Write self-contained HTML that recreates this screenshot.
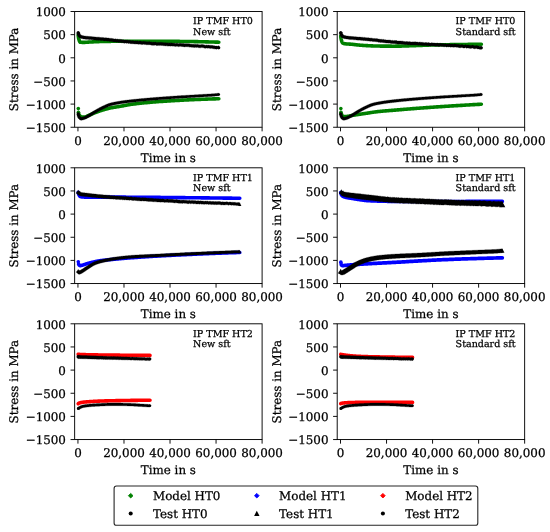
<!DOCTYPE html>
<html lang="en"><head><meta charset="utf-8"><title>Stress relaxation: model vs test</title>
<style>html,body{margin:0;padding:0;background:#fff;}body{width:550px;height:532px;overflow:hidden;}svg{display:block;}text{text-rendering:geometricPrecision;font-family:"DejaVu Serif","Liberation Serif",serif;fill:#000;stroke:#000;stroke-width:0.25px;}.t{font-size:11.9px;}.s{font-size:9.55px;}.ax{fill:none;stroke:#000;stroke-width:0.94;}.ln{fill:none;stroke-linecap:round;stroke-linejoin:round;}</style></head><body>
<svg width="550" height="532" viewBox="0 0 550 532">
<rect width="550" height="532" fill="#fff"/>
<g>
<path class="ln" stroke="#008000" stroke-width="3.6" d="M78.18 35.11 L78.24 35.7 L78.31 36.27 L78.39 36.82 L78.46 37.35 L78.55 37.85 L78.64 38.32 L78.73 38.75 L78.83 39.15 L78.94 39.52 L79.05 39.9 L79.17 40.28 L79.29 40.66 L79.42 41.01 L79.55 41.33 L79.69 41.62 L79.83 41.85 L79.98 42.03 L80.13 42.13 L80.29 42.17 L80.45 42.19 L80.62 42.22 L80.8 42.24 L80.98 42.26 L81.16 42.28 L81.35 42.3 L81.55 42.31 L81.75 42.33 L81.96 42.34 L82.17 42.35 L82.39 42.36 L82.61 42.37 L82.84 42.37 L83.07 42.38 L83.31 42.38 L83.55 42.38 L83.8 42.38 L84.06 42.38 L84.32 42.37 L84.58 42.36 L84.85 42.35 L85.13 42.34 L85.41 42.32 L85.7 42.31 L85.99 42.29 L86.28 42.27 L86.59 42.25 L86.89 42.23 L87.21 42.2 L87.52 42.18 L87.85 42.16 L88.18 42.14 L88.51 42.11 L88.85 42.09 L89.2 42.07 L89.55 42.05 L89.9 42.03 L90.26 42.01 L90.63 41.99 L91 41.97 L91.38 41.95 L91.76 41.93 L92.14 41.91 L92.54 41.88 L92.94 41.86 L93.34 41.84 L93.75 41.81 L94.16 41.79 L94.58 41.77 L95 41.75 L95.43 41.73 L95.87 41.7 L96.31 41.68 L96.75 41.66 L97.21 41.65 L97.66 41.63 L98.12 41.61 L98.59 41.6 L99.06 41.58 L99.54 41.57 L100.02 41.55 L100.51 41.54 L101 41.53 L101.5 41.51 L102.01 41.5 L102.52 41.48 L103.03 41.47 L103.55 41.46 L104.08 41.44 L104.61 41.43 L105.14 41.42 L105.69 41.41 L106.23 41.4 L106.78 41.38 L107.34 41.37 L107.9 41.36 L108.47 41.36 L109.04 41.35 L109.62 41.34 L110.21 41.33 L110.8 41.33 L111.39 41.32 L111.99 41.32 L112.6 41.32 L113.21 41.31 L113.82 41.31 L114.44 41.31 L115.07 41.31 L115.7 41.3 L116.34 41.3 L116.98 41.3 L117.63 41.3 L118.28 41.3 L118.94 41.29 L119.6 41.29 L120.27 41.29 L120.94 41.29 L121.62 41.29 L122.31 41.29 L123 41.28 L123.69 41.28 L124.39 41.28 L125.1 41.28 L125.81 41.28 L126.53 41.28 L127.25 41.28 L127.98 41.28 L128.71 41.27 L129.45 41.27 L130.19 41.27 L130.94 41.27 L131.69 41.27 L132.45 41.27 L133.22 41.27 L133.99 41.27 L134.76 41.27 L135.54 41.27 L136.33 41.27 L137.12 41.27 L137.91 41.27 L138.72 41.27 L139.52 41.27 L140.33 41.27 L141.15 41.27 L141.97 41.28 L142.8 41.28 L143.64 41.28 L144.48 41.28 L145.32 41.28 L146.17 41.28 L147.02 41.28 L147.88 41.29 L148.75 41.29 L149.62 41.29 L150.5 41.29 L151.38 41.3 L152.26 41.3 L153.15 41.3 L154.05 41.31 L154.95 41.31 L155.86 41.31 L156.78 41.31 L157.69 41.32 L158.62 41.32 L159.55 41.33 L160.48 41.33 L161.42 41.33 L162.37 41.34 L163.32 41.34 L164.27 41.35 L165.23 41.35 L166.2 41.35 L167.17 41.36 L168.15 41.36 L169.13 41.37 L170.12 41.37 L171.11 41.38 L172.11 41.38 L173.11 41.39 L174.12 41.4 L175.13 41.4 L176.15 41.41 L177.18 41.41 L178.21 41.42 L179.24 41.42 L180.28 41.43 L181.33 41.44 L182.38 41.44 L183.44 41.45 L184.5 41.46 L185.57 41.46 L186.64 41.47 L187.72 41.48 L188.8 41.5 L189.89 41.51 L190.98 41.53 L192.08 41.54 L193.19 41.56 L194.29 41.58 L195.41 41.61 L196.53 41.63 L197.66 41.65 L198.79 41.68 L199.92 41.7 L201.06 41.73 L202.21 41.76 L203.36 41.79 L204.52 41.82 L205.68 41.84 L206.85 41.88 L208.03 41.91 L209.2 41.94 L210.39 41.97 L211.58 42 L212.77 42.03 L213.97 42.07 L215.18 42.1 L216.39 42.13 L217.6 42.16 L218.82 42.2"/>
<path class="ln" stroke="#008000" stroke-width="3.6" d="M78.64 113.36 L78.73 113.65 L78.83 113.94 L78.93 114.22 L79.04 114.48 L79.15 114.73 L79.27 114.97 L79.39 115.19 L79.52 115.39 L79.65 115.57 L79.79 115.76 L79.93 115.96 L80.08 116.15 L80.23 116.34 L80.39 116.51 L80.56 116.67 L80.72 116.81 L80.9 116.92 L81.07 117 L81.26 117.05 L81.44 117.06 L81.64 117.06 L81.84 117.06 L82.04 117.06 L82.25 117.06 L82.46 117.06 L82.68 117.06 L82.9 117.06 L83.13 117.06 L83.36 117.06 L83.6 117.06 L83.84 117.06 L84.09 117.06 L84.35 117.06 L84.6 117.06 L84.87 117.06 L85.14 117.04 L85.41 116.99 L85.69 116.9 L85.97 116.79 L86.26 116.66 L86.55 116.51 L86.85 116.35 L87.15 116.19 L87.46 116.02 L87.78 115.85 L88.09 115.7 L88.42 115.56 L88.75 115.41 L89.08 115.27 L89.42 115.12 L89.76 114.97 L90.11 114.82 L90.47 114.66 L90.82 114.5 L91.19 114.34 L91.56 114.18 L91.93 114.02 L92.31 113.86 L92.69 113.69 L93.08 113.53 L93.48 113.37 L93.88 113.2 L94.28 113.04 L94.69 112.88 L95.1 112.71 L95.52 112.54 L95.95 112.38 L96.37 112.21 L96.81 112.04 L97.25 111.87 L97.69 111.7 L98.14 111.54 L98.6 111.37 L99.05 111.21 L99.52 111.05 L99.99 110.89 L100.46 110.74 L100.94 110.58 L101.43 110.43 L101.92 110.28 L102.41 110.13 L102.91 109.98 L103.41 109.83 L103.92 109.68 L104.44 109.53 L104.96 109.38 L105.48 109.24 L106.01 109.09 L106.55 108.94 L107.09 108.79 L107.63 108.65 L108.18 108.51 L108.73 108.37 L109.29 108.23 L109.86 108.1 L110.43 107.98 L111 107.86 L111.58 107.75 L112.17 107.64 L112.76 107.54 L113.35 107.43 L113.95 107.33 L114.56 107.23 L115.17 107.13 L115.78 107.04 L116.4 106.94 L117.03 106.84 L117.66 106.74 L118.29 106.64 L118.93 106.54 L119.58 106.44 L120.23 106.33 L120.88 106.22 L121.54 106.1 L122.21 105.98 L122.88 105.86 L123.55 105.73 L124.24 105.6 L124.92 105.46 L125.61 105.33 L126.31 105.19 L127.01 105.06 L127.71 104.93 L128.42 104.8 L129.14 104.68 L129.86 104.55 L130.58 104.44 L131.31 104.33 L132.05 104.23 L132.79 104.14 L133.54 104.04 L134.29 103.95 L135.04 103.85 L135.8 103.76 L136.57 103.67 L137.34 103.58 L138.12 103.49 L138.9 103.41 L139.68 103.32 L140.47 103.23 L141.27 103.15 L142.07 103.07 L142.88 102.98 L143.69 102.9 L144.5 102.82 L145.32 102.74 L146.15 102.66 L146.98 102.59 L147.82 102.51 L148.66 102.43 L149.5 102.36 L150.35 102.28 L151.21 102.21 L152.07 102.14 L152.94 102.07 L153.81 101.99 L154.69 101.92 L155.57 101.85 L156.45 101.79 L157.34 101.72 L158.24 101.65 L159.14 101.58 L160.05 101.52 L160.96 101.45 L161.88 101.39 L162.8 101.33 L163.72 101.26 L164.66 101.2 L165.59 101.14 L166.53 101.08 L167.48 101.02 L168.43 100.96 L169.39 100.9 L170.35 100.84 L171.32 100.78 L172.29 100.72 L173.27 100.67 L174.25 100.61 L175.23 100.55 L176.23 100.5 L177.22 100.44 L178.22 100.39 L179.23 100.33 L180.24 100.28 L181.26 100.23 L182.28 100.17 L183.31 100.12 L184.34 100.07 L185.38 100.02 L186.42 99.96 L187.47 99.91 L188.52 99.86 L189.58 99.81 L190.64 99.77 L191.71 99.72 L192.78 99.67 L193.86 99.62 L194.94 99.57 L196.02 99.53 L197.12 99.48 L198.21 99.44 L199.32 99.39 L200.42 99.35 L201.54 99.3 L202.65 99.26 L203.78 99.22 L204.9 99.18 L206.04 99.14 L207.17 99.1 L208.32 99.06 L209.46 99.02 L210.62 98.98 L211.77 98.94 L212.94 98.9 L214.1 98.87 L215.28 98.83 L216.45 98.8 L217.64 98.76 L218.82 98.73"/>
<circle cx="78.3" cy="108.59" r="1.8" fill="#008000"/>
<circle cx="78.41" cy="112.2" r="1.8" fill="#008000"/>
<path fill="#000" stroke="#000" stroke-width="0.3" stroke-linejoin="round" d="M76.68 32.92 L76.73 33.08 L76.78 33.46 L76.83 33.61 L76.89 33.86 L76.95 34.09 L77.03 34.31 L77.1 34.5 L77.18 34.71 L77.27 34.9 L77.35 35.12 L77.45 35.27 L77.54 35.56 L77.63 35.58 L77.72 35.93 L77.85 35.99 L78 36.28 L78.09 36.39 L78.21 36.64 L78.38 36.85 L78.52 36.88 L78.63 36.96 L78.75 37.23 L78.95 37.32 L79.14 37.43 L79.24 37.5 L79.42 37.79 L79.71 37.96 L79.84 38 L79.96 37.9 L80.19 38.18 L80.46 38.21 L80.68 38.16 L80.67 38.26 L80.83 38.28 L81.17 38.46 L81.24 38.4 L81.31 38.39 L81.52 38.63 L81.69 38.51 L81.83 38.49 L82.04 38.59 L82.27 38.74 L82.39 38.65 L82.45 38.82 L82.61 38.77 L82.92 38.73 L83.13 38.91 L83.29 38.94 L83.55 39.02 L83.64 39.05 L83.87 38.94 L84.14 39.08 L84.36 39.1 L84.64 39.08 L84.75 39.2 L84.91 39.1 L85.22 39.24 L85.4 39.15 L85.58 39.15 L85.8 39.31 L86.07 39.27 L86.29 39.22 L86.49 39.31 L86.77 39.43 L87.02 39.33 L87.15 39.32 L87.32 39.37 L87.67 39.3 L87.93 39.41 L88.06 39.35 L88.35 39.56 L88.59 39.59 L88.82 39.44 L89.11 39.58 L89.42 39.66 L89.73 39.5 L89.93 39.67 L90.15 39.59 L90.44 39.62 L90.71 39.61 L90.99 39.7 L91.29 39.69 L91.56 39.82 L91.8 39.86 L92.06 39.72 L92.38 39.87 L92.72 39.76 L93.02 39.86 L93.28 39.89 L93.54 40.04 L93.88 39.85 L94.19 40.01 L94.46 39.99 L94.81 40.07 L95.12 40.14 L95.41 39.98 L95.8 40.1 L96.11 40.28 L96.46 40.14 L96.77 40.24 L97.02 40.2 L97.44 40.14 L97.82 40.31 L98.14 40.18 L98.45 40.29 L98.7 40.48 L99.11 40.25 L99.5 40.35 L99.77 40.28 L100.19 40.55 L100.58 40.59 L100.9 40.39 L101.26 40.49 L101.61 40.7 L101.99 40.53 L102.3 40.55 L102.64 40.53 L103.09 40.63 L103.52 40.84 L103.88 40.91 L104.24 40.93 L104.65 40.97 L105.06 40.94 L105.46 40.79 L105.89 40.93 L106.34 40.97 L106.72 40.92 L107.01 41.17 L107.42 41.16 L107.86 41.11 L108.26 41.03 L108.71 41.21 L109.17 41.43 L109.59 41.23 L109.95 41.45 L110.34 41.31 L110.8 41.5 L111.22 41.39 L111.65 41.47 L112.09 41.59 L112.53 41.78 L113.01 41.86 L113.46 41.89 L113.89 41.96 L114.35 42 L114.9 42.02 L115.4 41.91 L115.81 42.01 L116.26 42.25 L116.76 42.29 L117.19 42.03 L117.64 42.22 L118.21 42.41 L118.74 42.45 L119.12 42.33 L119.55 42.57 L120.12 42.5 L120.65 42.42 L121.09 42.51 L121.54 42.78 L122.05 42.74 L122.54 42.75 L123.06 42.73 L123.62 43.03 L124.14 43.14 L124.66 43.17 L125.18 43.07 L125.69 43.08 L126.27 43.15 L126.82 43.3 L127.34 43.09 L127.81 43.29 L128.31 43.41 L128.87 43.4 L129.42 43.37 L129.95 43.45 L130.54 43.66 L131.09 43.78 L131.59 43.7 L132.19 43.65 L132.77 43.86 L133.36 43.69 L133.94 44.01 L134.49 43.98 L135.06 43.8 L135.57 44.09 L136.19 43.95 L136.84 44.05 L137.39 43.92 L137.99 44.24 L138.53 44.36 L139.06 44.12 L139.67 44.14 L140.33 44.13 L141 44.16 L141.55 44.6 L142.11 44.54 L142.71 44.42 L143.28 44.31 L143.94 44.35 L144.61 44.57 L145.2 44.45 L145.8 44.61 L146.43 44.76 L147.04 44.76 L147.68 44.74 L148.29 44.81 L148.91 44.67 L149.56 44.72 L150.21 45 L150.84 44.77 L151.5 45.18 L152.18 45.24 L152.8 45.28 L153.42 45.14 L154.11 45.41 L154.82 45.01 L155.51 45.11 L156.17 45.54 L156.86 45.5 L157.52 45.46 L158.14 45.6 L158.9 45.31 L159.62 45.58 L160.26 45.32 L160.93 45.53 L161.61 45.42 L162.28 45.47 L162.95 45.48 L163.65 45.74 L164.33 45.73 L165.02 45.63 L165.75 45.94 L166.49 45.87 L167.22 45.85 L167.92 46.19 L168.67 45.92 L169.37 46.04 L170.09 45.88 L170.87 46.18 L171.55 45.9 L172.25 46.1 L173.01 46.35 L173.79 46.06 L174.48 46.19 L175.21 46.54 L176.03 46.37 L176.76 46.27 L177.5 46.17 L178.29 46.72 L179.06 46.22 L179.77 46.59 L180.48 46.29 L181.29 46.54 L182.08 46.45 L182.85 46.64 L183.62 46.65 L184.38 46.89 L185.17 46.76 L185.93 46.71 L186.72 46.69 L187.53 46.8 L188.31 46.87 L189.07 46.82 L189.85 47.19 L190.65 47.03 L191.48 47.21 L192.28 47.3 L193.14 47.33 L193.98 47.39 L194.73 47.49 L195.55 47.35 L196.38 47.53 L197.23 47.24 L198.1 47.48 L198.92 47.83 L199.73 47.74 L200.5 47.85 L201.29 47.61 L202.22 47.62 L203.1 47.66 L203.93 47.87 L204.76 48.19 L205.57 48.25 L206.41 47.92 L207.28 48.2 L208.19 48.08 L209.05 48.3 L209.87 48.25 L210.69 48.46 L211.57 48.36 L212.44 48.56 L213.36 48.71 L214.25 48.86 L215.03 49.11 L215.81 48.95 L216.62 49.21 L217.43 48.63 L218.26 49.24 L219.38 46.43 L218.42 45.77 L217.45 46.3 L216.49 46 L215.5 46.12 L214.51 45.85 L213.63 45.69 L212.8 45.56 L211.92 45.35 L211.05 45.45 L210.14 45.24 L209.22 45.28 L208.36 45.06 L207.54 45.18 L206.7 44.9 L205.83 45.24 L204.94 45.16 L204.07 44.84 L203.21 44.63 L202.4 44.59 L201.64 44.6 L200.76 44.83 L199.86 44.71 L199.01 44.8 L198.17 44.44 L197.38 44.21 L196.58 44.5 L195.77 44.33 L194.95 44.46 L194.08 44.36 L193.29 44.3 L192.53 44.27 L191.72 44.18 L190.94 44 L190.13 44.16 L189.32 43.79 L188.49 43.84 L187.68 43.76 L186.92 43.65 L186.13 43.67 L185.32 43.72 L184.56 43.86 L183.76 43.61 L182.98 43.6 L182.2 43.41 L181.46 43.5 L180.73 43.25 L179.91 43.55 L179.1 43.17 L178.35 43.68 L177.63 43.13 L176.87 43.22 L176.1 43.33 L175.42 43.5 L174.67 43.15 L173.88 43.02 L173.18 43.31 L172.47 43.06 L171.7 42.86 L170.92 43.13 L170.25 42.83 L169.52 42.99 L168.78 42.87 L168.09 43.14 L167.36 42.8 L166.66 42.82 L165.99 42.89 L165.31 42.6 L164.59 42.69 L163.86 42.69 L163.17 42.43 L162.45 42.42 L161.73 42.37 L161.03 42.48 L160.33 42.26 L159.6 42.52 L158.96 42.25 L158.35 42.55 L157.63 42.41 L156.94 42.45 L156.29 42.48 L155.61 42.05 L154.98 41.96 L154.37 42.36 L153.74 42.1 L153.05 42.23 L152.37 42.19 L151.75 42.13 L151.11 41.72 L150.45 41.95 L149.82 41.67 L149.19 41.62 L148.54 41.75 L147.88 41.69 L147.26 41.7 L146.62 41.7 L146 41.55 L145.36 41.39 L144.71 41.51 L144.15 41.3 L143.58 41.26 L142.93 41.36 L142.32 41.49 L141.67 41.54 L141.02 41.1 L140.49 41.07 L139.96 41.09 L139.39 41.07 L138.74 41.3 L138.1 41.17 L137.53 40.86 L136.92 40.98 L136.42 40.89 L135.88 41.04 L135.25 40.74 L134.67 40.92 L134.09 40.95 L133.54 40.63 L133.01 40.8 L132.47 40.59 L131.96 40.66 L131.36 40.73 L130.8 40.6 L130.3 40.4 L129.73 40.32 L129.2 40.35 L128.69 40.37 L128.12 40.23 L127.52 40.02 L126.97 40.23 L126.48 40.08 L126 40.02 L125.47 40.01 L124.95 40.11 L124.44 40.08 L123.93 39.97 L123.47 39.68 L122.98 39.7 L122.46 39.69 L121.97 39.73 L121.42 39.45 L120.87 39.35 L120.42 39.43 L120 39.53 L119.46 39.27 L118.87 39.38 L118.44 39.34 L118.05 39.17 L117.54 38.97 L117.03 39.22 L116.58 39.19 L116.1 38.95 L115.58 38.84 L115.15 38.95 L114.79 38.95 L114.34 38.92 L113.86 38.83 L113.4 38.8 L112.99 38.73 L112.55 38.54 L112.1 38.43 L111.65 38.34 L111.2 38.44 L110.79 38.26 L110.32 38.39 L109.83 38.15 L109.4 38.36 L109.01 38.14 L108.63 37.97 L108.19 38.05 L107.81 38.1 L107.39 38.11 L106.87 37.83 L106.44 37.88 L106.08 37.85 L105.72 37.72 L105.33 37.87 L104.95 37.9 L104.58 37.87 L104.16 37.83 L103.75 37.77 L103.42 37.56 L103.11 37.48 L102.7 37.49 L102.26 37.45 L101.9 37.63 L101.51 37.41 L101.14 37.31 L100.74 37.51 L100.41 37.47 L100.12 37.21 L99.68 37.27 L99.37 37.17 L99.09 37.41 L98.64 37.21 L98.27 37.1 L97.91 37.22 L97.62 37.05 L97.37 37.14 L96.95 37.16 L96.61 37.05 L96.31 37.2 L95.98 37.01 L95.73 36.91 L95.38 37.06 L95.07 36.99 L94.8 36.92 L94.45 36.93 L94.16 36.77 L93.89 36.97 L93.55 36.81 L93.21 36.77 L92.93 36.67 L92.69 36.79 L92.43 36.65 L92.12 36.78 L91.8 36.73 L91.51 36.61 L91.26 36.62 L90.98 36.53 L90.72 36.54 L90.46 36.51 L90.16 36.58 L89.83 36.41 L89.62 36.58 L89.42 36.5 L89.2 36.37 L88.93 36.51 L88.67 36.49 L88.47 36.28 L88.12 36.32 L87.9 36.21 L87.77 36.31 L87.47 36.24 L87.15 36.24 L86.95 36.34 L86.77 36.23 L86.53 36.14 L86.31 36.18 L86.14 36.24 L85.94 36.07 L85.69 36.07 L85.46 36.15 L85.36 36.04 L85.11 36.13 L84.82 35.99 L84.71 36.02 L84.54 36.01 L84.43 35.89 L84.28 36.02 L84 35.95 L83.89 35.9 L83.7 35.86 L83.55 35.7 L83.51 35.81 L83.33 35.85 L83.06 35.63 L82.84 35.7 L82.75 35.57 L82.64 35.5 L82.46 35.51 L82.33 35.64 L82.23 35.43 L82.01 35.4 L81.78 35.42 L81.84 35.35 L81.73 35.35 L81.44 35.16 L81.39 35.25 L81.39 35.32 L81.37 35.14 L81.24 35.23 L81.12 35.21 L81.17 35.23 L81.12 35.03 L80.99 34.95 L80.96 34.97 L80.94 35.03 L80.85 34.8 L80.76 34.73 L80.69 34.78 L80.67 34.76 L80.6 34.57 L80.51 34.47 L80.49 34.37 L80.44 34.43 L80.37 34.13 L80.29 34.14 L80.23 33.9 L80.18 33.84 L80.12 33.68 L80.07 33.57 L80.02 33.44 L79.97 33.33 L79.92 33.2 L79.87 33.01 L79.82 32.79 L79.77 32.66 L79.73 32.3 L79.68 32.15Z"/>
<circle cx="78.18" cy="32.54" r="1.55" fill="#000"/>
<circle cx="218.82" cy="47.84" r="1.51" fill="#000"/>
<path fill="#000" stroke="#000" stroke-width="0.3" stroke-linejoin="round" d="M76.75 114.07 L76.8 114.36 L76.85 114.66 L76.9 114.95 L76.96 115.24 L77.03 115.53 L77.09 115.81 L77.16 116.08 L77.24 116.35 L77.32 116.61 L77.41 116.86 L77.5 117.11 L77.6 117.34 L77.71 117.55 L77.82 117.74 L77.94 117.92 L78.06 118.1 L78.18 118.27 L78.3 118.43 L78.42 118.59 L78.55 118.74 L78.69 118.89 L78.83 119.04 L78.98 119.18 L79.14 119.32 L79.31 119.46 L79.49 119.59 L79.69 119.72 L79.89 119.83 L80.11 119.93 L80.35 120.02 L80.58 120.09 L80.82 120.14 L81.06 120.17 L81.3 120.17 L81.52 120.17 L81.74 120.15 L81.95 120.13 L82.15 120.1 L82.34 120.06 L82.53 120.02 L82.71 119.98 L82.9 119.94 L83.08 119.89 L83.26 119.84 L83.44 119.79 L83.62 119.74 L83.81 119.69 L84.01 119.63 L84.21 119.58 L84.42 119.51 L84.63 119.44 L84.84 119.36 L85.06 119.28 L85.29 119.19 L85.51 119.09 L85.73 118.99 L85.95 118.88 L86.18 118.78 L86.4 118.66 L86.62 118.55 L86.85 118.43 L87.07 118.31 L87.3 118.19 L87.53 118.07 L87.76 117.95 L87.99 117.82 L88.23 117.69 L88.47 117.57 L88.71 117.43 L88.96 117.3 L89.21 117.17 L89.47 117.03 L89.73 116.88 L90 116.72 L90.26 116.56 L90.53 116.39 L90.81 116.22 L91.08 116.04 L91.35 115.87 L91.63 115.69 L91.9 115.51 L92.18 115.32 L92.46 115.14 L92.74 114.96 L93.02 114.77 L93.3 114.59 L93.59 114.41 L93.87 114.22 L94.17 114.04 L94.46 113.86 L94.76 113.68 L95.06 113.5 L95.36 113.32 L95.67 113.14 L95.98 112.95 L96.3 112.76 L96.61 112.57 L96.93 112.38 L97.25 112.19 L97.58 112 L97.9 111.81 L98.23 111.62 L98.56 111.43 L98.9 111.25 L99.23 111.06 L99.57 110.87 L99.91 110.69 L100.26 110.5 L100.61 110.32 L100.96 110.13 L101.31 109.94 L101.67 109.76 L102.03 109.57 L102.39 109.39 L102.76 109.2 L103.12 109.02 L103.49 108.84 L103.86 108.66 L104.24 108.48 L104.62 108.31 L105 108.13 L105.38 107.96 L105.77 107.78 L106.16 107.6 L106.56 107.43 L106.95 107.25 L107.35 107.07 L107.75 106.9 L108.14 106.73 L108.54 106.57 L108.93 106.42 L109.33 106.27 L109.73 106.13 L110.13 105.99 L110.54 105.87 L110.95 105.76 L111.37 105.64 L111.79 105.54 L112.21 105.43 L112.64 105.32 L113.08 105.22 L113.51 105.12 L113.96 105.03 L114.4 104.93 L114.85 104.84 L115.3 104.75 L115.75 104.66 L116.21 104.57 L116.67 104.49 L117.14 104.4 L117.61 104.32 L118.08 104.24 L118.55 104.16 L119.03 104.08 L119.51 104 L119.99 103.92 L120.48 103.84 L120.97 103.76 L121.46 103.69 L121.96 103.61 L122.46 103.54 L122.96 103.46 L123.46 103.39 L123.97 103.32 L124.48 103.25 L124.99 103.18 L125.5 103.11 L126.02 103.05 L126.54 102.98 L127.07 102.91 L127.6 102.85 L128.13 102.78 L128.66 102.72 L129.2 102.66 L129.74 102.59 L130.28 102.53 L130.83 102.47 L131.37 102.4 L131.93 102.34 L132.48 102.28 L133.04 102.21 L133.6 102.15 L134.16 102.09 L134.73 102.03 L135.3 101.97 L135.87 101.91 L136.44 101.85 L137.02 101.79 L137.6 101.73 L138.18 101.67 L138.77 101.61 L139.36 101.55 L139.95 101.49 L140.54 101.43 L141.14 101.37 L141.74 101.31 L142.34 101.26 L142.95 101.2 L143.56 101.14 L144.17 101.08 L144.78 101.03 L145.4 100.97 L146.02 100.91 L146.64 100.86 L147.27 100.8 L147.9 100.75 L148.53 100.69 L149.17 100.63 L149.8 100.58 L150.44 100.52 L151.09 100.47 L151.73 100.41 L152.38 100.36 L153.03 100.3 L153.69 100.25 L154.35 100.19 L155.01 100.14 L155.67 100.09 L156.34 100.03 L157.01 99.98 L157.68 99.92 L158.35 99.87 L159.03 99.82 L159.71 99.76 L160.39 99.71 L161.08 99.66 L161.77 99.6 L162.46 99.55 L163.16 99.5 L163.85 99.45 L164.55 99.39 L165.26 99.34 L165.96 99.29 L166.67 99.24 L167.39 99.19 L168.1 99.13 L168.82 99.08 L169.54 99.03 L170.26 98.98 L170.99 98.93 L171.72 98.87 L172.45 98.82 L173.18 98.77 L173.92 98.72 L174.66 98.67 L175.41 98.62 L176.15 98.57 L176.9 98.52 L177.65 98.46 L178.41 98.41 L179.16 98.36 L179.92 98.32 L180.69 98.27 L181.45 98.22 L182.22 98.17 L182.99 98.12 L183.77 98.07 L184.55 98.02 L185.33 97.97 L186.11 97.93 L186.9 97.88 L187.69 97.83 L188.48 97.78 L189.27 97.73 L190.07 97.68 L190.87 97.64 L191.67 97.59 L192.48 97.54 L193.29 97.49 L194.1 97.44 L194.92 97.39 L195.74 97.34 L196.56 97.29 L197.38 97.24 L198.21 97.19 L199.04 97.14 L199.87 97.09 L200.7 97.04 L201.54 96.99 L202.38 96.94 L203.23 96.89 L204.07 96.84 L204.92 96.78 L205.77 96.73 L206.63 96.69 L207.48 96.64 L208.35 96.59 L209.21 96.54 L210.08 96.49 L210.95 96.44 L211.83 96.38 L212.72 96.32 L213.61 96.26 L214.5 96.18 L215.39 96.1 L216.29 96 L217.19 95.88 L218.09 95.75 L219 95.62 L218.65 93.14 L217.77 93.27 L216.88 93.39 L216.01 93.51 L215.13 93.61 L214.26 93.68 L213.39 93.75 L212.52 93.81 L211.66 93.87 L210.79 93.92 L209.93 93.97 L209.06 94.02 L208.2 94.06 L207.34 94.11 L206.48 94.16 L205.63 94.2 L204.77 94.25 L203.92 94.3 L203.08 94.35 L202.23 94.4 L201.39 94.45 L200.55 94.5 L199.72 94.55 L198.89 94.59 L198.06 94.64 L197.23 94.69 L196.41 94.74 L195.59 94.78 L194.77 94.83 L193.95 94.88 L193.14 94.92 L192.33 94.97 L191.52 95.02 L190.72 95.06 L189.92 95.11 L189.12 95.15 L188.32 95.2 L187.53 95.25 L186.74 95.29 L185.95 95.34 L185.17 95.38 L184.39 95.43 L183.61 95.48 L182.83 95.52 L182.06 95.57 L181.29 95.62 L180.52 95.66 L179.76 95.71 L179 95.76 L178.24 95.81 L177.48 95.86 L176.73 95.9 L175.98 95.95 L175.23 96 L174.49 96.05 L173.74 96.1 L173 96.15 L172.27 96.2 L171.54 96.25 L170.81 96.3 L170.08 96.35 L169.35 96.4 L168.63 96.45 L167.91 96.5 L167.2 96.55 L166.48 96.6 L165.77 96.65 L165.07 96.7 L164.36 96.75 L163.66 96.8 L162.96 96.85 L162.26 96.9 L161.57 96.95 L160.88 97 L160.19 97.06 L159.51 97.11 L158.83 97.16 L158.15 97.21 L157.47 97.26 L156.8 97.31 L156.13 97.37 L155.46 97.42 L154.79 97.47 L154.13 97.52 L153.47 97.58 L152.81 97.63 L152.16 97.68 L151.51 97.73 L150.86 97.79 L150.22 97.84 L149.57 97.9 L148.94 97.95 L148.3 98 L147.66 98.06 L147.03 98.11 L146.41 98.17 L145.78 98.22 L145.16 98.28 L144.54 98.33 L143.92 98.39 L143.31 98.44 L142.7 98.5 L142.09 98.55 L141.48 98.61 L140.88 98.67 L140.28 98.72 L139.68 98.78 L139.09 98.84 L138.5 98.9 L137.91 98.95 L137.32 99.01 L136.74 99.07 L136.16 99.13 L135.58 99.19 L135.01 99.25 L134.44 99.31 L133.87 99.37 L133.3 99.43 L132.74 99.49 L132.18 99.55 L131.62 99.61 L131.07 99.68 L130.51 99.74 L129.97 99.8 L129.42 99.86 L128.88 99.92 L128.34 99.99 L127.8 100.05 L127.26 100.11 L126.73 100.18 L126.2 100.24 L125.67 100.31 L125.15 100.37 L124.63 100.44 L124.11 100.51 L123.59 100.58 L123.07 100.65 L122.56 100.72 L122.05 100.79 L121.55 100.87 L121.05 100.94 L120.55 101.02 L120.05 101.1 L119.56 101.18 L119.06 101.25 L118.58 101.33 L118.09 101.41 L117.61 101.49 L117.13 101.57 L116.65 101.66 L116.17 101.74 L115.7 101.83 L115.23 101.92 L114.76 102.01 L114.29 102.1 L113.83 102.19 L113.36 102.29 L112.9 102.39 L112.45 102.49 L111.99 102.6 L111.54 102.71 L111.09 102.82 L110.63 102.94 L110.18 103.06 L109.73 103.18 L109.28 103.32 L108.84 103.46 L108.39 103.62 L107.95 103.78 L107.52 103.95 L107.08 104.12 L106.66 104.3 L106.24 104.48 L105.83 104.67 L105.42 104.85 L105.01 105.03 L104.61 105.21 L104.21 105.39 L103.82 105.57 L103.43 105.74 L103.03 105.93 L102.65 106.11 L102.26 106.29 L101.88 106.48 L101.49 106.67 L101.12 106.86 L100.74 107.05 L100.37 107.24 L100.01 107.43 L99.64 107.62 L99.28 107.81 L98.92 108 L98.56 108.19 L98.21 108.38 L97.86 108.57 L97.51 108.76 L97.17 108.96 L96.82 109.15 L96.49 109.35 L96.15 109.54 L95.82 109.74 L95.49 109.93 L95.17 110.12 L94.84 110.31 L94.53 110.5 L94.21 110.69 L93.9 110.87 L93.58 111.06 L93.28 111.24 L92.97 111.43 L92.66 111.61 L92.36 111.8 L92.06 111.99 L91.76 112.18 L91.47 112.37 L91.18 112.56 L90.9 112.74 L90.62 112.93 L90.34 113.11 L90.07 113.29 L89.8 113.46 L89.54 113.63 L89.28 113.79 L89.03 113.95 L88.78 114.1 L88.54 114.25 L88.29 114.39 L88.05 114.53 L87.81 114.66 L87.58 114.79 L87.34 114.91 L87.1 115.04 L86.87 115.16 L86.64 115.29 L86.41 115.41 L86.18 115.53 L85.96 115.65 L85.74 115.77 L85.53 115.88 L85.32 115.99 L85.12 116.09 L84.92 116.19 L84.72 116.28 L84.54 116.37 L84.35 116.45 L84.18 116.53 L84 116.6 L83.84 116.66 L83.67 116.72 L83.5 116.78 L83.34 116.83 L83.18 116.87 L83.01 116.92 L82.85 116.96 L82.69 117.01 L82.53 117.05 L82.37 117.09 L82.22 117.13 L82.08 117.17 L81.94 117.2 L81.82 117.22 L81.7 117.24 L81.6 117.26 L81.51 117.27 L81.43 117.28 L81.38 117.29 L81.33 117.29 L81.29 117.29 L81.26 117.28 L81.24 117.27 L81.22 117.26 L81.19 117.24 L81.15 117.22 L81.1 117.19 L81.05 117.15 L80.99 117.1 L80.93 117.04 L80.86 116.98 L80.79 116.9 L80.72 116.82 L80.65 116.74 L80.58 116.65 L80.51 116.56 L80.45 116.48 L80.4 116.4 L80.34 116.32 L80.29 116.23 L80.23 116.12 L80.18 116 L80.12 115.86 L80.07 115.7 L80.01 115.51 L79.96 115.32 L79.9 115.1 L79.85 114.88 L79.8 114.64 L79.75 114.38 L79.7 114.12 L79.65 113.85 L79.61 113.58Z"/>
<circle cx="78.18" cy="113.82" r="1.45" fill="#000"/>
<circle cx="218.82" cy="94.38" r="1.25" fill="#000"/>
<rect class="ax" x="74.65" y="11.5" width="187.45" height="115.75"/>
<path class="ax" d="M77.95 127.25v4.1M123.99 127.25v4.1M170.03 127.25v4.1M216.06 127.25v4.1M262.1 127.25v4.1M74.65 11.5h-4.1M74.65 34.65h-4.1M74.65 57.8h-4.1M74.65 80.95h-4.1M74.65 104.1h-4.1M74.65 127.25h-4.1"/>
<text class="t" text-anchor="middle" x="77.95" y="144.75">0</text>
<text class="t" text-anchor="middle" x="123.99" y="144.75">20,000</text>
<text class="t" text-anchor="middle" x="170.03" y="144.75">40,000</text>
<text class="t" text-anchor="middle" x="216.06" y="144.75">60,000</text>
<text class="t" text-anchor="middle" x="262.1" y="144.75">80,000</text>
<text class="t" text-anchor="end" x="65.95" y="16.2">1000</text>
<text class="t" text-anchor="end" x="65.95" y="39.35">500</text>
<text class="t" text-anchor="end" x="65.95" y="62.5">0</text>
<text class="t" text-anchor="end" x="65.95" y="85.65">−500</text>
<text class="t" text-anchor="end" x="65.95" y="108.8">−1000</text>
<text class="t" text-anchor="end" x="65.95" y="131.95">−1500</text>
<text class="t" text-anchor="middle" x="168.38" y="161.75">Time in s</text>
<text class="t" text-anchor="middle" transform="translate(18.15 69.38) rotate(-90)">Stress in MPa</text>
<text class="s" x="193.05" y="24.2">IP TMF HT0</text>
<text class="s" x="193.05" y="35">New sft</text>
</g>
<g>
<path class="ln" stroke="#008000" stroke-width="3.6" d="M340.73 36.04 L340.79 36.63 L340.86 37.2 L340.94 37.75 L341.01 38.27 L341.1 38.77 L341.19 39.24 L341.28 39.68 L341.38 40.08 L341.49 40.45 L341.6 40.81 L341.72 41.18 L341.84 41.53 L341.97 41.87 L342.1 42.18 L342.24 42.46 L342.38 42.7 L342.53 42.89 L342.68 43.03 L342.84 43.13 L343 43.21 L343.17 43.28 L343.35 43.35 L343.53 43.42 L343.71 43.48 L343.9 43.53 L344.1 43.58 L344.3 43.63 L344.51 43.67 L344.72 43.71 L344.94 43.75 L345.16 43.78 L345.39 43.81 L345.62 43.84 L345.86 43.87 L346.1 43.89 L346.35 43.92 L346.61 43.94 L346.87 43.96 L347.13 43.98 L347.4 44 L347.68 44.01 L347.96 44.03 L348.25 44.04 L348.54 44.06 L348.83 44.07 L349.14 44.09 L349.44 44.1 L349.76 44.12 L350.07 44.13 L350.4 44.15 L350.73 44.18 L351.06 44.2 L351.4 44.23 L351.75 44.26 L352.1 44.29 L352.45 44.33 L352.81 44.37 L353.18 44.41 L353.55 44.46 L353.93 44.51 L354.31 44.55 L354.69 44.6 L355.09 44.65 L355.49 44.7 L355.89 44.75 L356.3 44.8 L356.71 44.84 L357.13 44.89 L357.55 44.94 L357.98 44.98 L358.42 45.02 L358.86 45.06 L359.3 45.1 L359.76 45.14 L360.21 45.18 L360.67 45.21 L361.14 45.25 L361.61 45.29 L362.09 45.32 L362.57 45.36 L363.06 45.4 L363.55 45.43 L364.05 45.46 L364.56 45.5 L365.07 45.53 L365.58 45.56 L366.1 45.59 L366.63 45.62 L367.16 45.64 L367.69 45.67 L368.24 45.7 L368.78 45.73 L369.33 45.76 L369.89 45.78 L370.45 45.81 L371.02 45.84 L371.59 45.86 L372.17 45.89 L372.76 45.91 L373.35 45.93 L373.94 45.96 L374.54 45.97 L375.15 45.99 L375.76 46.01 L376.37 46.02 L376.99 46.03 L377.62 46.04 L378.25 46.05 L378.89 46.06 L379.53 46.07 L380.18 46.08 L380.83 46.09 L381.49 46.1 L382.15 46.11 L382.82 46.11 L383.49 46.12 L384.17 46.13 L384.86 46.13 L385.55 46.14 L386.24 46.15 L386.94 46.15 L387.65 46.16 L388.36 46.16 L389.08 46.17 L389.8 46.17 L390.53 46.17 L391.26 46.17 L392 46.18 L392.74 46.18 L393.49 46.18 L394.24 46.18 L395 46.18 L395.77 46.17 L396.54 46.17 L397.31 46.16 L398.09 46.15 L398.88 46.13 L399.67 46.12 L400.46 46.1 L401.27 46.08 L402.07 46.06 L402.88 46.04 L403.7 46.02 L404.52 45.99 L405.35 45.97 L406.19 45.94 L407.03 45.91 L407.87 45.88 L408.72 45.85 L409.57 45.82 L410.43 45.79 L411.3 45.76 L412.17 45.72 L413.05 45.69 L413.93 45.66 L414.81 45.62 L415.7 45.59 L416.6 45.55 L417.5 45.51 L418.41 45.48 L419.33 45.44 L420.24 45.41 L421.17 45.37 L422.1 45.34 L423.03 45.3 L423.97 45.27 L424.92 45.23 L425.87 45.2 L426.82 45.17 L427.78 45.14 L428.75 45.1 L429.72 45.07 L430.7 45.05 L431.68 45.02 L432.67 44.99 L433.66 44.96 L434.66 44.94 L435.66 44.92 L436.67 44.9 L437.68 44.88 L438.7 44.86 L439.73 44.84 L440.76 44.82 L441.79 44.8 L442.83 44.78 L443.88 44.76 L444.93 44.75 L445.99 44.73 L447.05 44.71 L448.12 44.69 L449.19 44.68 L450.27 44.66 L451.35 44.64 L452.44 44.62 L453.53 44.61 L454.63 44.59 L455.74 44.58 L456.84 44.56 L457.96 44.54 L459.08 44.53 L460.21 44.51 L461.34 44.5 L462.47 44.48 L463.61 44.47 L464.76 44.45 L465.91 44.44 L467.07 44.43 L468.23 44.41 L469.4 44.4 L470.58 44.39 L471.75 44.37 L472.94 44.36 L474.13 44.35 L475.32 44.34 L476.52 44.32 L477.73 44.31 L478.94 44.3 L480.15 44.29 L481.37 44.28"/>
<path class="ln" stroke="#008000" stroke-width="3.6" d="M341.19 113.36 L341.28 113.67 L341.38 113.97 L341.48 114.26 L341.59 114.53 L341.7 114.79 L341.82 115.02 L341.94 115.22 L342.07 115.4 L342.2 115.55 L342.34 115.69 L342.48 115.84 L342.63 115.98 L342.78 116.11 L342.94 116.23 L343.11 116.34 L343.27 116.43 L343.45 116.51 L343.62 116.56 L343.81 116.59 L343.99 116.6 L344.19 116.6 L344.39 116.59 L344.59 116.59 L344.8 116.58 L345.01 116.57 L345.23 116.55 L345.45 116.54 L345.68 116.52 L345.91 116.5 L346.15 116.48 L346.39 116.46 L346.64 116.44 L346.9 116.42 L347.15 116.39 L347.42 116.37 L347.69 116.34 L347.96 116.3 L348.24 116.25 L348.52 116.2 L348.81 116.14 L349.1 116.08 L349.4 116.01 L349.7 115.94 L350.01 115.87 L350.33 115.8 L350.64 115.72 L350.97 115.65 L351.3 115.58 L351.63 115.51 L351.97 115.45 L352.31 115.39 L352.66 115.33 L353.02 115.27 L353.37 115.21 L353.74 115.15 L354.11 115.1 L354.48 115.04 L354.86 114.98 L355.24 114.92 L355.63 114.86 L356.03 114.81 L356.43 114.75 L356.83 114.69 L357.24 114.63 L357.65 114.57 L358.07 114.5 L358.5 114.44 L358.92 114.38 L359.36 114.31 L359.8 114.25 L360.24 114.18 L360.69 114.12 L361.15 114.05 L361.6 113.98 L362.07 113.91 L362.54 113.84 L363.01 113.77 L363.49 113.7 L363.98 113.63 L364.47 113.56 L364.96 113.49 L365.46 113.41 L365.96 113.34 L366.47 113.26 L366.99 113.18 L367.51 113.1 L368.03 113.02 L368.56 112.94 L369.1 112.85 L369.64 112.77 L370.18 112.68 L370.73 112.59 L371.28 112.51 L371.84 112.42 L372.41 112.34 L372.98 112.25 L373.55 112.17 L374.13 112.08 L374.72 112 L375.31 111.92 L375.9 111.85 L376.5 111.77 L377.11 111.7 L377.72 111.63 L378.33 111.56 L378.95 111.5 L379.58 111.43 L380.21 111.37 L380.84 111.31 L381.48 111.25 L382.13 111.19 L382.78 111.13 L383.43 111.07 L384.09 111.02 L384.76 110.96 L385.43 110.91 L386.1 110.85 L386.79 110.8 L387.47 110.74 L388.16 110.69 L388.86 110.63 L389.56 110.57 L390.26 110.52 L390.97 110.46 L391.69 110.4 L392.41 110.34 L393.13 110.28 L393.86 110.22 L394.6 110.16 L395.34 110.1 L396.09 110.04 L396.84 109.97 L397.59 109.91 L398.35 109.85 L399.12 109.78 L399.89 109.72 L400.67 109.65 L401.45 109.59 L402.23 109.53 L403.02 109.46 L403.82 109.4 L404.62 109.33 L405.43 109.26 L406.24 109.2 L407.05 109.13 L407.87 109.07 L408.7 109 L409.53 108.93 L410.37 108.87 L411.21 108.8 L412.05 108.73 L412.9 108.67 L413.76 108.6 L414.62 108.53 L415.49 108.47 L416.36 108.4 L417.24 108.33 L418.12 108.26 L419 108.2 L419.89 108.13 L420.79 108.06 L421.69 107.99 L422.6 107.93 L423.51 107.86 L424.43 107.79 L425.35 107.72 L426.27 107.66 L427.21 107.59 L428.14 107.52 L429.08 107.45 L430.03 107.39 L430.98 107.32 L431.94 107.25 L432.9 107.19 L433.87 107.12 L434.84 107.05 L435.82 106.99 L436.8 106.92 L437.78 106.85 L438.78 106.79 L439.77 106.72 L440.77 106.65 L441.78 106.59 L442.79 106.52 L443.81 106.45 L444.83 106.39 L445.86 106.32 L446.89 106.26 L447.93 106.19 L448.97 106.12 L450.02 106.06 L451.07 105.99 L452.13 105.92 L453.19 105.86 L454.26 105.79 L455.33 105.72 L456.41 105.66 L457.49 105.59 L458.57 105.52 L459.67 105.46 L460.76 105.39 L461.87 105.33 L462.97 105.26 L464.09 105.19 L465.2 105.13 L466.33 105.06 L467.45 104.99 L468.59 104.93 L469.72 104.86 L470.87 104.79 L472.01 104.73 L473.17 104.66 L474.32 104.59 L475.49 104.53 L476.65 104.46 L477.83 104.39 L479 104.33 L480.19 104.26 L481.37 104.19"/>
<circle cx="340.85" cy="108.59" r="1.8" fill="#008000"/>
<circle cx="340.96" cy="112.2" r="1.8" fill="#008000"/>
<path fill="#000" stroke="#000" stroke-width="0.3" stroke-linejoin="round" d="M339.22 32.77 L339.26 32.98 L339.32 33.24 L339.37 33.54 L339.43 33.82 L339.5 34.09 L339.57 34.23 L339.65 34.47 L339.74 34.69 L339.83 34.92 L339.91 35.1 L339.99 35.28 L340.09 35.44 L340.19 35.64 L340.28 35.81 L340.38 36.01 L340.5 36.24 L340.62 36.27 L340.72 36.55 L340.86 36.75 L341.01 36.97 L341.14 36.92 L341.34 37.3 L341.56 37.46 L341.78 37.67 L341.86 37.69 L341.97 37.72 L342.25 37.77 L342.48 38.01 L342.74 37.97 L342.81 38.22 L342.84 38.16 L343.01 38.22 L343.21 38.21 L343.46 38.25 L343.61 38.43 L343.74 38.45 L343.95 38.54 L343.99 38.43 L344.17 38.51 L344.49 38.72 L344.73 38.65 L344.84 38.63 L344.87 38.81 L345.12 38.77 L345.32 38.73 L345.45 38.71 L345.7 38.84 L345.87 39 L346.02 38.93 L346.16 39.01 L346.4 38.94 L346.78 39.09 L347.02 39.14 L347.15 39.07 L347.3 39.19 L347.54 39.07 L347.78 39.05 L347.95 39.07 L348.12 39.22 L348.28 39.19 L348.47 39.19 L348.7 39.25 L348.96 39.29 L349.23 39.43 L349.47 39.44 L349.72 39.37 L349.95 39.4 L350.2 39.48 L350.52 39.43 L350.74 39.43 L350.95 39.42 L351.21 39.55 L351.46 39.55 L351.7 39.47 L351.94 39.56 L352.19 39.55 L352.43 39.62 L352.68 39.57 L352.95 39.62 L353.24 39.61 L353.55 39.81 L353.81 39.81 L354.09 39.78 L354.38 39.8 L354.65 39.8 L354.98 39.77 L355.28 39.87 L355.57 39.79 L355.88 39.87 L356.12 40.03 L356.38 39.93 L356.7 39.97 L356.98 39.94 L357.36 39.96 L357.72 40.13 L358.02 40.19 L358.37 40.08 L358.62 40.27 L358.97 40.09 L359.38 40.2 L359.65 40.08 L359.98 40.11 L360.36 40.35 L360.67 40.2 L360.93 40.23 L361.23 40.41 L361.65 40.33 L361.98 40.26 L362.33 40.36 L362.79 40.58 L363.1 40.49 L363.39 40.52 L363.77 40.69 L364.18 40.43 L364.57 40.49 L364.93 40.72 L365.36 40.64 L365.67 40.7 L365.98 40.76 L366.44 40.75 L366.81 40.77 L367.16 40.72 L367.6 41 L368.04 40.87 L368.38 40.94 L368.73 41.07 L369.22 41.13 L369.64 41.02 L369.99 40.98 L370.41 41.29 L370.83 41.21 L371.21 41.1 L371.62 41.27 L372.1 41.36 L372.56 41.45 L372.92 41.56 L373.37 41.57 L373.87 41.5 L374.3 41.56 L374.75 41.6 L375.22 41.74 L375.61 41.59 L376 41.65 L376.45 41.82 L376.92 41.78 L377.37 41.82 L377.78 42.01 L378.26 42.13 L378.77 42.17 L379.23 42.23 L379.73 42.23 L380.26 42.42 L380.77 42.39 L381.23 42.35 L381.66 42.44 L382.17 42.46 L382.69 42.44 L383.14 42.42 L383.59 42.69 L384.09 42.77 L384.59 42.75 L385.09 42.75 L385.64 42.97 L386.19 43.08 L386.71 43.07 L387.25 43.11 L387.76 43.09 L388.29 43.07 L388.79 43.25 L389.32 43.04 L389.88 43.13 L390.35 43.28 L390.9 43.44 L391.47 43.55 L391.98 43.41 L392.53 43.43 L393.13 43.74 L393.72 43.51 L394.23 43.51 L394.7 43.65 L395.29 43.66 L395.86 43.64 L396.38 43.65 L396.98 43.94 L397.58 44.1 L398.17 44.05 L398.7 44.14 L399.31 44.1 L399.94 44.1 L400.5 44.02 L401.08 43.99 L401.66 44.31 L402.22 44.07 L402.79 44.43 L403.39 44.37 L404.03 44.52 L404.63 44.53 L405.22 44.68 L405.9 44.62 L406.52 44.6 L407.11 44.59 L407.72 44.72 L408.35 44.89 L408.97 44.54 L409.6 44.87 L410.25 44.92 L410.93 45.06 L411.55 44.98 L412.18 45.02 L412.85 44.92 L413.51 44.98 L414.17 44.89 L414.76 44.94 L415.38 44.91 L416.07 45.14 L416.73 44.98 L417.37 45.07 L418.01 45.41 L418.7 45.21 L419.35 45.14 L419.99 45.18 L420.7 45.24 L421.38 45.39 L422.06 45.27 L422.73 45.66 L423.41 45.47 L424.1 45.8 L424.81 45.56 L425.54 45.58 L426.22 45.63 L426.9 45.76 L427.63 45.84 L428.34 45.64 L429.04 45.88 L429.77 45.99 L430.51 46.17 L431.19 45.89 L431.88 45.87 L432.63 46.04 L433.42 45.96 L434.15 46.04 L434.8 46.14 L435.52 46.35 L436.3 46.3 L437.05 46.13 L437.79 46.15 L438.55 46.58 L439.31 46.41 L440.02 46.34 L440.74 46.31 L441.57 46.54 L442.34 46.5 L443.02 46.62 L443.8 46.69 L444.6 46.74 L445.4 46.5 L446.17 46.97 L446.92 47.04 L447.72 46.7 L448.48 46.94 L449.27 46.64 L450.13 47.14 L450.92 47.05 L451.69 47.1 L452.47 47.08 L453.27 47.34 L454.1 46.89 L454.86 47.15 L455.65 47.01 L456.47 47.24 L457.28 47.29 L458.11 47.37 L458.9 47.64 L459.68 47.66 L460.53 47.79 L461.42 47.51 L462.26 47.47 L463.09 47.93 L463.97 48.09 L464.76 47.92 L465.53 47.61 L466.41 48.2 L467.32 48 L468.2 47.92 L469.01 48.36 L469.83 48.32 L470.69 48.46 L471.55 48.37 L472.49 48.12 L473.36 48.39 L474.2 48.81 L475.05 48.72 L475.87 48.54 L476.74 48.41 L477.64 48.92 L478.52 48.88 L479.34 49.15 L480.17 49.13 L481.06 49.35 L481.69 46.39 L480.79 46.17 L479.83 46.16 L478.88 45.88 L477.98 45.91 L477.12 45.41 L476.22 45.53 L475.29 45.7 L474.39 45.79 L473.49 45.37 L472.62 45.1 L471.82 45.35 L470.95 45.45 L470.1 45.3 L469.2 45.33 L468.3 44.89 L467.48 44.97 L466.69 45.19 L465.87 44.6 L464.95 44.9 L464.06 45.06 L463.27 44.9 L462.43 44.44 L461.6 44.48 L460.83 44.77 L460.03 44.65 L459.16 44.61 L458.31 44.34 L457.5 44.27 L456.69 44.21 L455.88 43.99 L455.05 44.12 L454.2 43.85 L453.42 44.31 L452.62 44.04 L451.8 44.06 L450.98 44.01 L450.18 44.1 L449.47 43.61 L448.68 43.9 L447.88 43.67 L447.11 44 L446.31 43.93 L445.52 43.46 L444.78 43.7 L444.04 43.65 L443.29 43.59 L442.45 43.45 L441.69 43.5 L441 43.27 L440.22 43.3 L439.42 43.36 L438.68 43.53 L437.94 43.11 L437.2 43.09 L436.47 43.25 L435.77 43.31 L435.02 43.1 L434.2 42.99 L433.48 42.91 L432.81 42.99 L432.11 42.83 L431.36 42.84 L430.6 43.12 L429.91 42.95 L429.21 42.83 L428.49 42.59 L427.8 42.79 L427.12 42.71 L426.4 42.58 L425.68 42.53 L425.01 42.52 L424.34 42.75 L423.65 42.43 L422.95 42.61 L422.26 42.22 L421.57 42.34 L420.9 42.19 L420.26 42.14 L419.55 42.09 L418.86 42.16 L418.21 42.36 L417.53 42.02 L416.85 41.92 L416.19 42.08 L415.56 41.85 L414.89 41.88 L414.17 41.83 L413.54 41.92 L412.91 41.86 L412.3 41.96 L411.65 41.92 L411 42 L410.41 41.86 L409.8 41.81 L409.18 41.49 L408.55 41.83 L407.93 41.66 L407.31 41.53 L406.67 41.54 L406.07 41.56 L405.53 41.63 L404.9 41.48 L404.29 41.47 L403.73 41.32 L403.13 41.39 L402.51 41.01 L401.89 41.25 L401.28 40.93 L400.69 40.95 L400.08 41.03 L399.54 41.04 L399 41.09 L398.38 40.98 L397.82 41.04 L397.29 40.88 L396.75 40.6 L396.14 40.59 L395.59 40.61 L395.06 40.6 L394.42 40.44 L393.82 40.44 L393.31 40.67 L392.81 40.38 L392.28 40.35 L391.7 40.49 L391.19 40.38 L390.67 40.22 L390.08 40.07 L389.57 39.98 L389.06 40.19 L388.51 40.01 L387.99 40.03 L387.47 40.05 L386.97 40.01 L386.47 40.02 L385.99 39.91 L385.53 39.71 L385.02 39.7 L384.52 39.72 L384.02 39.64 L383.48 39.37 L382.94 39.38 L382.48 39.4 L382.01 39.38 L381.48 39.28 L380.97 39.32 L380.52 39.36 L380.1 39.17 L379.65 39.18 L379.17 39.11 L378.74 39.09 L378.3 38.97 L377.79 38.77 L377.32 38.73 L376.88 38.77 L376.42 38.59 L375.91 38.53 L375.41 38.66 L374.98 38.53 L374.56 38.48 L374.1 38.43 L373.73 38.51 L373.32 38.5 L372.82 38.38 L372.42 38.3 L372.05 38.22 L371.61 38.05 L371.16 38.14 L370.74 38.22 L370.34 37.91 L369.86 37.94 L369.47 38.05 L369.15 38.02 L368.7 37.87 L368.24 37.79 L367.89 37.93 L367.54 37.66 L367.11 37.7 L366.7 37.68 L366.4 37.71 L365.94 37.63 L365.49 37.55 L365.17 37.64 L364.78 37.41 L364.43 37.35 L364.1 37.62 L363.75 37.45 L363.32 37.41 L362.91 37.49 L362.66 37.29 L362.3 37.19 L361.93 37.25 L361.66 37.35 L361.26 37.16 L360.84 37.11 L360.47 37.26 L360.18 37.03 L359.84 37 L359.44 37.11 L359.21 37.01 L358.91 37.2 L358.51 37 L358.22 37.11 L357.89 37.04 L357.62 36.88 L357.37 36.88 L357.04 36.9 L356.76 36.87 L356.41 36.95 L356.05 36.78 L355.77 36.7 L355.47 36.78 L355.19 36.68 L354.94 36.72 L354.64 36.72 L354.37 36.7 L354.08 36.72 L353.79 36.72 L353.55 36.53 L353.31 36.55 L353.04 36.49 L352.76 36.55 L352.48 36.47 L352.2 36.47 L351.93 36.39 L351.66 36.46 L351.41 36.46 L351.18 36.34 L350.89 36.34 L350.63 36.33 L350.47 36.4 L350.25 36.32 L350 36.29 L349.8 36.36 L349.59 36.35 L349.4 36.22 L349.21 36.2 L349.01 36.14 L348.76 36.13 L348.5 36.15 L348.25 35.99 L347.99 35.96 L347.83 35.99 L347.66 36.12 L347.41 35.98 L347.15 36.04 L347 36 L347 35.91 L346.86 35.99 L346.63 35.89 L346.41 35.95 L346.23 35.79 L346.12 35.68 L345.9 35.69 L345.76 35.74 L345.67 35.82 L345.37 35.58 L345.16 35.58 L345.08 35.68 L345.08 35.55 L344.96 35.49 L344.7 35.54 L344.61 35.47 L344.44 35.45 L344.31 35.27 L344.28 35.3 L344.21 35.36 L344.1 35.33 L343.87 35.31 L343.69 35.02 L343.69 35.15 L343.68 35.02 L343.72 35.16 L343.6 35.13 L343.45 35.06 L343.44 34.99 L343.45 35.04 L343.44 34.84 L343.37 34.96 L343.32 34.86 L343.26 34.77 L343.17 34.51 L343.1 34.56 L343.06 34.46 L342.98 34.3 L342.9 34.14 L342.84 34.01 L342.79 33.96 L342.72 33.81 L342.66 33.68 L342.62 33.54 L342.57 33.45 L342.53 33.31 L342.48 33.24 L342.43 33.02 L342.38 32.77 L342.33 32.51 L342.29 32.3 L342.24 32.11Z"/>
<circle cx="340.73" cy="32.44" r="1.55" fill="#000"/>
<circle cx="481.37" cy="47.87" r="1.51" fill="#000"/>
<path fill="#000" stroke="#000" stroke-width="0.3" stroke-linejoin="round" d="M339.3 114.07 L339.35 114.36 L339.4 114.66 L339.45 114.95 L339.51 115.24 L339.58 115.53 L339.64 115.81 L339.71 116.08 L339.79 116.35 L339.87 116.61 L339.96 116.86 L340.05 117.11 L340.15 117.34 L340.26 117.55 L340.37 117.74 L340.49 117.92 L340.61 118.1 L340.73 118.27 L340.85 118.43 L340.97 118.59 L341.1 118.74 L341.24 118.89 L341.38 119.04 L341.53 119.18 L341.69 119.32 L341.86 119.46 L342.04 119.59 L342.24 119.72 L342.44 119.83 L342.66 119.93 L342.9 120.02 L343.13 120.09 L343.37 120.14 L343.61 120.17 L343.85 120.17 L344.07 120.17 L344.29 120.15 L344.5 120.13 L344.7 120.1 L344.89 120.06 L345.08 120.02 L345.26 119.98 L345.45 119.94 L345.63 119.89 L345.81 119.84 L345.99 119.79 L346.17 119.74 L346.36 119.69 L346.56 119.63 L346.76 119.58 L346.97 119.51 L347.18 119.44 L347.39 119.36 L347.61 119.28 L347.84 119.19 L348.06 119.09 L348.28 118.99 L348.5 118.88 L348.73 118.78 L348.95 118.66 L349.17 118.55 L349.4 118.43 L349.62 118.31 L349.85 118.19 L350.08 118.07 L350.31 117.95 L350.54 117.82 L350.78 117.69 L351.02 117.57 L351.26 117.43 L351.51 117.3 L351.76 117.17 L352.02 117.03 L352.28 116.88 L352.55 116.72 L352.81 116.56 L353.08 116.39 L353.36 116.22 L353.63 116.04 L353.9 115.87 L354.18 115.69 L354.45 115.51 L354.73 115.32 L355.01 115.14 L355.29 114.96 L355.57 114.77 L355.85 114.59 L356.14 114.41 L356.42 114.22 L356.72 114.04 L357.01 113.86 L357.31 113.68 L357.61 113.5 L357.91 113.32 L358.22 113.14 L358.53 112.95 L358.85 112.76 L359.16 112.57 L359.48 112.38 L359.8 112.19 L360.13 112 L360.45 111.81 L360.78 111.62 L361.11 111.43 L361.45 111.25 L361.78 111.06 L362.12 110.87 L362.46 110.69 L362.81 110.5 L363.16 110.32 L363.51 110.13 L363.86 109.94 L364.22 109.76 L364.58 109.57 L364.94 109.39 L365.31 109.2 L365.67 109.02 L366.04 108.84 L366.41 108.66 L366.79 108.48 L367.17 108.31 L367.55 108.13 L367.93 107.96 L368.32 107.78 L368.71 107.6 L369.11 107.43 L369.5 107.25 L369.9 107.07 L370.3 106.9 L370.69 106.73 L371.09 106.57 L371.48 106.42 L371.88 106.27 L372.28 106.13 L372.68 105.99 L373.09 105.87 L373.5 105.76 L373.92 105.64 L374.34 105.54 L374.76 105.43 L375.19 105.32 L375.63 105.22 L376.06 105.12 L376.51 105.03 L376.95 104.93 L377.4 104.84 L377.85 104.75 L378.3 104.66 L378.76 104.57 L379.22 104.49 L379.69 104.4 L380.16 104.32 L380.63 104.24 L381.1 104.16 L381.58 104.08 L382.06 104 L382.54 103.92 L383.03 103.84 L383.52 103.76 L384.01 103.69 L384.51 103.61 L385.01 103.54 L385.51 103.46 L386.01 103.39 L386.52 103.32 L387.03 103.25 L387.54 103.18 L388.05 103.11 L388.57 103.05 L389.09 102.98 L389.62 102.91 L390.15 102.85 L390.68 102.78 L391.21 102.72 L391.75 102.66 L392.29 102.59 L392.83 102.53 L393.38 102.47 L393.92 102.4 L394.48 102.34 L395.03 102.28 L395.59 102.21 L396.15 102.15 L396.71 102.09 L397.28 102.03 L397.85 101.97 L398.42 101.91 L398.99 101.85 L399.57 101.79 L400.15 101.73 L400.73 101.67 L401.32 101.61 L401.91 101.55 L402.5 101.49 L403.09 101.43 L403.69 101.37 L404.29 101.31 L404.89 101.26 L405.5 101.2 L406.11 101.14 L406.72 101.08 L407.33 101.03 L407.95 100.97 L408.57 100.91 L409.19 100.86 L409.82 100.8 L410.45 100.75 L411.08 100.69 L411.72 100.63 L412.35 100.58 L412.99 100.52 L413.64 100.47 L414.28 100.41 L414.93 100.36 L415.58 100.3 L416.24 100.25 L416.9 100.19 L417.56 100.14 L418.22 100.09 L418.89 100.03 L419.56 99.98 L420.23 99.92 L420.9 99.87 L421.58 99.82 L422.26 99.76 L422.94 99.71 L423.63 99.66 L424.32 99.6 L425.01 99.55 L425.71 99.5 L426.4 99.45 L427.1 99.39 L427.81 99.34 L428.51 99.29 L429.22 99.24 L429.94 99.19 L430.65 99.13 L431.37 99.08 L432.09 99.03 L432.81 98.98 L433.54 98.93 L434.27 98.87 L435 98.82 L435.73 98.77 L436.47 98.72 L437.21 98.67 L437.96 98.62 L438.7 98.57 L439.45 98.52 L440.2 98.46 L440.96 98.41 L441.71 98.36 L442.47 98.32 L443.24 98.27 L444 98.22 L444.77 98.17 L445.54 98.12 L446.32 98.07 L447.1 98.02 L447.88 97.97 L448.66 97.93 L449.45 97.88 L450.24 97.83 L451.03 97.78 L451.82 97.73 L452.62 97.68 L453.42 97.64 L454.22 97.59 L455.03 97.54 L455.84 97.49 L456.65 97.44 L457.47 97.39 L458.29 97.34 L459.11 97.29 L459.93 97.24 L460.76 97.19 L461.59 97.14 L462.42 97.09 L463.25 97.04 L464.09 96.99 L464.93 96.94 L465.78 96.89 L466.62 96.84 L467.47 96.78 L468.32 96.73 L469.18 96.69 L470.03 96.64 L470.9 96.59 L471.76 96.54 L472.63 96.49 L473.5 96.44 L474.38 96.38 L475.27 96.32 L476.16 96.26 L477.05 96.18 L477.94 96.1 L478.84 96 L479.74 95.88 L480.64 95.75 L481.55 95.62 L481.2 93.14 L480.32 93.27 L479.43 93.39 L478.56 93.51 L477.68 93.61 L476.81 93.68 L475.94 93.75 L475.07 93.81 L474.21 93.87 L473.34 93.92 L472.48 93.97 L471.61 94.02 L470.75 94.06 L469.89 94.11 L469.03 94.16 L468.18 94.2 L467.32 94.25 L466.47 94.3 L465.63 94.35 L464.78 94.4 L463.94 94.45 L463.1 94.5 L462.27 94.55 L461.44 94.59 L460.61 94.64 L459.78 94.69 L458.96 94.74 L458.14 94.78 L457.32 94.83 L456.5 94.88 L455.69 94.92 L454.88 94.97 L454.07 95.02 L453.27 95.06 L452.47 95.11 L451.67 95.15 L450.87 95.2 L450.08 95.25 L449.29 95.29 L448.5 95.34 L447.72 95.38 L446.94 95.43 L446.16 95.48 L445.38 95.52 L444.61 95.57 L443.84 95.62 L443.07 95.66 L442.31 95.71 L441.55 95.76 L440.79 95.81 L440.03 95.86 L439.28 95.9 L438.53 95.95 L437.78 96 L437.04 96.05 L436.29 96.1 L435.55 96.15 L434.82 96.2 L434.09 96.25 L433.36 96.3 L432.63 96.35 L431.9 96.4 L431.18 96.45 L430.46 96.5 L429.75 96.55 L429.03 96.6 L428.32 96.65 L427.62 96.7 L426.91 96.75 L426.21 96.8 L425.51 96.85 L424.81 96.9 L424.12 96.95 L423.43 97 L422.74 97.06 L422.06 97.11 L421.38 97.16 L420.7 97.21 L420.02 97.26 L419.35 97.31 L418.68 97.37 L418.01 97.42 L417.34 97.47 L416.68 97.52 L416.02 97.58 L415.36 97.63 L414.71 97.68 L414.06 97.73 L413.41 97.79 L412.77 97.84 L412.12 97.9 L411.49 97.95 L410.85 98 L410.21 98.06 L409.58 98.11 L408.96 98.17 L408.33 98.22 L407.71 98.28 L407.09 98.33 L406.47 98.39 L405.86 98.44 L405.25 98.5 L404.64 98.55 L404.03 98.61 L403.43 98.67 L402.83 98.72 L402.23 98.78 L401.64 98.84 L401.05 98.9 L400.46 98.95 L399.87 99.01 L399.29 99.07 L398.71 99.13 L398.13 99.19 L397.56 99.25 L396.99 99.31 L396.42 99.37 L395.85 99.43 L395.29 99.49 L394.73 99.55 L394.17 99.61 L393.62 99.68 L393.06 99.74 L392.52 99.8 L391.97 99.86 L391.43 99.92 L390.89 99.99 L390.35 100.05 L389.81 100.11 L389.28 100.18 L388.75 100.24 L388.22 100.31 L387.7 100.37 L387.18 100.44 L386.66 100.51 L386.14 100.58 L385.62 100.65 L385.11 100.72 L384.6 100.79 L384.1 100.87 L383.6 100.94 L383.1 101.02 L382.6 101.1 L382.11 101.18 L381.61 101.25 L381.13 101.33 L380.64 101.41 L380.16 101.49 L379.68 101.57 L379.2 101.66 L378.72 101.74 L378.25 101.83 L377.78 101.92 L377.31 102.01 L376.84 102.1 L376.38 102.19 L375.91 102.29 L375.45 102.39 L375 102.49 L374.54 102.6 L374.09 102.71 L373.64 102.82 L373.18 102.94 L372.73 103.06 L372.28 103.18 L371.83 103.32 L371.39 103.46 L370.94 103.62 L370.5 103.78 L370.07 103.95 L369.63 104.12 L369.21 104.3 L368.79 104.48 L368.38 104.67 L367.97 104.85 L367.56 105.03 L367.16 105.21 L366.76 105.39 L366.37 105.57 L365.98 105.74 L365.58 105.93 L365.2 106.11 L364.81 106.29 L364.43 106.48 L364.04 106.67 L363.67 106.86 L363.29 107.05 L362.92 107.24 L362.56 107.43 L362.19 107.62 L361.83 107.81 L361.47 108 L361.11 108.19 L360.76 108.38 L360.41 108.57 L360.06 108.76 L359.72 108.96 L359.37 109.15 L359.04 109.35 L358.7 109.54 L358.37 109.74 L358.04 109.93 L357.72 110.12 L357.39 110.31 L357.08 110.5 L356.76 110.69 L356.45 110.87 L356.13 111.06 L355.83 111.24 L355.52 111.43 L355.21 111.61 L354.91 111.8 L354.61 111.99 L354.31 112.18 L354.02 112.37 L353.73 112.56 L353.45 112.74 L353.17 112.93 L352.89 113.11 L352.62 113.29 L352.35 113.46 L352.09 113.63 L351.83 113.79 L351.58 113.95 L351.33 114.1 L351.09 114.25 L350.84 114.39 L350.6 114.53 L350.36 114.66 L350.13 114.79 L349.89 114.91 L349.65 115.04 L349.42 115.16 L349.19 115.29 L348.96 115.41 L348.73 115.53 L348.51 115.65 L348.29 115.77 L348.08 115.88 L347.87 115.99 L347.67 116.09 L347.47 116.19 L347.27 116.28 L347.09 116.37 L346.9 116.45 L346.73 116.53 L346.55 116.6 L346.39 116.66 L346.22 116.72 L346.05 116.78 L345.89 116.83 L345.73 116.87 L345.56 116.92 L345.4 116.96 L345.24 117.01 L345.08 117.05 L344.92 117.09 L344.77 117.13 L344.63 117.17 L344.49 117.2 L344.37 117.22 L344.25 117.24 L344.15 117.26 L344.06 117.27 L343.98 117.28 L343.93 117.29 L343.88 117.29 L343.84 117.29 L343.81 117.28 L343.79 117.27 L343.77 117.26 L343.74 117.24 L343.7 117.22 L343.65 117.19 L343.6 117.15 L343.54 117.1 L343.48 117.04 L343.41 116.98 L343.34 116.9 L343.27 116.82 L343.2 116.74 L343.13 116.65 L343.06 116.56 L343 116.48 L342.95 116.4 L342.89 116.32 L342.84 116.23 L342.78 116.12 L342.73 116 L342.67 115.86 L342.62 115.7 L342.56 115.51 L342.51 115.32 L342.45 115.1 L342.4 114.88 L342.35 114.64 L342.3 114.38 L342.25 114.12 L342.2 113.85 L342.16 113.58Z"/>
<circle cx="340.73" cy="113.82" r="1.45" fill="#000"/>
<circle cx="481.37" cy="94.38" r="1.25" fill="#000"/>
<rect class="ax" x="337.2" y="11.5" width="187.45" height="115.75"/>
<path class="ax" d="M340.5 127.25v4.1M386.54 127.25v4.1M432.57 127.25v4.1M478.61 127.25v4.1M524.65 127.25v4.1M337.2 11.5h-4.1M337.2 34.65h-4.1M337.2 57.8h-4.1M337.2 80.95h-4.1M337.2 104.1h-4.1M337.2 127.25h-4.1"/>
<text class="t" text-anchor="middle" x="340.5" y="144.75">0</text>
<text class="t" text-anchor="middle" x="386.54" y="144.75">20,000</text>
<text class="t" text-anchor="middle" x="432.57" y="144.75">40,000</text>
<text class="t" text-anchor="middle" x="478.61" y="144.75">60,000</text>
<text class="t" text-anchor="middle" x="524.65" y="144.75">80,000</text>
<text class="t" text-anchor="end" x="328.5" y="16.2">1000</text>
<text class="t" text-anchor="end" x="328.5" y="39.35">500</text>
<text class="t" text-anchor="end" x="328.5" y="62.5">0</text>
<text class="t" text-anchor="end" x="328.5" y="85.65">−500</text>
<text class="t" text-anchor="end" x="328.5" y="108.8">−1000</text>
<text class="t" text-anchor="end" x="328.5" y="131.95">−1500</text>
<text class="t" text-anchor="middle" x="430.92" y="161.75">Time in s</text>
<text class="t" text-anchor="middle" transform="translate(280.7 69.38) rotate(-90)">Stress in MPa</text>
<text class="s" x="455.6" y="24.2">IP TMF HT0</text>
<text class="s" x="455.6" y="35">Standard sft</text>
</g>
<g>
<path class="ln" stroke="#0000ff" stroke-width="3.6" d="M78.18 192.34 L78.25 192.68 L78.32 193.01 L78.4 193.33 L78.49 193.63 L78.58 193.93 L78.68 194.2 L78.79 194.47 L78.9 194.71 L79.02 194.96 L79.14 195.2 L79.27 195.45 L79.4 195.69 L79.55 195.9 L79.69 196.1 L79.85 196.27 L80.01 196.4 L80.18 196.5 L80.35 196.56 L80.53 196.62 L80.71 196.67 L80.9 196.72 L81.1 196.77 L81.3 196.81 L81.51 196.85 L81.73 196.88 L81.95 196.92 L82.18 196.95 L82.41 196.97 L82.65 197 L82.9 197.02 L83.15 197.03 L83.41 197.05 L83.67 197.06 L83.95 197.07 L84.22 197.08 L84.51 197.09 L84.8 197.1 L85.09 197.11 L85.39 197.12 L85.7 197.12 L86.01 197.13 L86.33 197.14 L86.66 197.14 L86.99 197.15 L87.33 197.15 L87.68 197.15 L88.03 197.15 L88.38 197.15 L88.75 197.15 L89.12 197.15 L89.49 197.15 L89.87 197.15 L90.26 197.15 L90.65 197.15 L91.05 197.15 L91.46 197.15 L91.87 197.15 L92.29 197.14 L92.72 197.14 L93.15 197.14 L93.58 197.14 L94.03 197.14 L94.48 197.14 L94.93 197.13 L95.39 197.13 L95.86 197.13 L96.33 197.13 L96.81 197.13 L97.3 197.12 L97.79 197.12 L98.29 197.12 L98.79 197.12 L99.3 197.12 L99.82 197.12 L100.34 197.11 L100.87 197.11 L101.41 197.11 L101.95 197.11 L102.5 197.11 L103.05 197.11 L103.61 197.11 L104.18 197.11 L104.75 197.11 L105.33 197.11 L105.91 197.11 L106.5 197.11 L107.1 197.11 L107.7 197.11 L108.31 197.11 L108.92 197.11 L109.55 197.11 L110.17 197.11 L110.81 197.12 L111.45 197.12 L112.09 197.12 L112.74 197.12 L113.4 197.12 L114.07 197.13 L114.74 197.13 L115.41 197.13 L116.09 197.13 L116.78 197.14 L117.48 197.14 L118.18 197.14 L118.89 197.14 L119.6 197.15 L120.32 197.15 L121.04 197.15 L121.78 197.16 L122.51 197.16 L123.26 197.16 L124.01 197.16 L124.76 197.17 L125.53 197.17 L126.3 197.18 L127.07 197.18 L127.85 197.18 L128.64 197.19 L129.43 197.19 L130.23 197.19 L131.04 197.2 L131.85 197.2 L132.67 197.2 L133.49 197.21 L134.32 197.21 L135.16 197.22 L136 197.22 L136.85 197.23 L137.7 197.23 L138.56 197.24 L139.43 197.24 L140.3 197.25 L141.18 197.26 L142.07 197.26 L142.96 197.27 L143.85 197.28 L144.76 197.28 L145.67 197.29 L146.58 197.3 L147.51 197.31 L148.43 197.31 L149.37 197.32 L150.31 197.33 L151.26 197.34 L152.21 197.35 L153.17 197.36 L154.13 197.37 L155.11 197.37 L156.08 197.38 L157.07 197.39 L158.06 197.4 L159.05 197.41 L160.05 197.42 L161.06 197.43 L162.08 197.44 L163.1 197.45 L164.12 197.46 L165.16 197.47 L166.2 197.48 L167.24 197.49 L168.29 197.5 L169.35 197.52 L170.41 197.53 L171.48 197.54 L172.56 197.55 L173.64 197.56 L174.73 197.57 L175.82 197.58 L176.92 197.59 L178.03 197.6 L179.14 197.61 L180.26 197.62 L181.38 197.63 L182.52 197.64 L183.65 197.66 L184.8 197.67 L185.95 197.68 L187.1 197.69 L188.26 197.7 L189.43 197.71 L190.61 197.72 L191.79 197.73 L192.97 197.75 L194.16 197.76 L195.36 197.77 L196.57 197.78 L197.78 197.8 L199 197.81 L200.22 197.82 L201.45 197.83 L202.68 197.85 L203.93 197.86 L205.17 197.87 L206.43 197.89 L207.69 197.9 L208.95 197.92 L210.23 197.93 L211.5 197.94 L212.79 197.96 L214.08 197.97 L215.38 197.99 L216.68 198 L217.99 198.02 L219.3 198.03 L220.63 198.05 L221.95 198.06 L223.29 198.08 L224.63 198.09 L225.97 198.11 L227.33 198.12 L228.68 198.14 L230.05 198.15 L231.42 198.17 L232.8 198.18 L234.18 198.2 L235.57 198.22 L236.96 198.23 L238.36 198.25 L239.77 198.27"/>
<path class="ln" stroke="#0000ff" stroke-width="3.6" d="M78.64 264.1 L78.74 264.36 L78.85 264.59 L78.96 264.8 L79.08 264.99 L79.2 265.14 L79.33 265.26 L79.46 265.35 L79.6 265.44 L79.75 265.51 L79.9 265.57 L80.06 265.61 L80.22 265.63 L80.39 265.63 L80.57 265.61 L80.75 265.59 L80.94 265.55 L81.13 265.51 L81.33 265.46 L81.54 265.41 L81.75 265.35 L81.96 265.29 L82.19 265.22 L82.41 265.16 L82.65 265.1 L82.89 265.03 L83.13 264.97 L83.38 264.9 L83.64 264.82 L83.91 264.73 L84.17 264.65 L84.45 264.55 L84.73 264.46 L85.02 264.35 L85.31 264.25 L85.61 264.15 L85.91 264.04 L86.22 263.93 L86.54 263.83 L86.86 263.72 L87.19 263.61 L87.52 263.51 L87.86 263.41 L88.2 263.31 L88.55 263.22 L88.91 263.12 L89.27 263.02 L89.64 262.93 L90.01 262.83 L90.39 262.73 L90.78 262.63 L91.17 262.53 L91.57 262.43 L91.97 262.33 L92.38 262.23 L92.8 262.13 L93.22 262.03 L93.64 261.93 L94.08 261.84 L94.51 261.74 L94.96 261.64 L95.41 261.55 L95.86 261.46 L96.33 261.37 L96.79 261.28 L97.27 261.19 L97.75 261.11 L98.23 261.03 L98.72 260.95 L99.22 260.87 L99.72 260.8 L100.23 260.72 L100.74 260.65 L101.26 260.58 L101.79 260.51 L102.32 260.45 L102.86 260.38 L103.4 260.32 L103.95 260.25 L104.5 260.19 L105.07 260.13 L105.63 260.07 L106.2 260.01 L106.78 259.95 L107.37 259.89 L107.96 259.83 L108.55 259.77 L109.15 259.71 L109.76 259.65 L110.37 259.59 L110.99 259.53 L111.62 259.48 L112.25 259.42 L112.89 259.36 L113.53 259.3 L114.18 259.24 L114.83 259.18 L115.49 259.11 L116.16 259.05 L116.83 258.99 L117.51 258.93 L118.19 258.86 L118.88 258.8 L119.57 258.74 L120.27 258.68 L120.98 258.61 L121.69 258.55 L122.41 258.49 L123.13 258.43 L123.86 258.36 L124.6 258.3 L125.34 258.24 L126.09 258.18 L126.84 258.12 L127.6 258.05 L128.37 257.99 L129.14 257.93 L129.91 257.87 L130.7 257.81 L131.48 257.75 L132.28 257.69 L133.08 257.63 L133.88 257.58 L134.7 257.52 L135.51 257.46 L136.34 257.4 L137.17 257.34 L138 257.28 L138.84 257.23 L139.69 257.17 L140.54 257.11 L141.4 257.05 L142.26 257 L143.13 256.94 L144.01 256.88 L144.89 256.83 L145.78 256.77 L146.67 256.71 L147.57 256.65 L148.47 256.6 L149.39 256.54 L150.3 256.49 L151.22 256.43 L152.15 256.37 L153.09 256.32 L154.03 256.26 L154.97 256.21 L155.92 256.15 L156.88 256.1 L157.85 256.04 L158.81 255.98 L159.79 255.93 L160.77 255.87 L161.76 255.82 L162.75 255.76 L163.75 255.71 L164.75 255.66 L165.76 255.6 L166.78 255.55 L167.8 255.49 L168.83 255.44 L169.86 255.38 L170.9 255.33 L171.94 255.28 L172.99 255.22 L174.05 255.17 L175.11 255.12 L176.18 255.06 L177.26 255.01 L178.34 254.96 L179.42 254.9 L180.51 254.85 L181.61 254.8 L182.71 254.74 L183.82 254.69 L184.94 254.64 L186.06 254.59 L187.19 254.53 L188.32 254.48 L189.46 254.43 L190.6 254.38 L191.75 254.33 L192.91 254.27 L194.07 254.22 L195.24 254.17 L196.41 254.12 L197.59 254.07 L198.77 254.02 L199.96 253.97 L201.16 253.91 L202.36 253.86 L203.57 253.81 L204.79 253.76 L206 253.71 L207.23 253.66 L208.46 253.61 L209.7 253.56 L210.94 253.51 L212.19 253.46 L213.45 253.41 L214.71 253.36 L215.97 253.31 L217.25 253.26 L218.53 253.21 L219.81 253.16 L221.1 253.11 L222.4 253.06 L223.7 253.02 L225 252.97 L226.32 252.92 L227.64 252.87 L228.96 252.82 L230.29 252.77 L231.63 252.72 L232.97 252.68 L234.32 252.63 L235.67 252.58 L237.03 252.53 L238.4 252.48 L239.77 252.44"/>
<circle cx="78.3" cy="261.79" r="1.8" fill="#0000ff"/>
<path fill="#000" stroke="#000" stroke-width="0.3" stroke-linejoin="round" d="M76.46 192.27 L76.52 192.52 L76.59 192.62 L76.66 192.82 L76.76 193.03 L76.88 193.35 L76.97 193.37 L77.07 193.7 L77.22 193.88 L77.33 193.99 L77.41 194.03 L77.53 194.28 L77.69 194.33 L77.79 194.41 L77.93 194.69 L78.12 194.78 L78.26 195.01 L78.37 195.03 L78.59 195.25 L78.74 195.19 L78.86 195.36 L79.12 195.41 L79.33 195.54 L79.48 195.58 L79.66 195.77 L79.83 195.84 L80.04 195.8 L80.24 195.93 L80.38 195.86 L80.61 195.97 L80.78 195.97 L80.98 195.93 L81.15 196.03 L81.27 196.13 L81.47 196.15 L81.58 196.09 L81.75 196.11 L82.05 196.13 L82.21 196.2 L82.3 196.16 L82.47 196.23 L82.68 196.22 L82.85 196.21 L83.03 196.35 L83.26 196.34 L83.5 196.34 L83.64 196.32 L83.86 196.43 L84.09 196.4 L84.26 196.4 L84.44 196.37 L84.72 196.51 L84.98 196.48 L85.16 196.58 L85.35 196.54 L85.61 196.63 L85.86 196.51 L86.06 196.63 L86.33 196.57 L86.61 196.68 L86.84 196.61 L87.05 196.73 L87.24 196.77 L87.5 196.74 L87.76 196.71 L88.03 196.74 L88.39 196.83 L88.62 196.96 L88.83 196.88 L89.05 196.97 L89.34 196.9 L89.68 196.9 L89.97 197.01 L90.26 197.03 L90.55 197.17 L90.78 197.1 L91.05 197.21 L91.41 197.15 L91.77 197.24 L92.07 197.19 L92.4 197.38 L92.7 197.4 L93 197.3 L93.32 197.37 L93.67 197.4 L94.05 197.38 L94.28 197.48 L94.57 197.44 L94.96 197.55 L95.28 197.49 L95.59 197.58 L95.95 197.73 L96.31 197.72 L96.66 197.64 L97.02 197.79 L97.4 197.87 L97.78 197.84 L98.12 197.89 L98.52 197.88 L98.96 197.97 L99.32 198.04 L99.63 198.04 L100.01 198.07 L100.43 197.99 L100.85 198.01 L101.23 198.13 L101.57 198.29 L101.96 198.17 L102.34 198.22 L102.77 198.22 L103.27 198.38 L103.65 198.48 L104.05 198.38 L104.45 198.53 L104.89 198.41 L105.37 198.44 L105.78 198.57 L106.22 198.47 L106.67 198.7 L107.08 198.53 L107.49 198.69 L107.88 198.64 L108.37 198.68 L108.82 198.65 L109.27 198.69 L109.76 198.97 L110.21 199.01 L110.66 198.9 L111.1 199.07 L111.64 198.94 L112.19 199.01 L112.59 199.01 L113.04 199.1 L113.55 199.18 L114.03 199.03 L114.51 199.12 L115.03 199.36 L115.55 199.37 L116.03 199.25 L116.53 199.38 L117.07 199.38 L117.58 199.31 L118.06 199.47 L118.6 199.34 L119.16 199.43 L119.63 199.51 L120.11 199.65 L120.67 199.62 L121.22 199.55 L121.75 199.52 L122.31 199.83 L122.9 199.85 L123.41 199.7 L123.91 199.7 L124.49 199.96 L125.09 199.78 L125.63 199.83 L126.16 199.89 L126.74 200.04 L127.34 200.04 L127.91 200.1 L128.49 199.99 L129.09 200.19 L129.64 200.23 L130.19 200.07 L130.78 200.11 L131.42 200.14 L132.05 200.23 L132.61 200.49 L133.19 200.53 L133.77 200.42 L134.35 200.35 L135.02 200.39 L135.67 200.51 L136.26 200.44 L136.84 200.74 L137.46 200.76 L138.09 200.76 L138.73 200.83 L139.43 200.86 L140.1 200.97 L140.72 200.92 L141.38 201.08 L142.04 200.95 L142.71 200.84 L143.35 201.06 L144 201.04 L144.66 201.08 L145.27 201.01 L145.92 201.12 L146.64 201.13 L147.3 201.34 L147.97 201.18 L148.68 201.48 L149.33 201.44 L150.01 201.36 L150.69 201.55 L151.43 201.39 L152.16 201.44 L152.82 201.74 L153.52 201.76 L154.21 201.87 L154.91 201.6 L155.66 201.84 L156.42 201.86 L157.14 201.95 L157.84 202.05 L158.59 201.96 L159.34 202.09 L160.08 202 L160.81 202.19 L161.52 202.1 L162.29 201.97 L163.05 202.24 L163.82 202.05 L164.56 202.45 L165.27 202.29 L166.07 202.32 L166.83 202.21 L167.61 202.26 L168.41 202.48 L169.14 202.41 L169.88 202.36 L170.64 202.5 L171.43 202.45 L172.26 202.5 L173.04 202.73 L173.8 202.69 L174.58 202.94 L175.37 202.87 L176.2 202.72 L177.02 202.89 L177.86 203.06 L178.67 203.17 L179.48 203.17 L180.31 203.25 L181.15 203.25 L182.01 203.22 L182.82 203.41 L183.63 203.09 L184.47 203.33 L185.34 203.29 L186.19 203.3 L186.99 203.57 L187.87 203.63 L188.74 203.63 L189.55 203.28 L190.44 203.73 L191.35 203.62 L192.18 203.44 L193.01 203.61 L193.9 203.92 L194.79 203.54 L195.64 203.82 L196.54 203.96 L197.45 203.92 L198.32 203.83 L199.19 204.14 L200.1 203.87 L201.02 203.93 L201.93 204.15 L202.86 204.09 L203.75 204.24 L204.62 204.37 L205.58 204.12 L206.49 204.22 L207.4 204.06 L208.37 204.43 L209.28 204.34 L210.18 204.25 L211.12 204.6 L212.07 204.49 L213.05 204.35 L213.99 204.63 L214.96 204.6 L215.9 204.52 L216.8 204.65 L217.77 204.44 L218.76 204.48 L219.71 204.53 L220.68 204.8 L221.66 204.97 L222.63 204.76 L223.57 204.91 L224.57 204.91 L225.62 204.86 L226.57 204.74 L227.55 204.85 L228.56 205.28 L229.54 204.87 L230.53 205.04 L231.5 205.29 L232.54 205.09 L233.56 205.28 L234.54 205.26 L235.55 205.3 L236.53 205.58 L237.51 205.49 L238.52 205.48 L239.51 205.74 L240.03 202.89 L238.96 202.62 L237.91 202.61 L236.84 202.69 L235.78 202.39 L234.76 202.35 L233.7 202.36 L232.7 202.17 L231.72 202.37 L230.69 202.11 L229.67 201.94 L228.65 202.34 L227.67 201.91 L226.67 201.8 L225.65 201.92 L224.72 201.96 L223.76 201.96 L222.74 201.8 L221.75 202 L220.79 201.83 L219.83 201.57 L218.84 201.51 L217.91 201.46 L216.96 201.68 L215.95 201.54 L214.99 201.62 L214.05 201.64 L213.11 201.36 L212.2 201.5 L211.27 201.61 L210.34 201.26 L209.37 201.33 L208.42 201.42 L207.54 201.05 L206.61 201.21 L205.68 201.1 L204.8 201.35 L203.85 201.22 L202.92 201.06 L202.04 201.12 L201.14 200.89 L200.26 200.84 L199.38 201.1 L198.47 200.79 L197.56 200.87 L196.69 200.92 L195.83 200.77 L194.91 200.49 L194.05 200.87 L193.2 200.56 L192.29 200.38 L191.39 200.55 L190.56 200.67 L189.74 200.21 L188.83 200.56 L188 200.55 L187.17 200.49 L186.28 200.21 L185.44 200.2 L184.63 200.24 L183.8 200 L182.94 200.32 L182.09 200.12 L181.29 200.15 L180.48 200.15 L179.68 200.06 L178.85 200.07 L178.04 199.96 L177.25 199.78 L176.46 199.62 L175.68 199.76 L174.87 199.83 L174.05 199.58 L173.23 199.61 L172.42 199.37 L171.68 199.32 L170.9 199.37 L170.09 199.23 L169.28 199.27 L168.46 199.33 L167.72 199.12 L166.97 199.06 L166.2 199.16 L165.47 199.14 L164.67 199.3 L163.89 198.89 L163.16 199.08 L162.43 198.81 L161.7 198.94 L160.93 199.02 L160.19 198.83 L159.46 198.92 L158.75 198.79 L158.04 198.87 L157.29 198.77 L156.57 198.68 L155.88 198.66 L155.21 198.42 L154.48 198.68 L153.75 198.57 L153.05 198.55 L152.3 198.24 L151.64 198.19 L150.98 198.36 L150.28 198.16 L149.58 198.24 L148.87 198.27 L148.2 197.97 L147.52 198.13 L146.83 197.91 L146.2 197.9 L145.51 197.79 L144.8 197.86 L144.13 197.81 L143.46 197.83 L142.8 197.61 L142.16 197.71 L141.52 197.84 L140.88 197.68 L140.22 197.72 L139.61 197.62 L139.04 197.6 L138.41 197.53 L137.79 197.52 L137.15 197.5 L136.49 197.19 L135.84 197.25 L135.26 197.13 L134.7 197.11 L134.06 197.16 L133.43 197.27 L132.8 197.23 L132.16 196.96 L131.6 196.87 L131.05 196.85 L130.47 196.8 L129.84 196.95 L129.23 196.91 L128.66 196.71 L128.1 196.82 L127.52 196.76 L126.98 196.75 L126.42 196.61 L125.82 196.54 L125.25 196.49 L124.73 196.68 L124.2 196.42 L123.6 196.4 L123.02 196.54 L122.52 196.52 L122 196.22 L121.45 196.25 L120.94 196.31 L120.43 196.34 L119.87 196.19 L119.28 196.1 L118.8 196.01 L118.31 196.14 L117.76 195.98 L117.25 196.05 L116.77 196.04 L116.26 195.91 L115.74 196.02 L115.26 196.01 L114.8 195.77 L114.3 195.68 L113.8 195.82 L113.34 195.74 L112.83 195.64 L112.27 195.64 L111.87 195.57 L111.48 195.71 L110.98 195.53 L110.5 195.63 L110.02 195.59 L109.6 195.31 L109.14 195.27 L108.69 195.29 L108.28 195.26 L107.78 195.29 L107.31 195.13 L106.85 195.29 L106.42 195.06 L106 195.16 L105.55 195.02 L105.18 195 L104.78 195.12 L104.34 194.96 L103.91 195.06 L103.47 194.95 L103.15 194.8 L102.77 194.8 L102.35 194.75 L101.94 194.87 L101.49 194.7 L101.08 194.57 L100.72 194.55 L100.37 194.63 L99.99 194.6 L99.54 194.59 L99.14 194.51 L98.85 194.43 L98.51 194.45 L98.11 194.39 L97.77 194.42 L97.44 194.35 L97.08 194.19 L96.73 194.27 L96.39 194.28 L96.06 194.12 L95.68 194.02 L95.32 194.08 L95.03 193.98 L94.66 194.01 L94.24 193.89 L93.96 193.91 L93.67 193.89 L93.34 193.82 L93.01 193.91 L92.69 193.88 L92.39 193.69 L92.08 193.75 L91.84 193.66 L91.6 193.74 L91.28 193.62 L90.92 193.68 L90.63 193.53 L90.35 193.51 L90.07 193.4 L89.85 193.41 L89.58 193.49 L89.26 193.37 L88.93 193.44 L88.63 193.31 L88.46 193.23 L88.21 193.21 L87.96 193.24 L87.7 193.26 L87.4 193.21 L87.11 193.08 L86.85 193.15 L86.66 193.04 L86.44 193.1 L86.18 192.98 L85.97 193.1 L85.77 193.02 L85.52 193.05 L85.26 192.93 L85.08 192.97 L84.93 192.85 L84.69 192.87 L84.45 192.86 L84.27 192.9 L84.09 192.79 L83.83 192.79 L83.68 192.8 L83.53 192.82 L83.33 192.68 L83.13 192.68 L82.98 192.7 L82.8 192.63 L82.54 192.64 L82.36 192.57 L82.32 192.59 L82.16 192.56 L81.95 192.6 L81.82 192.6 L81.64 192.49 L81.5 192.39 L81.41 192.45 L81.29 192.45 L81.23 192.38 L81.1 192.46 L81.03 192.36 L80.98 192.45 L80.89 192.41 L80.82 192.26 L80.73 192.24 L80.69 192.19 L80.73 192.3 L80.62 192.13 L80.55 192.25 L80.56 192.19 L80.48 192.18 L80.42 192.02 L80.41 192.1 L80.37 191.9 L80.29 191.85 L80.28 191.96 L80.23 191.8 L80.16 191.77 L80.11 191.74 L80.12 191.8 L80.08 191.56 L80.04 191.62 L80.03 191.54 L80.01 191.51 L79.97 191.37 L79.93 191.37 L79.9 191.22Z"/>
<path fill="#000" d="M78.18 189.73l2.02 4.03h-4.03z"/>
<path fill="#000" d="M239.77 202.69l1.62 3.25h-3.25z"/>
<path fill="#000" stroke="#000" stroke-width="0.3" stroke-linejoin="round" d="M76.55 271.39 L76.61 271.6 L76.67 271.82 L76.75 272.03 L76.83 272.24 L76.92 272.45 L77.03 272.67 L77.15 272.88 L77.29 273.09 L77.45 273.3 L77.64 273.51 L77.86 273.71 L78.12 273.89 L78.42 274.04 L78.73 274.15 L79.06 274.21 L79.38 274.22 L79.67 274.2 L79.93 274.15 L80.16 274.08 L80.37 274.01 L80.55 273.93 L80.71 273.86 L80.86 273.78 L81 273.71 L81.15 273.64 L81.29 273.57 L81.43 273.5 L81.58 273.42 L81.74 273.35 L81.9 273.26 L82.06 273.17 L82.23 273.07 L82.4 272.97 L82.57 272.86 L82.74 272.76 L82.92 272.65 L83.09 272.54 L83.26 272.43 L83.44 272.31 L83.62 272.2 L83.8 272.08 L83.99 271.96 L84.19 271.84 L84.38 271.71 L84.58 271.58 L84.78 271.44 L84.99 271.3 L85.2 271.16 L85.41 271.02 L85.62 270.87 L85.83 270.72 L86.05 270.57 L86.27 270.42 L86.49 270.27 L86.72 270.11 L86.94 269.96 L87.17 269.8 L87.41 269.64 L87.64 269.48 L87.88 269.32 L88.12 269.17 L88.36 269.01 L88.61 268.84 L88.87 268.68 L89.13 268.52 L89.39 268.35 L89.66 268.18 L89.93 268.01 L90.21 267.82 L90.48 267.64 L90.77 267.45 L91.05 267.26 L91.33 267.08 L91.61 266.89 L91.89 266.7 L92.18 266.52 L92.46 266.34 L92.75 266.17 L93.03 266 L93.32 265.84 L93.61 265.68 L93.9 265.52 L94.19 265.38 L94.49 265.24 L94.79 265.1 L95.1 264.97 L95.41 264.84 L95.73 264.71 L96.05 264.58 L96.38 264.45 L96.71 264.33 L97.05 264.21 L97.39 264.09 L97.73 263.97 L98.07 263.86 L98.42 263.74 L98.78 263.63 L99.13 263.52 L99.49 263.41 L99.86 263.3 L100.23 263.2 L100.6 263.1 L100.97 263 L101.35 262.9 L101.73 262.8 L102.12 262.71 L102.51 262.61 L102.9 262.52 L103.3 262.43 L103.71 262.33 L104.11 262.24 L104.52 262.15 L104.94 262.06 L105.36 261.97 L105.78 261.87 L106.2 261.78 L106.63 261.69 L107.06 261.6 L107.5 261.51 L107.93 261.42 L108.37 261.33 L108.82 261.24 L109.27 261.15 L109.72 261.06 L110.17 260.97 L110.62 260.89 L111.08 260.8 L111.55 260.72 L112.01 260.63 L112.48 260.55 L112.95 260.47 L113.43 260.39 L113.91 260.32 L114.39 260.24 L114.87 260.17 L115.36 260.1 L115.86 260.03 L116.35 259.96 L116.85 259.89 L117.36 259.82 L117.87 259.75 L118.38 259.68 L118.89 259.62 L119.41 259.55 L119.93 259.49 L120.45 259.42 L120.98 259.36 L121.51 259.29 L122.05 259.23 L122.58 259.17 L123.12 259.11 L123.67 259.05 L124.21 258.99 L124.76 258.93 L125.32 258.87 L125.87 258.81 L126.43 258.76 L127 258.7 L127.56 258.65 L128.13 258.6 L128.71 258.54 L129.28 258.49 L129.86 258.45 L130.45 258.4 L131.03 258.35 L131.62 258.31 L132.21 258.26 L132.81 258.22 L133.41 258.18 L134.01 258.14 L134.62 258.1 L135.23 258.06 L135.84 258.02 L136.46 257.98 L137.08 257.95 L137.71 257.91 L138.33 257.88 L138.96 257.84 L139.6 257.81 L140.24 257.77 L140.88 257.74 L141.52 257.71 L142.17 257.68 L142.82 257.65 L143.48 257.61 L144.13 257.58 L144.8 257.55 L145.46 257.52 L146.13 257.49 L146.8 257.46 L147.48 257.43 L148.16 257.4 L148.84 257.37 L149.52 257.34 L150.21 257.31 L150.9 257.27 L151.6 257.24 L152.3 257.21 L153 257.18 L153.71 257.15 L154.42 257.11 L155.13 257.08 L155.84 257.04 L156.56 257.01 L157.29 256.97 L158.01 256.94 L158.74 256.9 L159.47 256.86 L160.21 256.82 L160.95 256.79 L161.69 256.75 L162.43 256.71 L163.18 256.67 L163.93 256.63 L164.69 256.59 L165.45 256.55 L166.21 256.51 L166.97 256.47 L167.74 256.42 L168.51 256.38 L169.29 256.34 L170.06 256.3 L170.85 256.26 L171.63 256.22 L172.42 256.17 L173.21 256.13 L174 256.09 L174.8 256.05 L175.6 256.01 L176.4 255.96 L177.21 255.92 L178.02 255.88 L178.83 255.84 L179.65 255.79 L180.47 255.75 L181.29 255.71 L182.12 255.67 L182.95 255.63 L183.78 255.59 L184.62 255.54 L185.46 255.5 L186.3 255.46 L187.15 255.42 L188 255.38 L188.85 255.34 L189.71 255.3 L190.57 255.25 L191.43 255.21 L192.3 255.17 L193.17 255.13 L194.04 255.09 L194.92 255.05 L195.8 255.01 L196.68 254.96 L197.57 254.92 L198.46 254.88 L199.35 254.84 L200.25 254.8 L201.15 254.76 L202.05 254.71 L202.96 254.67 L203.86 254.63 L204.78 254.59 L205.69 254.55 L206.61 254.51 L207.53 254.47 L208.46 254.42 L209.39 254.38 L210.32 254.34 L211.26 254.3 L212.2 254.26 L213.14 254.22 L214.08 254.17 L215.03 254.13 L215.99 254.09 L216.94 254.05 L217.9 254.01 L218.86 253.97 L219.83 253.93 L220.8 253.88 L221.77 253.84 L222.74 253.8 L223.72 253.76 L224.7 253.72 L225.69 253.68 L226.68 253.63 L227.67 253.59 L228.66 253.55 L229.66 253.51 L230.66 253.47 L231.67 253.43 L232.68 253.39 L233.69 253.34 L234.7 253.3 L235.72 253.26 L236.74 253.22 L237.77 253.18 L238.8 253.14 L239.83 253.09 L239.72 250.3 L238.68 250.34 L237.66 250.38 L236.63 250.42 L235.61 250.46 L234.59 250.5 L233.58 250.54 L232.56 250.58 L231.56 250.62 L230.55 250.66 L229.55 250.7 L228.55 250.74 L227.55 250.78 L226.56 250.82 L225.57 250.86 L224.59 250.9 L223.6 250.94 L222.63 250.98 L221.65 251.02 L220.68 251.06 L219.71 251.1 L218.74 251.14 L217.78 251.18 L216.82 251.22 L215.86 251.26 L214.91 251.3 L213.96 251.34 L213.02 251.38 L212.07 251.42 L211.13 251.46 L210.2 251.5 L209.26 251.54 L208.34 251.58 L207.41 251.62 L206.49 251.66 L205.57 251.7 L204.65 251.74 L203.74 251.78 L202.83 251.82 L201.92 251.86 L201.02 251.9 L200.12 251.94 L199.22 251.98 L198.33 252.02 L197.44 252.06 L196.55 252.1 L195.67 252.14 L194.79 252.18 L193.91 252.22 L193.04 252.26 L192.17 252.3 L191.3 252.34 L190.43 252.38 L189.57 252.42 L188.72 252.46 L187.86 252.5 L187.01 252.54 L186.17 252.58 L185.32 252.62 L184.48 252.66 L183.64 252.7 L182.81 252.74 L181.98 252.78 L181.15 252.82 L180.33 252.86 L179.5 252.9 L178.69 252.94 L177.87 252.99 L177.06 253.03 L176.25 253.07 L175.45 253.11 L174.65 253.15 L173.85 253.19 L173.06 253.23 L172.26 253.27 L171.48 253.31 L170.69 253.35 L169.91 253.39 L169.13 253.44 L168.36 253.48 L167.59 253.52 L166.82 253.56 L166.06 253.6 L165.29 253.63 L164.54 253.67 L163.78 253.71 L163.03 253.75 L162.28 253.79 L161.54 253.83 L160.8 253.87 L160.06 253.9 L159.33 253.94 L158.59 253.98 L157.87 254.01 L157.14 254.05 L156.42 254.08 L155.7 254.12 L154.99 254.15 L154.28 254.18 L153.57 254.21 L152.87 254.25 L152.17 254.28 L151.47 254.31 L150.77 254.34 L150.08 254.37 L149.39 254.4 L148.71 254.43 L148.02 254.46 L147.34 254.49 L146.67 254.52 L146 254.55 L145.33 254.58 L144.66 254.61 L144 254.64 L143.34 254.67 L142.68 254.7 L142.03 254.73 L141.38 254.76 L140.73 254.79 L140.09 254.82 L139.44 254.85 L138.81 254.89 L138.17 254.92 L137.54 254.95 L136.91 254.99 L136.29 255.02 L135.67 255.06 L135.05 255.1 L134.43 255.14 L133.82 255.18 L133.21 255.22 L132.6 255.26 L132 255.3 L131.4 255.34 L130.8 255.39 L130.21 255.43 L129.62 255.48 L129.03 255.53 L128.45 255.58 L127.87 255.63 L127.29 255.68 L126.72 255.74 L126.15 255.79 L125.58 255.85 L125.02 255.9 L124.45 255.96 L123.9 256.02 L123.34 256.08 L122.79 256.14 L122.25 256.2 L121.7 256.26 L121.16 256.33 L120.63 256.39 L120.09 256.45 L119.56 256.52 L119.03 256.58 L118.51 256.65 L117.99 256.72 L117.47 256.79 L116.96 256.85 L116.45 256.92 L115.94 256.99 L115.44 257.06 L114.93 257.13 L114.43 257.2 L113.94 257.28 L113.44 257.35 L112.95 257.43 L112.47 257.51 L111.98 257.59 L111.5 257.67 L111.03 257.75 L110.55 257.83 L110.08 257.91 L109.62 257.99 L109.15 258.08 L108.69 258.16 L108.24 258.25 L107.79 258.33 L107.34 258.42 L106.89 258.51 L106.45 258.6 L106.01 258.68 L105.58 258.77 L105.14 258.86 L104.71 258.95 L104.29 259.04 L103.87 259.12 L103.45 259.21 L103.03 259.3 L102.62 259.39 L102.2 259.48 L101.8 259.57 L101.39 259.67 L100.98 259.76 L100.58 259.86 L100.18 259.96 L99.79 260.06 L99.39 260.17 L99 260.27 L98.62 260.38 L98.23 260.49 L97.85 260.61 L97.47 260.72 L97.1 260.84 L96.72 260.96 L96.35 261.08 L95.99 261.2 L95.62 261.33 L95.26 261.46 L94.91 261.6 L94.55 261.73 L94.19 261.87 L93.84 262.02 L93.49 262.17 L93.14 262.32 L92.79 262.48 L92.45 262.64 L92.11 262.82 L91.77 263 L91.44 263.19 L91.11 263.38 L90.79 263.57 L90.47 263.76 L90.16 263.96 L89.86 264.15 L89.56 264.34 L89.27 264.53 L88.98 264.72 L88.7 264.9 L88.43 265.08 L88.16 265.26 L87.89 265.43 L87.62 265.59 L87.36 265.75 L87.1 265.91 L86.84 266.08 L86.58 266.24 L86.33 266.4 L86.07 266.57 L85.82 266.73 L85.58 266.89 L85.33 267.06 L85.09 267.21 L84.86 267.37 L84.63 267.53 L84.4 267.68 L84.18 267.83 L83.96 267.98 L83.75 268.12 L83.54 268.27 L83.34 268.4 L83.14 268.54 L82.94 268.67 L82.75 268.79 L82.56 268.92 L82.37 269.04 L82.19 269.15 L82.01 269.26 L81.83 269.37 L81.66 269.48 L81.48 269.59 L81.32 269.7 L81.15 269.8 L80.99 269.9 L80.84 269.99 L80.7 270.08 L80.56 270.16 L80.42 270.23 L80.29 270.3 L80.16 270.37 L80.03 270.44 L79.9 270.49 L79.78 270.55 L79.66 270.61 L79.55 270.67 L79.44 270.72 L79.34 270.77 L79.27 270.81 L79.22 270.83 L79.2 270.84 L79.21 270.84 L79.27 270.84 L79.36 270.84 L79.47 270.85 L79.61 270.87 L79.74 270.92 L79.86 270.98 L79.95 271.04 L80.01 271.09 L80.04 271.12 L80.05 271.13 L80.04 271.12 L80.03 271.08 L80 271.03 L79.97 270.95 L79.93 270.85 L79.89 270.73 L79.85 270.59 L79.81 270.43Z"/>
<path fill="#000" d="M78.18 269.01l1.9 3.81h-3.81z"/>
<path fill="#000" d="M239.77 250.13l1.57 3.14h-3.14z"/>
<rect class="ax" x="74.65" y="167.8" width="187.45" height="115.75"/>
<path class="ax" d="M77.95 283.55v4.1M123.99 283.55v4.1M170.03 283.55v4.1M216.06 283.55v4.1M262.1 283.55v4.1M74.65 167.8h-4.1M74.65 190.95h-4.1M74.65 214.1h-4.1M74.65 237.25h-4.1M74.65 260.4h-4.1M74.65 283.55h-4.1"/>
<text class="t" text-anchor="middle" x="77.95" y="301.05">0</text>
<text class="t" text-anchor="middle" x="123.99" y="301.05">20,000</text>
<text class="t" text-anchor="middle" x="170.03" y="301.05">40,000</text>
<text class="t" text-anchor="middle" x="216.06" y="301.05">60,000</text>
<text class="t" text-anchor="middle" x="262.1" y="301.05">80,000</text>
<text class="t" text-anchor="end" x="65.95" y="172.5">1000</text>
<text class="t" text-anchor="end" x="65.95" y="195.65">500</text>
<text class="t" text-anchor="end" x="65.95" y="218.8">0</text>
<text class="t" text-anchor="end" x="65.95" y="241.95">−500</text>
<text class="t" text-anchor="end" x="65.95" y="265.1">−1000</text>
<text class="t" text-anchor="end" x="65.95" y="288.25">−1500</text>
<text class="t" text-anchor="middle" x="168.38" y="318.05">Time in s</text>
<text class="t" text-anchor="middle" transform="translate(18.15 225.68) rotate(-90)">Stress in MPa</text>
<text class="s" x="193.05" y="180.5">IP TMF HT1</text>
<text class="s" x="193.05" y="191.3">New sft</text>
</g>
<g>
<path class="ln" stroke="#0000ff" stroke-width="3.7" d="M340.73 192.57 L340.8 192.88 L340.87 193.19 L340.95 193.48 L341.04 193.76 L341.13 194.02 L341.23 194.27 L341.34 194.5 L341.45 194.7 L341.57 194.9 L341.69 195.08 L341.82 195.26 L341.95 195.43 L342.1 195.59 L342.24 195.74 L342.4 195.87 L342.56 196 L342.73 196.12 L342.9 196.23 L343.08 196.33 L343.26 196.43 L343.45 196.53 L343.65 196.62 L343.85 196.7 L344.06 196.79 L344.28 196.87 L344.5 196.94 L344.73 197.02 L344.96 197.09 L345.2 197.16 L345.45 197.23 L345.7 197.29 L345.96 197.36 L346.22 197.42 L346.5 197.49 L346.77 197.55 L347.06 197.6 L347.35 197.66 L347.64 197.71 L347.94 197.76 L348.25 197.81 L348.56 197.86 L348.88 197.91 L349.21 197.96 L349.54 198.01 L349.88 198.06 L350.23 198.11 L350.58 198.17 L350.93 198.22 L351.3 198.28 L351.67 198.35 L352.04 198.41 L352.42 198.47 L352.81 198.54 L353.2 198.61 L353.6 198.67 L354.01 198.74 L354.42 198.81 L354.84 198.88 L355.27 198.95 L355.7 199.02 L356.13 199.09 L356.58 199.16 L357.03 199.23 L357.48 199.3 L357.94 199.37 L358.41 199.44 L358.88 199.51 L359.36 199.58 L359.85 199.65 L360.34 199.73 L360.84 199.8 L361.34 199.88 L361.85 199.96 L362.37 200.03 L362.89 200.11 L363.42 200.18 L363.96 200.25 L364.5 200.32 L365.05 200.38 L365.6 200.44 L366.16 200.49 L366.73 200.53 L367.3 200.57 L367.88 200.61 L368.46 200.65 L369.05 200.69 L369.65 200.72 L370.25 200.76 L370.86 200.79 L371.47 200.82 L372.1 200.85 L372.72 200.88 L373.36 200.9 L374 200.93 L374.64 200.95 L375.29 200.98 L375.95 201 L376.62 201.02 L377.29 201.04 L377.96 201.06 L378.64 201.08 L379.33 201.1 L380.03 201.12 L380.73 201.14 L381.44 201.16 L382.15 201.18 L382.87 201.19 L383.59 201.21 L384.33 201.23 L385.06 201.24 L385.81 201.26 L386.56 201.27 L387.31 201.29 L388.08 201.3 L388.85 201.31 L389.62 201.32 L390.4 201.33 L391.19 201.34 L391.98 201.35 L392.78 201.36 L393.59 201.36 L394.4 201.37 L395.22 201.37 L396.04 201.38 L396.87 201.38 L397.71 201.39 L398.55 201.39 L399.4 201.4 L400.25 201.4 L401.11 201.41 L401.98 201.41 L402.85 201.41 L403.73 201.42 L404.62 201.42 L405.51 201.43 L406.4 201.43 L407.31 201.43 L408.22 201.44 L409.13 201.44 L410.06 201.44 L410.98 201.45 L411.92 201.45 L412.86 201.45 L413.81 201.46 L414.76 201.46 L415.72 201.46 L416.68 201.47 L417.66 201.47 L418.63 201.47 L419.62 201.47 L420.61 201.48 L421.6 201.48 L422.6 201.48 L423.61 201.48 L424.63 201.49 L425.65 201.49 L426.67 201.49 L427.71 201.49 L428.75 201.49 L429.79 201.49 L430.84 201.5 L431.9 201.5 L432.96 201.5 L434.03 201.5 L435.11 201.5 L436.19 201.5 L437.28 201.5 L438.37 201.5 L439.47 201.5 L440.58 201.5 L441.69 201.51 L442.81 201.51 L443.93 201.51 L445.07 201.51 L446.2 201.51 L447.35 201.51 L448.5 201.51 L449.65 201.51 L450.81 201.5 L451.98 201.5 L453.16 201.5 L454.34 201.5 L455.52 201.5 L456.71 201.5 L457.91 201.5 L459.12 201.49 L460.33 201.49 L461.55 201.49 L462.77 201.48 L464 201.48 L465.23 201.48 L466.48 201.47 L467.72 201.47 L468.98 201.47 L470.24 201.46 L471.5 201.46 L472.78 201.45 L474.05 201.45 L475.34 201.44 L476.63 201.44 L477.93 201.43 L479.23 201.43 L480.54 201.42 L481.85 201.42 L483.18 201.41 L484.5 201.41 L485.84 201.4 L487.18 201.4 L488.52 201.39 L489.88 201.38 L491.23 201.38 L492.6 201.37 L493.97 201.36 L495.35 201.36 L496.73 201.35 L498.12 201.34 L499.51 201.34 L500.91 201.33 L502.32 201.32"/>
<path class="ln" stroke="#0000ff" stroke-width="3.7" d="M341.19 264.34 L341.29 264.58 L341.4 264.8 L341.51 265 L341.63 265.18 L341.75 265.31 L341.88 265.4 L342.01 265.46 L342.15 265.51 L342.3 265.56 L342.45 265.6 L342.61 265.62 L342.77 265.63 L342.94 265.63 L343.12 265.62 L343.3 265.61 L343.49 265.6 L343.68 265.58 L343.88 265.55 L344.09 265.53 L344.3 265.5 L344.51 265.47 L344.74 265.44 L344.96 265.41 L345.2 265.38 L345.44 265.35 L345.68 265.32 L345.93 265.29 L346.19 265.27 L346.46 265.24 L346.72 265.22 L347 265.2 L347.28 265.17 L347.57 265.15 L347.86 265.13 L348.16 265.1 L348.46 265.08 L348.77 265.05 L349.09 265.03 L349.41 265 L349.74 264.98 L350.07 264.95 L350.41 264.93 L350.75 264.9 L351.1 264.88 L351.46 264.85 L351.82 264.82 L352.19 264.79 L352.56 264.77 L352.94 264.74 L353.33 264.71 L353.72 264.68 L354.12 264.65 L354.52 264.62 L354.93 264.59 L355.35 264.56 L355.77 264.53 L356.19 264.5 L356.63 264.47 L357.06 264.44 L357.51 264.41 L357.96 264.38 L358.41 264.35 L358.88 264.32 L359.34 264.29 L359.82 264.26 L360.3 264.23 L360.78 264.2 L361.27 264.16 L361.77 264.13 L362.27 264.1 L362.78 264.07 L363.29 264.04 L363.81 264 L364.34 263.97 L364.87 263.94 L365.41 263.91 L365.95 263.87 L366.5 263.84 L367.05 263.81 L367.62 263.78 L368.18 263.74 L368.75 263.71 L369.33 263.68 L369.92 263.64 L370.51 263.61 L371.1 263.58 L371.7 263.55 L372.31 263.51 L372.92 263.48 L373.54 263.45 L374.17 263.41 L374.8 263.38 L375.44 263.35 L376.08 263.31 L376.73 263.28 L377.38 263.25 L378.04 263.21 L378.71 263.18 L379.38 263.14 L380.06 263.11 L380.74 263.07 L381.43 263.04 L382.12 263 L382.82 262.97 L383.53 262.93 L384.24 262.89 L384.96 262.86 L385.68 262.82 L386.41 262.78 L387.15 262.75 L387.89 262.71 L388.64 262.67 L389.39 262.63 L390.15 262.59 L390.92 262.55 L391.69 262.51 L392.46 262.47 L393.25 262.43 L394.03 262.39 L394.83 262.35 L395.63 262.3 L396.43 262.26 L397.25 262.22 L398.06 262.17 L398.89 262.12 L399.72 262.08 L400.55 262.03 L401.39 261.98 L402.24 261.93 L403.09 261.88 L403.95 261.83 L404.81 261.78 L405.68 261.73 L406.56 261.68 L407.44 261.62 L408.33 261.57 L409.22 261.52 L410.12 261.46 L411.02 261.41 L411.94 261.36 L412.85 261.3 L413.77 261.25 L414.7 261.19 L415.64 261.14 L416.58 261.08 L417.52 261.03 L418.47 260.97 L419.43 260.92 L420.4 260.86 L421.36 260.81 L422.34 260.75 L423.32 260.69 L424.31 260.64 L425.3 260.58 L426.3 260.53 L427.3 260.48 L428.31 260.42 L429.33 260.37 L430.35 260.31 L431.38 260.26 L432.41 260.21 L433.45 260.16 L434.49 260.1 L435.54 260.05 L436.6 260 L437.66 259.95 L438.73 259.9 L439.81 259.85 L440.89 259.8 L441.97 259.76 L443.06 259.71 L444.16 259.66 L445.26 259.62 L446.37 259.57 L447.49 259.53 L448.61 259.48 L449.74 259.44 L450.87 259.4 L452.01 259.35 L453.15 259.31 L454.3 259.27 L455.46 259.22 L456.62 259.18 L457.79 259.14 L458.96 259.1 L460.14 259.06 L461.32 259.01 L462.51 258.97 L463.71 258.93 L464.91 258.89 L466.12 258.85 L467.34 258.81 L468.55 258.77 L469.78 258.73 L471.01 258.69 L472.25 258.65 L473.49 258.61 L474.74 258.57 L476 258.53 L477.26 258.49 L478.52 258.46 L479.8 258.42 L481.08 258.38 L482.36 258.34 L483.65 258.31 L484.95 258.27 L486.25 258.23 L487.55 258.19 L488.87 258.16 L490.19 258.12 L491.51 258.09 L492.84 258.05 L494.18 258.01 L495.52 257.98 L496.87 257.94 L498.22 257.91 L499.58 257.88 L500.95 257.84 L502.32 257.81"/>
<circle cx="340.85" cy="262.16" r="1.85" fill="#0000ff"/>
<path fill="#000" stroke="#000" stroke-width="0.3" stroke-linejoin="round" d="M339.37 192.17 L339.45 192.44 L339.54 192.62 L339.66 192.86 L339.78 193.2 L339.9 193.44 L339.99 193.71 L340.11 193.83 L340.27 194.02 L340.4 194.24 L340.57 194.51 L340.75 194.84 L340.85 194.82 L341.03 195.03 L341.26 195.36 L341.6 195.53 L341.9 195.82 L341.99 195.86 L342.25 195.95 L342.45 196.07 L342.63 196.04 L342.98 196.15 L343.2 196.32 L343.28 196.36 L343.39 196.43 L343.52 196.48 L343.81 196.44 L344.1 196.54 L344.27 196.69 L344.45 196.66 L344.59 196.71 L344.75 196.67 L344.93 196.75 L345.03 196.8 L345.23 196.87 L345.35 196.83 L345.45 196.85 L345.68 197.03 L345.9 197.1 L346.06 197.02 L346.22 197.19 L346.59 197.2 L346.98 197.32 L347.14 197.3 L347.33 197.38 L347.58 197.38 L347.78 197.31 L347.95 197.32 L348.18 197.38 L348.48 197.47 L348.59 197.47 L348.67 197.53 L348.99 197.63 L349.29 197.62 L349.54 197.6 L349.86 197.78 L350.18 197.84 L350.38 197.72 L350.51 197.84 L350.85 197.81 L351.23 197.85 L351.4 197.84 L351.64 197.99 L351.92 198.04 L352.16 197.99 L352.38 198.03 L352.68 198.1 L353.08 198.12 L353.28 198.19 L353.5 198.15 L353.81 198.33 L354.08 198.29 L354.35 198.28 L354.6 198.45 L355 198.45 L355.37 198.55 L355.61 198.57 L355.99 198.71 L356.32 198.77 L356.6 198.64 L356.91 198.76 L357.31 198.77 L357.74 198.8 L358 198.91 L358.3 198.97 L358.64 199.06 L358.94 198.96 L359.26 198.99 L359.65 199.07 L360.03 199.09 L360.32 199.18 L360.61 199.21 L360.99 199.37 L361.38 199.29 L361.75 199.43 L362.11 199.45 L362.49 199.52 L362.91 199.51 L363.28 199.53 L363.65 199.59 L364.02 199.7 L364.39 199.76 L364.75 199.65 L365.14 199.83 L365.63 199.85 L366.11 199.99 L366.46 199.98 L366.79 200.07 L367.24 200.05 L367.7 200.02 L368.14 200 L368.54 200.13 L368.97 200.27 L369.32 200.22 L369.64 200.26 L370.09 200.27 L370.63 200.41 L371.08 200.36 L371.46 200.54 L371.86 200.62 L372.33 200.62 L372.77 200.56 L373.22 200.67 L373.77 200.8 L374.26 200.85 L374.65 200.86 L375.03 200.96 L375.51 200.99 L376.02 200.94 L376.52 201.01 L376.99 201.09 L377.49 201.34 L377.92 201.27 L378.34 201.37 L378.9 201.29 L379.47 201.52 L379.99 201.4 L380.47 201.65 L380.89 201.65 L381.41 201.55 L381.95 201.71 L382.45 201.67 L382.98 201.84 L383.41 201.97 L383.99 201.89 L384.59 202 L385.12 202.06 L385.66 202.22 L386.11 202.26 L386.64 202.08 L387.26 202.12 L387.85 202.17 L388.37 202.4 L388.82 202.53 L389.37 202.42 L389.91 202.41 L390.54 202.49 L391.25 202.72 L391.76 202.71 L392.2 202.59 L392.83 202.84 L393.52 202.63 L394.09 202.62 L394.59 202.89 L395.23 202.99 L395.8 202.72 L396.25 202.82 L396.91 202.96 L397.61 202.99 L398.15 202.87 L398.75 203.09 L399.37 203.22 L399.95 203.06 L400.5 203.19 L401.17 203.1 L401.86 203.04 L402.47 203.26 L403.13 203.33 L403.75 203.43 L404.33 203.18 L404.93 203.47 L405.57 203.19 L406.3 203.31 L406.9 203.26 L407.53 203.32 L408.16 203.57 L408.72 203.59 L409.42 203.34 L410.06 203.61 L410.79 203.45 L411.55 203.71 L412.12 203.69 L412.73 203.57 L413.39 203.75 L414.09 203.6 L414.81 203.58 L415.46 203.81 L416.2 203.85 L416.88 203.98 L417.51 203.86 L418.24 204.02 L419.01 203.86 L419.72 203.84 L420.41 203.92 L421.1 203.93 L421.74 203.96 L422.39 203.87 L423.16 204.05 L423.88 203.95 L424.6 204.19 L425.35 204.3 L426.07 204.3 L426.74 204.1 L427.49 204.36 L428.3 204.18 L429.08 204.16 L429.76 204.34 L430.45 204.53 L431.22 204.37 L431.94 204.5 L432.69 204.31 L433.5 204.63 L434.29 204.66 L435.05 204.59 L435.74 204.62 L436.52 204.78 L437.38 204.74 L438.14 204.64 L438.87 204.76 L439.66 204.97 L440.54 204.85 L441.34 204.88 L442.13 204.9 L442.96 205.12 L443.72 205.04 L444.51 204.76 L445.31 204.82 L446.12 204.82 L446.97 204.94 L447.7 205.11 L448.44 204.9 L449.25 205.22 L450.12 205.12 L450.99 205.15 L451.78 205.24 L452.63 205.36 L453.49 205.35 L454.35 205.23 L455.22 205.43 L456.03 205.42 L456.9 205.44 L457.76 205.48 L458.62 205.26 L459.51 205.43 L460.32 205.71 L461.22 205.38 L462.03 205.52 L462.84 205.41 L463.8 205.58 L464.71 205.69 L465.52 205.45 L466.35 205.81 L467.28 205.79 L468.23 205.71 L469.06 205.54 L469.97 205.95 L470.95 205.86 L471.81 205.79 L472.65 205.73 L473.57 206.06 L474.56 205.75 L475.5 205.88 L476.33 205.93 L477.21 206.03 L478.17 206.1 L479.11 205.81 L480.07 205.79 L480.97 206.26 L481.87 206.27 L482.75 206.05 L483.64 206.02 L484.69 206.03 L485.75 206.35 L486.61 206.43 L487.45 206.53 L488.44 206.4 L489.49 206.33 L490.46 206.18 L491.4 206.69 L492.34 206.69 L493.32 206.4 L494.28 206.42 L495.26 206.78 L496.35 206.83 L497.27 206.9 L498.11 206.56 L499.05 206.81 L500 206.86 L500.91 206.63 L501.77 206.97 L502.87 201.78 L501.74 201.4 L500.65 201.6 L499.61 201.54 L498.57 201.28 L497.44 201.6 L496.39 201.53 L495.51 201.48 L494.54 201.13 L493.55 201.11 L492.58 201.4 L491.59 201.4 L490.59 200.88 L489.63 201.03 L488.76 201.11 L487.85 201.25 L486.78 201.13 L485.74 201.05 L484.9 200.73 L484.06 200.74 L483.08 200.76 L482.08 200.97 L481.1 200.96 L480.14 200.49 L479.25 200.52 L478.33 200.8 L477.45 200.73 L476.49 200.63 L475.49 200.58 L474.6 200.45 L473.77 200.77 L472.88 200.44 L471.91 200.49 L470.96 200.56 L470.15 200.65 L469.27 200.24 L468.32 200.41 L467.5 200.49 L466.65 200.52 L465.72 200.15 L464.77 200.39 L463.92 200.28 L463.14 200.11 L462.21 200.22 L461.29 200.08 L460.46 200.41 L459.55 200.13 L458.72 199.96 L457.87 200.18 L457.03 200.14 L456.21 200.12 L455.32 200.13 L454.51 199.93 L453.69 200.05 L452.88 200.07 L452.07 199.95 L451.2 199.85 L450.41 199.83 L449.63 199.94 L448.81 199.61 L447.91 199.81 L447.01 199.64 L446.24 199.53 L445.44 199.52 L444.62 199.46 L443.81 199.74 L442.97 199.82 L442.22 199.6 L441.42 199.58 L440.64 199.55 L439.94 199.68 L439.17 199.47 L438.34 199.35 L437.54 199.44 L436.85 199.49 L436.09 199.33 L435.25 199.3 L434.48 199.37 L433.75 199.34 L433.04 199.02 L432.28 199.21 L431.5 199.07 L430.77 199.24 L429.97 199.04 L429.16 198.86 L428.46 198.88 L427.8 199.07 L427.08 198.81 L426.29 199.01 L425.55 199.01 L424.86 198.89 L424.13 198.66 L423.42 198.76 L422.76 198.58 L421.99 198.67 L421.21 198.64 L420.48 198.62 L419.77 198.54 L419.08 198.56 L418.46 198.73 L417.8 198.56 L417.05 198.68 L416.36 198.55 L415.73 198.52 L415.02 198.28 L414.38 198.3 L413.73 198.47 L413.04 198.28 L412.32 198.39 L411.56 198.41 L411 198.16 L410.4 198.32 L409.73 198.05 L409.12 198.31 L408.39 198.27 L407.72 198.02 L407.06 197.96 L406.38 198.01 L405.84 197.9 L405.21 198.18 L404.54 197.89 L403.87 198.13 L403.24 198.03 L402.65 197.97 L402.03 197.74 L401.48 197.8 L400.93 197.9 L400.26 197.77 L399.62 197.93 L399.04 197.79 L398.44 197.58 L397.79 197.69 L397.29 197.67 L396.77 197.54 L396.05 197.43 L395.44 197.69 L394.92 197.6 L394.27 197.32 L393.69 197.33 L393.23 197.55 L392.72 197.31 L392.03 197.41 L391.41 197.43 L391.01 197.21 L390.51 197.14 L389.95 197.15 L389.39 197.26 L388.75 197.11 L388.18 196.88 L387.69 196.84 L387.23 196.81 L386.69 196.99 L386.07 196.94 L385.55 196.78 L385.04 196.72 L384.59 196.62 L384.13 196.72 L383.53 196.57 L383.03 196.4 L382.51 196.44 L382.03 196.29 L381.55 196.39 L380.96 196.38 L380.44 196.12 L379.97 196.24 L379.56 196.03 L379.14 196.14 L378.59 196.02 L378.06 196.07 L377.59 195.82 L377.11 195.74 L376.66 195.68 L376.23 195.74 L375.78 195.71 L375.23 195.59 L374.7 195.57 L374.27 195.52 L373.91 195.42 L373.46 195.31 L373 195.36 L372.58 195.37 L372.1 195.28 L371.59 195.09 L371.17 195.13 L370.85 195.02 L370.44 195.02 L369.9 194.95 L369.41 194.99 L368.99 194.85 L368.56 194.72 L368.17 194.74 L367.81 194.79 L367.44 194.81 L366.96 194.7 L366.5 194.7 L366.19 194.58 L365.88 194.58 L365.49 194.4 L365.07 194.51 L364.66 194.44 L364.26 194.33 L363.88 194.26 L363.49 194.24 L363.16 194.26 L362.8 194.19 L362.42 194.17 L362.06 194.03 L361.73 194.13 L361.39 193.97 L360.97 193.94 L360.55 193.84 L360.24 193.84 L359.93 193.79 L359.57 193.76 L359.18 193.86 L358.85 193.78 L358.48 193.73 L358.08 193.62 L357.86 193.62 L357.6 193.63 L357.27 193.53 L356.92 193.66 L356.61 193.61 L356.37 193.5 L355.99 193.48 L355.75 193.4 L355.54 193.44 L355.19 193.26 L354.86 193.27 L354.55 193.32 L354.28 193.16 L353.92 193.18 L353.55 193.11 L353.39 193.12 L353.13 193.07 L352.8 193.02 L352.5 193.08 L352.24 193.04 L351.95 192.89 L351.59 192.89 L351.45 192.88 L351.28 192.94 L350.9 192.8 L350.6 192.92 L350.43 192.88 L350.25 192.73 L350.02 192.76 L349.85 192.8 L349.7 192.75 L349.32 192.64 L348.97 192.61 L348.81 192.54 L348.6 192.49 L348.34 192.48 L348.1 192.55 L347.92 192.57 L347.7 192.49 L347.44 192.51 L347.42 192.45 L347.39 192.51 L347.15 192.33 L346.92 192.4 L346.76 192.36 L346.62 192.23 L346.34 192.19 L346.1 192.23 L345.94 192.2 L345.68 192.14 L345.52 192.09 L345.34 192.15 L345.15 192.11 L345 192.17 L344.85 192.05 L344.82 192.03 L344.8 192.16 L344.63 192.12 L344.44 192.04 L344.23 191.99 L344.17 191.89 L344.24 191.93 L344.15 192.02 L344.09 191.98 L344.08 192.04 L343.92 191.99 L343.98 191.92 L344.07 192.11 L344.06 192 L344.02 191.97 L343.9 191.99 L343.86 191.82 L343.82 191.76 L343.75 191.64 L343.72 191.69 L343.64 191.66 L343.55 191.42 L343.49 191.32 L343.43 191.15 L343.38 191.09 L343.31 191 L343.24 190.77Z"/>
<path fill="#000" d="M341.31 189.17l2.3 4.61h-4.61z"/>
<path fill="#000" d="M502.32 201.4l2.97 5.94h-5.94z"/>
<path fill="#000" stroke="#000" stroke-width="0.3" stroke-linejoin="round" d="M338.56 272.05 L338.63 272.24 L338.7 272.44 L338.78 272.64 L338.88 272.85 L338.99 273.07 L339.12 273.3 L339.27 273.52 L339.44 273.75 L339.64 273.98 L339.87 274.2 L340.15 274.41 L340.46 274.61 L340.79 274.76 L341.14 274.87 L341.48 274.94 L341.8 274.96 L342.1 274.96 L342.36 274.93 L342.59 274.9 L342.8 274.86 L342.98 274.82 L343.15 274.77 L343.31 274.73 L343.48 274.68 L343.65 274.62 L343.84 274.56 L344.04 274.5 L344.24 274.43 L344.44 274.34 L344.65 274.25 L344.86 274.14 L345.07 274.02 L345.27 273.89 L345.47 273.77 L345.65 273.65 L345.82 273.54 L345.99 273.42 L346.16 273.31 L346.33 273.2 L346.5 273.08 L346.68 272.98 L346.86 272.87 L347.04 272.75 L347.23 272.63 L347.42 272.51 L347.62 272.39 L347.83 272.26 L348.04 272.13 L348.24 271.99 L348.46 271.86 L348.67 271.72 L348.89 271.58 L349.11 271.44 L349.33 271.3 L349.56 271.15 L349.79 271.01 L350.02 270.86 L350.25 270.71 L350.49 270.56 L350.73 270.41 L350.98 270.25 L351.23 270.1 L351.48 269.94 L351.74 269.77 L352.01 269.61 L352.28 269.44 L352.55 269.27 L352.83 269.09 L353.11 268.9 L353.39 268.71 L353.68 268.52 L353.97 268.32 L354.25 268.13 L354.54 267.93 L354.83 267.74 L355.11 267.55 L355.4 267.36 L355.69 267.17 L355.97 266.99 L356.26 266.81 L356.55 266.63 L356.84 266.46 L357.14 266.29 L357.44 266.13 L357.75 265.97 L358.06 265.81 L358.37 265.65 L358.69 265.48 L359.01 265.33 L359.34 265.17 L359.67 265.01 L360 264.85 L360.34 264.7 L360.68 264.55 L361.02 264.4 L361.37 264.25 L361.72 264.1 L362.07 263.96 L362.43 263.81 L362.79 263.67 L363.16 263.53 L363.52 263.39 L363.89 263.25 L364.27 263.11 L364.64 262.98 L365.02 262.85 L365.4 262.72 L365.78 262.59 L366.16 262.47 L366.55 262.35 L366.94 262.24 L367.34 262.13 L367.74 262.02 L368.14 261.91 L368.56 261.81 L368.97 261.7 L369.39 261.6 L369.82 261.49 L370.24 261.39 L370.67 261.29 L371.11 261.19 L371.54 261.1 L371.98 261 L372.43 260.91 L372.87 260.82 L373.32 260.73 L373.77 260.64 L374.23 260.56 L374.68 260.47 L375.15 260.39 L375.61 260.32 L376.08 260.24 L376.55 260.17 L377.02 260.1 L377.5 260.03 L377.99 259.96 L378.47 259.9 L378.97 259.84 L379.46 259.77 L379.96 259.71 L380.47 259.66 L380.97 259.6 L381.48 259.54 L382 259.48 L382.52 259.43 L383.04 259.38 L383.56 259.32 L384.09 259.27 L384.62 259.22 L385.16 259.17 L385.7 259.12 L386.24 259.07 L386.79 259.03 L387.34 258.98 L387.89 258.93 L388.45 258.89 L389.01 258.84 L389.57 258.8 L390.14 258.75 L390.71 258.71 L391.28 258.67 L391.86 258.63 L392.44 258.58 L393.02 258.54 L393.61 258.5 L394.2 258.46 L394.79 258.42 L395.39 258.38 L395.99 258.35 L396.59 258.31 L397.2 258.27 L397.81 258.24 L398.42 258.2 L399.04 258.17 L399.66 258.13 L400.28 258.1 L400.91 258.07 L401.54 258.04 L402.17 258 L402.81 257.97 L403.45 257.94 L404.09 257.91 L404.74 257.88 L405.39 257.85 L406.05 257.82 L406.71 257.79 L407.37 257.76 L408.03 257.73 L408.7 257.7 L409.37 257.67 L410.05 257.64 L410.73 257.61 L411.41 257.58 L412.1 257.55 L412.79 257.52 L413.48 257.48 L414.18 257.45 L414.88 257.42 L415.58 257.39 L416.29 257.35 L417 257.32 L417.71 257.28 L418.43 257.25 L419.15 257.21 L419.87 257.17 L420.6 257.13 L421.33 257.09 L422.06 257.05 L422.8 257.01 L423.54 256.97 L424.28 256.92 L425.03 256.88 L425.78 256.83 L426.53 256.78 L427.29 256.74 L428.05 256.69 L428.81 256.64 L429.58 256.59 L430.34 256.54 L431.12 256.49 L431.89 256.44 L432.67 256.38 L433.45 256.33 L434.23 256.28 L435.02 256.23 L435.81 256.18 L436.6 256.12 L437.4 256.07 L438.2 256.02 L439 255.97 L439.81 255.92 L440.62 255.87 L441.43 255.82 L442.25 255.77 L443.06 255.72 L443.89 255.67 L444.71 255.62 L445.54 255.58 L446.37 255.53 L447.21 255.49 L448.04 255.44 L448.89 255.4 L449.73 255.35 L450.58 255.31 L451.43 255.27 L452.29 255.23 L453.15 255.18 L454.01 255.14 L454.87 255.1 L455.74 255.06 L456.62 255.02 L457.49 254.98 L458.37 254.94 L459.25 254.9 L460.14 254.85 L461.03 254.81 L461.92 254.77 L462.82 254.73 L463.72 254.69 L464.62 254.65 L465.53 254.61 L466.43 254.57 L467.35 254.53 L468.26 254.49 L469.18 254.45 L470.11 254.41 L471.03 254.36 L471.96 254.32 L472.89 254.28 L473.83 254.24 L474.77 254.2 L475.71 254.15 L476.66 254.11 L477.61 254.07 L478.56 254.02 L479.51 253.98 L480.47 253.94 L481.43 253.9 L482.39 253.86 L483.36 253.82 L484.33 253.78 L485.31 253.74 L486.29 253.7 L487.27 253.66 L488.26 253.62 L489.25 253.58 L490.25 253.53 L491.25 253.48 L492.25 253.43 L493.26 253.38 L494.28 253.32 L495.3 253.26 L496.32 253.2 L497.35 253.13 L498.39 253.04 L499.42 252.93 L500.46 252.82 L501.5 252.69 L502.54 252.56 L502.11 248.79 L501.08 248.91 L500.07 249.03 L499.05 249.14 L498.05 249.24 L497.04 249.32 L496.04 249.38 L495.04 249.44 L494.05 249.49 L493.05 249.55 L492.06 249.59 L491.06 249.64 L490.07 249.68 L489.09 249.72 L488.1 249.76 L487.12 249.8 L486.14 249.83 L485.16 249.87 L484.18 249.9 L483.21 249.94 L482.24 249.97 L481.27 250.01 L480.31 250.04 L479.35 250.08 L478.39 250.12 L477.44 250.16 L476.49 250.2 L475.54 250.24 L474.6 250.28 L473.66 250.32 L472.73 250.36 L471.79 250.4 L470.86 250.43 L469.94 250.47 L469.01 250.51 L468.1 250.55 L467.18 250.58 L466.27 250.62 L465.36 250.66 L464.45 250.69 L463.55 250.73 L462.65 250.77 L461.75 250.8 L460.86 250.84 L459.97 250.88 L459.08 250.91 L458.19 250.95 L457.31 250.99 L456.44 251.02 L455.56 251.06 L454.69 251.1 L453.82 251.14 L452.96 251.18 L452.1 251.21 L451.24 251.25 L450.38 251.29 L449.53 251.33 L448.68 251.37 L447.84 251.41 L447 251.45 L446.16 251.5 L445.32 251.54 L444.49 251.58 L443.66 251.63 L442.83 251.67 L442.01 251.72 L441.19 251.76 L440.38 251.81 L439.56 251.86 L438.75 251.9 L437.95 251.95 L437.15 252 L436.35 252.05 L435.55 252.1 L434.76 252.15 L433.97 252.19 L433.19 252.24 L432.41 252.29 L431.63 252.34 L430.86 252.39 L430.08 252.44 L429.32 252.48 L428.55 252.53 L427.79 252.57 L427.04 252.62 L426.28 252.66 L425.53 252.71 L424.79 252.75 L424.05 252.79 L423.31 252.83 L422.57 252.87 L421.84 252.91 L421.11 252.95 L420.38 252.99 L419.66 253.02 L418.94 253.06 L418.22 253.09 L417.51 253.12 L416.8 253.15 L416.09 253.18 L415.39 253.22 L414.69 253.25 L413.99 253.28 L413.3 253.3 L412.6 253.33 L411.92 253.36 L411.23 253.39 L410.55 253.42 L409.87 253.44 L409.2 253.47 L408.52 253.5 L407.85 253.52 L407.19 253.55 L406.53 253.58 L405.87 253.6 L405.21 253.63 L404.55 253.66 L403.9 253.68 L403.26 253.71 L402.61 253.74 L401.97 253.77 L401.33 253.79 L400.7 253.82 L400.07 253.85 L399.44 253.88 L398.81 253.91 L398.19 253.94 L397.57 253.97 L396.95 254.01 L396.34 254.04 L395.73 254.07 L395.13 254.11 L394.52 254.14 L393.92 254.18 L393.33 254.22 L392.73 254.26 L392.14 254.29 L391.56 254.33 L390.97 254.37 L390.4 254.41 L389.82 254.45 L389.25 254.49 L388.68 254.53 L388.11 254.58 L387.54 254.62 L386.98 254.66 L386.43 254.71 L385.87 254.75 L385.32 254.8 L384.77 254.85 L384.23 254.89 L383.68 254.94 L383.14 254.99 L382.61 255.04 L382.08 255.09 L381.55 255.15 L381.02 255.2 L380.49 255.26 L379.97 255.31 L379.46 255.37 L378.94 255.43 L378.43 255.49 L377.92 255.55 L377.41 255.62 L376.9 255.68 L376.4 255.75 L375.9 255.82 L375.4 255.9 L374.91 255.97 L374.42 256.05 L373.93 256.13 L373.45 256.22 L372.97 256.31 L372.49 256.4 L372.01 256.49 L371.54 256.58 L371.08 256.68 L370.61 256.77 L370.15 256.87 L369.7 256.97 L369.24 257.08 L368.79 257.18 L368.35 257.29 L367.91 257.39 L367.47 257.5 L367.03 257.61 L366.59 257.72 L366.15 257.84 L365.72 257.96 L365.29 258.08 L364.86 258.21 L364.43 258.34 L364.01 258.48 L363.59 258.62 L363.17 258.76 L362.76 258.91 L362.36 259.05 L361.96 259.2 L361.56 259.35 L361.17 259.5 L360.78 259.65 L360.39 259.8 L360.01 259.96 L359.63 260.12 L359.25 260.28 L358.87 260.44 L358.5 260.6 L358.13 260.77 L357.77 260.94 L357.41 261.11 L357.05 261.28 L356.69 261.45 L356.34 261.63 L355.99 261.8 L355.64 261.98 L355.29 262.17 L354.94 262.35 L354.6 262.55 L354.26 262.74 L353.93 262.94 L353.59 263.15 L353.27 263.35 L352.95 263.56 L352.64 263.76 L352.33 263.97 L352.03 264.17 L351.74 264.36 L351.45 264.56 L351.17 264.75 L350.89 264.93 L350.63 265.11 L350.36 265.28 L350.1 265.45 L349.84 265.61 L349.58 265.77 L349.33 265.93 L349.07 266.08 L348.82 266.24 L348.57 266.4 L348.32 266.55 L348.07 266.71 L347.83 266.86 L347.59 267.01 L347.35 267.16 L347.12 267.31 L346.89 267.45 L346.67 267.59 L346.44 267.73 L346.23 267.87 L346.01 268.01 L345.8 268.14 L345.6 268.27 L345.4 268.39 L345.2 268.52 L345 268.64 L344.81 268.76 L344.62 268.88 L344.42 269 L344.23 269.11 L344.05 269.23 L343.86 269.35 L343.68 269.46 L343.51 269.58 L343.34 269.69 L343.19 269.79 L343.05 269.88 L342.92 269.96 L342.82 270.03 L342.72 270.08 L342.64 270.13 L342.56 270.17 L342.48 270.2 L342.4 270.22 L342.33 270.24 L342.25 270.26 L342.17 270.28 L342.09 270.31 L342.01 270.33 L341.94 270.35 L341.89 270.36 L341.87 270.37 L341.88 270.37 L341.94 270.37 L342.03 270.38 L342.15 270.4 L342.3 270.43 L342.46 270.48 L342.62 270.55 L342.76 270.64 L342.87 270.72 L342.95 270.79 L343 270.84 L343.02 270.87 L343.03 270.89 L343.03 270.88 L343.02 270.85 L342.99 270.79 L342.96 270.72 L342.93 270.62 L342.9 270.51Z"/>
<path fill="#000" d="M340.73 268.71l2.58 5.15h-5.15z"/>
<path fill="#000" d="M502.32 248.55l2.13 4.26h-4.26z"/>
<rect class="ax" x="337.2" y="167.8" width="187.45" height="115.75"/>
<path class="ax" d="M340.5 283.55v4.1M386.54 283.55v4.1M432.57 283.55v4.1M478.61 283.55v4.1M524.65 283.55v4.1M337.2 167.8h-4.1M337.2 190.95h-4.1M337.2 214.1h-4.1M337.2 237.25h-4.1M337.2 260.4h-4.1M337.2 283.55h-4.1"/>
<text class="t" text-anchor="middle" x="340.5" y="301.05">0</text>
<text class="t" text-anchor="middle" x="386.54" y="301.05">20,000</text>
<text class="t" text-anchor="middle" x="432.57" y="301.05">40,000</text>
<text class="t" text-anchor="middle" x="478.61" y="301.05">60,000</text>
<text class="t" text-anchor="middle" x="524.65" y="301.05">80,000</text>
<text class="t" text-anchor="end" x="328.5" y="172.5">1000</text>
<text class="t" text-anchor="end" x="328.5" y="195.65">500</text>
<text class="t" text-anchor="end" x="328.5" y="218.8">0</text>
<text class="t" text-anchor="end" x="328.5" y="241.95">−500</text>
<text class="t" text-anchor="end" x="328.5" y="265.1">−1000</text>
<text class="t" text-anchor="end" x="328.5" y="288.25">−1500</text>
<text class="t" text-anchor="middle" x="430.92" y="318.05">Time in s</text>
<text class="t" text-anchor="middle" transform="translate(280.7 225.68) rotate(-90)">Stress in MPa</text>
<text class="s" x="455.6" y="180.5">IP TMF HT1</text>
<text class="s" x="455.6" y="191.3">Standard sft</text>
</g>
<g>
<path class="ln" stroke="#ff0000" stroke-width="3.6" d="M78.18 354.31 L78.22 354.32 L78.27 354.32 L78.32 354.33 L78.37 354.33 L78.42 354.34 L78.48 354.34 L78.54 354.35 L78.6 354.35 L78.67 354.36 L78.73 354.36 L78.8 354.37 L78.88 354.37 L78.95 354.38 L79.03 354.38 L79.11 354.39 L79.19 354.39 L79.28 354.4 L79.37 354.4 L79.46 354.41 L79.55 354.41 L79.65 354.42 L79.74 354.42 L79.85 354.43 L79.95 354.44 L80.06 354.44 L80.16 354.45 L80.28 354.45 L80.39 354.46 L80.51 354.46 L80.63 354.47 L80.75 354.48 L80.87 354.48 L81 354.49 L81.13 354.49 L81.26 354.5 L81.4 354.51 L81.53 354.51 L81.68 354.52 L81.82 354.52 L81.96 354.53 L82.11 354.54 L82.26 354.54 L82.42 354.55 L82.57 354.56 L82.73 354.56 L82.89 354.57 L83.05 354.58 L83.22 354.58 L83.39 354.59 L83.56 354.6 L83.74 354.6 L83.91 354.61 L84.09 354.62 L84.27 354.62 L84.46 354.63 L84.64 354.64 L84.83 354.64 L85.03 354.65 L85.22 354.66 L85.42 354.66 L85.62 354.67 L85.82 354.68 L86.03 354.68 L86.24 354.69 L86.45 354.7 L86.66 354.7 L86.88 354.71 L87.09 354.72 L87.31 354.72 L87.54 354.73 L87.76 354.73 L87.99 354.74 L88.23 354.75 L88.46 354.75 L88.7 354.76 L88.94 354.76 L89.18 354.77 L89.42 354.77 L89.67 354.78 L89.92 354.78 L90.17 354.79 L90.43 354.8 L90.68 354.8 L90.94 354.81 L91.21 354.81 L91.47 354.82 L91.74 354.82 L92.01 354.83 L92.28 354.83 L92.56 354.84 L92.84 354.84 L93.12 354.85 L93.4 354.85 L93.69 354.86 L93.98 354.86 L94.27 354.87 L94.56 354.87 L94.86 354.88 L95.16 354.88 L95.46 354.89 L95.76 354.89 L96.07 354.9 L96.38 354.9 L96.69 354.9 L97.01 354.91 L97.33 354.91 L97.65 354.92 L97.97 354.92 L98.29 354.93 L98.62 354.93 L98.95 354.94 L99.29 354.94 L99.62 354.95 L99.96 354.95 L100.3 354.96 L100.64 354.96 L100.99 354.96 L101.34 354.97 L101.69 354.97 L102.05 354.98 L102.4 354.98 L102.76 354.99 L103.12 354.99 L103.49 355 L103.85 355 L104.22 355.01 L104.6 355.01 L104.97 355.01 L105.35 355.02 L105.73 355.02 L106.11 355.03 L106.5 355.03 L106.88 355.04 L107.28 355.04 L107.67 355.05 L108.06 355.05 L108.46 355.05 L108.86 355.06 L109.27 355.06 L109.67 355.07 L110.08 355.07 L110.49 355.08 L110.91 355.08 L111.32 355.09 L111.74 355.09 L112.16 355.1 L112.59 355.1 L113.02 355.1 L113.45 355.11 L113.88 355.11 L114.31 355.12 L114.75 355.12 L115.19 355.13 L115.63 355.13 L116.08 355.14 L116.53 355.14 L116.98 355.15 L117.43 355.15 L117.89 355.16 L118.34 355.16 L118.8 355.16 L119.27 355.17 L119.73 355.17 L120.2 355.18 L120.67 355.18 L121.15 355.19 L121.62 355.19 L122.1 355.2 L122.59 355.2 L123.07 355.21 L123.56 355.21 L124.05 355.21 L124.54 355.22 L125.03 355.22 L125.53 355.23 L126.03 355.23 L126.53 355.24 L127.04 355.24 L127.55 355.25 L128.06 355.25 L128.57 355.25 L129.09 355.26 L129.6 355.26 L130.13 355.27 L130.65 355.27 L131.17 355.28 L131.7 355.28 L132.23 355.29 L132.77 355.29 L133.31 355.29 L133.84 355.3 L134.39 355.3 L134.93 355.31 L135.48 355.31 L136.03 355.32 L136.58 355.32 L137.13 355.33 L137.69 355.33 L138.25 355.33 L138.81 355.34 L139.38 355.34 L139.95 355.35 L140.52 355.35 L141.09 355.36 L141.67 355.36 L142.24 355.37 L142.83 355.37 L143.41 355.37 L143.99 355.38 L144.58 355.38 L145.17 355.39 L145.77 355.39 L146.36 355.4 L146.96 355.4 L147.57 355.41 L148.17 355.41 L148.78 355.41 L149.39 355.42 L150 355.42"/>
<path class="ln" stroke="#ff0000" stroke-width="3.6" d="M78.18 403.67 L78.22 403.63 L78.27 403.59 L78.32 403.55 L78.37 403.51 L78.42 403.47 L78.48 403.44 L78.54 403.4 L78.6 403.36 L78.67 403.33 L78.73 403.29 L78.8 403.25 L78.88 403.22 L78.95 403.18 L79.03 403.15 L79.11 403.11 L79.19 403.08 L79.28 403.05 L79.37 403.01 L79.46 402.98 L79.55 402.95 L79.65 402.92 L79.74 402.89 L79.85 402.85 L79.95 402.82 L80.06 402.79 L80.16 402.76 L80.28 402.74 L80.39 402.71 L80.51 402.68 L80.63 402.65 L80.75 402.62 L80.87 402.59 L81 402.57 L81.13 402.54 L81.26 402.51 L81.4 402.49 L81.53 402.46 L81.68 402.44 L81.82 402.41 L81.96 402.39 L82.11 402.36 L82.26 402.34 L82.42 402.31 L82.57 402.29 L82.73 402.27 L82.89 402.24 L83.05 402.22 L83.22 402.2 L83.39 402.18 L83.56 402.16 L83.74 402.14 L83.91 402.12 L84.09 402.1 L84.27 402.08 L84.46 402.06 L84.64 402.04 L84.83 402.02 L85.03 402 L85.22 401.98 L85.42 401.97 L85.62 401.95 L85.82 401.93 L86.03 401.91 L86.24 401.9 L86.45 401.88 L86.66 401.86 L86.88 401.85 L87.09 401.83 L87.31 401.81 L87.54 401.8 L87.76 401.78 L87.99 401.76 L88.23 401.75 L88.46 401.73 L88.7 401.71 L88.94 401.7 L89.18 401.68 L89.42 401.66 L89.67 401.65 L89.92 401.63 L90.17 401.61 L90.43 401.59 L90.68 401.58 L90.94 401.56 L91.21 401.54 L91.47 401.52 L91.74 401.51 L92.01 401.49 L92.28 401.47 L92.56 401.45 L92.84 401.43 L93.12 401.42 L93.4 401.4 L93.69 401.38 L93.98 401.36 L94.27 401.35 L94.56 401.33 L94.86 401.31 L95.16 401.3 L95.46 401.28 L95.76 401.26 L96.07 401.25 L96.38 401.23 L96.69 401.21 L97.01 401.2 L97.33 401.18 L97.65 401.17 L97.97 401.15 L98.29 401.14 L98.62 401.12 L98.95 401.11 L99.29 401.09 L99.62 401.08 L99.96 401.07 L100.3 401.05 L100.64 401.04 L100.99 401.03 L101.34 401.02 L101.69 401 L102.05 400.99 L102.4 400.98 L102.76 400.97 L103.12 400.96 L103.49 400.95 L103.85 400.94 L104.22 400.93 L104.6 400.92 L104.97 400.91 L105.35 400.9 L105.73 400.89 L106.11 400.88 L106.5 400.87 L106.88 400.86 L107.28 400.85 L107.67 400.84 L108.06 400.83 L108.46 400.82 L108.86 400.81 L109.27 400.8 L109.67 400.79 L110.08 400.78 L110.49 400.77 L110.91 400.76 L111.32 400.76 L111.74 400.75 L112.16 400.74 L112.59 400.73 L113.02 400.72 L113.45 400.71 L113.88 400.7 L114.31 400.7 L114.75 400.69 L115.19 400.68 L115.63 400.67 L116.08 400.66 L116.53 400.65 L116.98 400.64 L117.43 400.64 L117.89 400.63 L118.34 400.62 L118.8 400.61 L119.27 400.6 L119.73 400.59 L120.2 400.59 L120.67 400.58 L121.15 400.57 L121.62 400.56 L122.1 400.55 L122.59 400.55 L123.07 400.54 L123.56 400.53 L124.05 400.52 L124.54 400.51 L125.03 400.51 L125.53 400.5 L126.03 400.49 L126.53 400.48 L127.04 400.47 L127.55 400.47 L128.06 400.46 L128.57 400.45 L129.09 400.44 L129.6 400.44 L130.13 400.43 L130.65 400.42 L131.17 400.41 L131.7 400.41 L132.23 400.4 L132.77 400.39 L133.31 400.38 L133.84 400.38 L134.39 400.37 L134.93 400.36 L135.48 400.36 L136.03 400.35 L136.58 400.34 L137.13 400.33 L137.69 400.33 L138.25 400.32 L138.81 400.31 L139.38 400.31 L139.95 400.3 L140.52 400.29 L141.09 400.29 L141.67 400.28 L142.24 400.27 L142.83 400.27 L143.41 400.26 L143.99 400.26 L144.58 400.25 L145.17 400.24 L145.77 400.24 L146.36 400.23 L146.96 400.22 L147.57 400.22 L148.17 400.21 L148.78 400.21 L149.39 400.2 L150 400.2"/>
<path fill="#000" stroke="#000" stroke-width="0.3" stroke-linejoin="round" d="M79.63 357.71 L79.53 357.8 L79.32 358.13 L78.95 358.34 L78.64 358.42 L78.32 358.52 L78.34 358.53 L78.3 358.59 L77.95 358.48 L78.03 358.46 L78.48 358.51 L78.64 358.5 L78.62 358.57 L78.75 358.62 L78.57 358.58 L78.46 358.46 L78.84 358.61 L78.99 358.57 L78.96 358.5 L78.98 358.65 L78.96 358.56 L79.03 358.51 L79.08 358.62 L79.27 358.58 L79.34 358.53 L79.11 358.63 L79.26 358.58 L79.45 358.56 L79.38 358.57 L79.54 358.61 L79.76 358.66 L79.79 358.62 L79.74 358.64 L79.83 358.62 L79.99 358.65 L80.05 358.58 L80.11 358.59 L80.23 358.67 L80.32 358.63 L80.31 358.68 L80.39 358.65 L80.56 358.68 L80.72 358.63 L80.77 358.68 L80.86 358.67 L80.98 358.64 L80.99 358.69 L81.12 358.61 L81.26 358.74 L81.28 358.64 L81.31 358.69 L81.34 358.69 L81.58 358.67 L81.77 358.7 L81.84 358.72 L82.06 358.79 L82.13 358.78 L82.1 358.68 L82.19 358.71 L82.45 358.69 L82.6 358.65 L82.67 358.7 L82.83 358.81 L82.93 358.77 L82.93 358.73 L83.06 358.79 L83.25 358.67 L83.35 358.68 L83.45 358.7 L83.65 358.77 L83.73 358.71 L83.7 358.82 L83.83 358.8 L84.04 358.78 L84.17 358.73 L84.33 358.79 L84.54 358.86 L84.68 358.82 L84.81 358.83 L84.99 358.84 L85.17 358.87 L85.29 358.83 L85.44 358.83 L85.65 358.77 L85.8 358.77 L85.92 358.83 L86.07 358.84 L86.1 358.78 L86.21 358.77 L86.42 358.81 L86.57 358.79 L86.75 358.77 L86.89 358.95 L86.99 358.79 L87.16 358.91 L87.29 358.87 L87.5 358.82 L87.75 358.84 L87.9 358.96 L88.09 358.86 L88.24 358.98 L88.41 358.93 L88.65 358.84 L88.75 358.93 L88.89 358.9 L89.15 358.88 L89.22 358.86 L89.4 358.87 L89.66 359.04 L89.84 358.96 L90.04 358.96 L90.15 359.04 L90.34 358.95 L90.62 358.94 L90.75 358.9 L90.94 358.88 L91.16 359.06 L91.3 359.04 L91.49 358.95 L91.72 359.07 L91.91 359.06 L92.15 358.99 L92.37 359.09 L92.63 358.96 L92.82 358.94 L92.91 359.13 L93.18 359.03 L93.44 358.97 L93.52 358.94 L93.75 359.1 L94.05 359.13 L94.23 358.98 L94.35 358.97 L94.6 359.15 L94.95 359.1 L95.1 359.04 L95.19 359.01 L95.43 359.17 L95.71 359.07 L95.96 359.04 L96.12 359.1 L96.33 359.2 L96.6 359.24 L96.78 359.19 L97 359.06 L97.29 359.26 L97.61 359.28 L97.89 359.2 L98.05 359.28 L98.26 359.26 L98.56 359.3 L98.82 359.19 L99.11 359.15 L99.41 359.22 L99.6 359.3 L99.72 359.26 L99.97 359.2 L100.31 359.12 L100.58 359.11 L100.82 359.31 L101.07 359.38 L101.26 359.17 L101.48 359.15 L101.75 359.28 L102.04 359.21 L102.27 359.19 L102.44 359.26 L102.8 359.2 L103.07 359.44 L103.28 359.37 L103.57 359.38 L103.81 359.43 L104.16 359.22 L104.47 359.48 L104.73 359.3 L105.05 359.48 L105.25 359.4 L105.56 359.4 L105.84 359.47 L106.07 359.38 L106.4 359.38 L106.67 359.45 L106.96 359.34 L107.28 359.52 L107.59 359.51 L107.83 359.47 L108.06 359.47 L108.38 359.53 L108.73 359.33 L109.01 359.36 L109.29 359.59 L109.66 359.52 L109.9 359.56 L110.13 359.5 L110.52 359.57 L110.87 359.5 L111.11 359.38 L111.41 359.56 L111.79 359.48 L112.09 359.51 L112.28 359.46 L112.61 359.69 L112.98 359.48 L113.28 359.42 L113.54 359.54 L113.93 359.65 L114.32 359.53 L114.51 359.53 L114.82 359.55 L115.16 359.73 L115.51 359.46 L115.87 359.48 L116.17 359.66 L116.54 359.61 L116.8 359.81 L117.03 359.49 L117.41 359.56 L117.8 359.63 L118.15 359.6 L118.48 359.8 L118.79 359.77 L119.12 359.8 L119.43 359.68 L119.83 359.87 L120.28 359.6 L120.61 359.76 L120.88 359.78 L121.26 359.91 L121.57 359.71 L121.9 359.67 L122.33 359.75 L122.66 359.9 L122.99 359.71 L123.32 359.95 L123.66 359.71 L124.08 359.81 L124.45 359.93 L124.82 359.85 L125.22 359.82 L125.48 359.97 L125.87 359.75 L126.26 359.92 L126.61 359.75 L127.02 359.78 L127.35 360.08 L127.74 359.87 L128.08 360.01 L128.39 359.84 L128.86 359.94 L129.21 359.98 L129.61 359.82 L130.02 360.16 L130.4 359.97 L130.81 360.07 L131.12 360.2 L131.58 359.92 L131.97 360.01 L132.26 359.87 L132.75 360.01 L133.13 360.13 L133.45 359.86 L133.88 360.24 L134.27 360.28 L134.72 360 L135.11 360.16 L135.48 360.17 L135.91 359.96 L136.26 360.21 L136.71 359.97 L137.17 360.09 L137.46 360.23 L137.86 360.36 L138.34 360.29 L138.71 359.98 L139.16 360.24 L139.62 360.36 L140.06 360.31 L140.44 360.04 L140.77 360.38 L141.29 360.12 L141.75 360.42 L142.09 360.05 L142.54 360.26 L142.92 360.49 L143.32 360.09 L143.74 360.36 L144.14 360.19 L144.64 360.31 L145.03 360.52 L145.52 360.53 L145.97 360.52 L146.36 360.52 L146.85 360.58 L147.3 360.6 L147.8 360.17 L148.33 360.59 L148.88 360.38 L149.42 360.57 L149.88 360.53 L150.41 360.24 L149.58 357.57 L149.22 357.8 L148.78 357.83 L148.44 357.61 L148.1 357.79 L147.74 357.35 L147.35 357.78 L146.92 357.76 L146.54 357.7 L146.05 357.69 L145.64 357.7 L145.25 357.69 L144.78 357.47 L144.41 357.37 L143.96 357.53 L143.52 357.25 L143.05 357.65 L142.58 357.41 L142.18 357.2 L141.68 357.56 L141.29 357.26 L140.98 357.53 L140.46 357.18 L140 357.44 L139.61 357.49 L139.24 357.37 L138.87 357.1 L138.42 357.41 L138.07 357.48 L137.65 357.35 L137.13 357.2 L136.77 357.08 L136.42 357.32 L135.95 357.06 L135.58 357.27 L135.15 357.26 L134.74 357.09 L134.39 357.37 L133.99 357.33 L133.63 356.95 L133.16 357.21 L132.76 357.09 L132.46 356.96 L131.97 357.08 L131.59 356.99 L131.27 357.28 L130.81 357.14 L130.45 357.04 L130.06 357.23 L129.72 356.88 L129.36 357.04 L128.95 357 L128.66 356.91 L128.22 357.06 L127.81 356.92 L127.45 357.12 L127.04 356.82 L126.71 356.79 L126.32 356.96 L125.98 356.79 L125.64 357 L125.17 356.85 L124.84 356.88 L124.49 356.95 L124.13 356.83 L123.84 356.73 L123.46 356.97 L123.08 356.72 L122.7 356.91 L122.33 356.75 L122.05 356.68 L121.67 356.71 L121.29 356.91 L120.97 356.78 L120.55 356.76 L120.19 356.59 L119.95 356.87 L119.66 356.68 L119.3 356.79 L118.95 356.76 L118.58 356.79 L118.23 356.58 L117.92 356.61 L117.64 356.54 L117.36 356.48 L116.92 356.78 L116.52 356.58 L116.24 356.63 L115.88 356.44 L115.59 356.43 L115.29 356.69 L114.99 356.51 L114.65 356.48 L114.21 356.49 L113.96 356.6 L113.72 356.49 L113.34 356.37 L113.01 356.42 L112.75 356.63 L112.46 356.4 L112.04 356.44 L111.71 356.42 L111.48 356.49 L111.17 356.31 L110.8 356.43 L110.55 356.49 L110.33 356.43 L109.96 356.49 L109.6 356.44 L109.37 356.51 L109.07 356.28 L108.76 356.24 L108.52 356.45 L108.25 356.39 L107.9 356.38 L107.56 356.42 L107.3 356.42 L107.05 356.24 L106.77 356.36 L106.47 356.28 L106.23 356.28 L105.9 356.37 L105.63 356.29 L105.38 356.3 L105.03 356.37 L104.8 356.19 L104.51 356.36 L104.27 356.11 L104.08 356.32 L103.79 356.27 L103.54 356.26 L103.21 356.31 L102.95 356.08 L102.78 356.15 L102.42 356.06 L102.13 356.08 L101.91 356.15 L101.65 356.02 L101.36 356.04 L101.04 356.24 L100.78 356.17 L100.52 355.97 L100.29 355.97 L100.13 356.06 L99.88 356.12 L99.51 356.16 L99.2 356.08 L99.01 356 L98.82 356.03 L98.59 356.15 L98.41 356.11 L98.14 356.12 L97.83 356.04 L97.65 356.12 L97.49 356.1 L97.31 355.91 L97.07 356.03 L96.79 356.08 L96.61 356.04 L96.35 355.94 L96.07 355.87 L95.87 355.9 L95.7 356.01 L95.49 355.84 L95.14 355.86 L94.86 355.92 L94.77 355.97 L94.59 355.8 L94.28 355.79 L94.03 355.95 L93.9 355.92 L93.72 355.75 L93.38 355.78 L93.22 355.83 L93.08 355.94 L92.75 355.75 L92.54 355.76 L92.39 355.89 L92.21 355.79 L92.05 355.86 L91.84 355.87 L91.68 355.75 L91.48 355.84 L91.23 355.85 L91.07 355.67 L90.87 355.69 L90.63 355.73 L90.53 355.74 L90.35 355.83 L90.09 355.74 L89.92 355.74 L89.73 355.82 L89.63 355.66 L89.45 355.65 L89.16 355.65 L89.06 355.68 L88.86 355.7 L88.6 355.62 L88.5 355.71 L88.33 355.76 L88.13 355.63 L87.98 355.73 L87.8 355.61 L87.72 355.59 L87.6 355.65 L87.4 355.68 L87.25 355.56 L87.02 355.71 L86.85 355.53 L86.72 355.56 L86.56 355.58 L86.45 355.53 L86.26 355.55 L85.98 355.6 L85.83 355.58 L85.65 355.53 L85.51 355.52 L85.42 355.58 L85.28 355.58 L85.11 355.62 L85.01 355.59 L84.91 355.58 L84.76 355.57 L84.62 355.61 L84.56 355.54 L84.45 355.49 L84.31 355.54 L84.26 355.57 L84.13 355.59 L83.83 355.45 L83.66 355.51 L83.6 355.44 L83.45 355.42 L83.31 355.41 L83.25 355.53 L83.13 355.47 L82.9 355.51 L82.76 355.55 L82.69 355.43 L82.53 355.38 L82.44 355.42 L82.48 355.45 L82.35 355.42 L82.09 355.51 L81.95 355.52 L81.95 355.45 L81.81 355.42 L81.8 355.41 L81.83 355.45 L81.66 355.44 L81.49 355.37 L81.3 355.46 L81.25 355.34 L81.19 355.41 L81.01 355.36 L80.94 355.4 L80.85 355.41 L80.72 355.35 L80.7 355.4 L80.69 355.38 L80.6 355.41 L80.42 355.35 L80.34 355.39 L80.3 355.31 L80.2 355.3 L80.1 355.37 L80.1 355.35 L80.04 355.36 L79.84 355.33 L79.72 355.37 L79.8 355.33 L79.81 355.31 L79.61 355.28 L79.66 355.32 L79.68 355.39 L79.32 355.24 L79.26 355.29 L79.33 355.34 L79.25 355.22 L79.21 355.27 L79.07 355.36 L78.97 355.21 L78.84 355.28 L78.87 355.31 L79.15 355.24 L78.93 355.3 L78.65 355.33 L78.69 355.27 L78.57 355.2 L78.64 355.22 L79 355.32 L79 355.36 L78.57 355.31 L78.45 355.23 L78.39 355.22 L77.99 355.18 L77.61 355.33 L77.17 355.62 L76.89 355.83 L76.73 356.14Z"/>
<circle cx="78.18" cy="356.92" r="1.65" fill="#000"/>
<circle cx="150" cy="358.9" r="1.4" fill="#000"/>
<path fill="#000" stroke="#000" stroke-width="0.3" stroke-linejoin="round" d="M79.16 409.65 L79.18 409.62 L79.2 409.6 L79.22 409.57 L79.25 409.55 L79.27 409.53 L79.29 409.51 L79.31 409.49 L79.34 409.47 L79.37 409.45 L79.4 409.42 L79.43 409.4 L79.46 409.37 L79.5 409.35 L79.54 409.32 L79.57 409.29 L79.61 409.26 L79.66 409.23 L79.7 409.21 L79.75 409.18 L79.79 409.15 L79.84 409.12 L79.89 409.09 L79.95 409.05 L80 409.02 L80.06 408.99 L80.11 408.96 L80.17 408.93 L80.24 408.89 L80.3 408.86 L80.37 408.82 L80.44 408.79 L80.51 408.75 L80.59 408.71 L80.66 408.67 L80.74 408.63 L80.82 408.59 L80.9 408.55 L80.98 408.51 L81.06 408.47 L81.14 408.43 L81.22 408.39 L81.3 408.35 L81.38 408.31 L81.47 408.27 L81.55 408.23 L81.64 408.19 L81.72 408.15 L81.81 408.12 L81.89 408.08 L81.98 408.05 L82.07 408.01 L82.15 407.98 L82.24 407.95 L82.33 407.91 L82.42 407.88 L82.51 407.86 L82.61 407.83 L82.7 407.8 L82.8 407.77 L82.9 407.75 L83 407.72 L83.11 407.7 L83.21 407.67 L83.33 407.65 L83.44 407.62 L83.56 407.6 L83.67 407.57 L83.79 407.55 L83.91 407.53 L84.03 407.5 L84.16 407.48 L84.28 407.46 L84.41 407.43 L84.54 407.41 L84.67 407.39 L84.8 407.37 L84.93 407.34 L85.07 407.32 L85.2 407.3 L85.34 407.28 L85.48 407.26 L85.62 407.24 L85.77 407.22 L85.91 407.2 L86.05 407.18 L86.2 407.16 L86.35 407.14 L86.5 407.12 L86.65 407.1 L86.8 407.08 L86.96 407.06 L87.12 407.04 L87.27 407.03 L87.43 407.01 L87.59 406.99 L87.75 406.97 L87.92 406.95 L88.08 406.94 L88.25 406.92 L88.42 406.9 L88.59 406.88 L88.76 406.87 L88.93 406.85 L89.11 406.83 L89.28 406.82 L89.46 406.8 L89.64 406.78 L89.82 406.77 L90 406.75 L90.18 406.73 L90.36 406.72 L90.55 406.7 L90.73 406.69 L90.92 406.67 L91.11 406.65 L91.3 406.64 L91.5 406.62 L91.69 406.61 L91.88 406.59 L92.08 406.58 L92.28 406.56 L92.48 406.55 L92.68 406.53 L92.88 406.52 L93.09 406.5 L93.29 406.49 L93.5 406.48 L93.71 406.46 L93.92 406.45 L94.13 406.43 L94.34 406.42 L94.55 406.41 L94.77 406.39 L94.98 406.38 L95.2 406.37 L95.42 406.35 L95.64 406.34 L95.87 406.33 L96.09 406.31 L96.31 406.3 L96.54 406.29 L96.77 406.27 L97 406.26 L97.23 406.25 L97.46 406.24 L97.7 406.22 L97.93 406.21 L98.17 406.2 L98.4 406.19 L98.64 406.18 L98.88 406.16 L99.13 406.15 L99.37 406.14 L99.62 406.13 L99.86 406.12 L100.11 406.11 L100.36 406.09 L100.61 406.08 L100.86 406.07 L101.12 406.06 L101.37 406.05 L101.63 406.04 L101.89 406.03 L102.15 406.01 L102.41 406 L102.67 405.99 L102.94 405.98 L103.2 405.97 L103.47 405.95 L103.74 405.94 L104.01 405.93 L104.28 405.91 L104.55 405.9 L104.82 405.89 L105.1 405.88 L105.37 405.86 L105.65 405.85 L105.93 405.84 L106.21 405.83 L106.49 405.82 L106.77 405.8 L107.05 405.79 L107.34 405.78 L107.63 405.77 L107.91 405.76 L108.2 405.75 L108.49 405.74 L108.78 405.73 L109.08 405.72 L109.37 405.71 L109.67 405.7 L109.96 405.7 L110.26 405.69 L110.56 405.68 L110.86 405.67 L111.16 405.67 L111.47 405.66 L111.77 405.66 L112.08 405.65 L112.39 405.65 L112.69 405.65 L113 405.64 L113.32 405.64 L113.63 405.64 L113.94 405.64 L114.26 405.64 L114.58 405.64 L114.9 405.64 L115.22 405.64 L115.54 405.65 L115.86 405.65 L116.19 405.65 L116.52 405.65 L116.85 405.66 L117.18 405.66 L117.51 405.66 L117.84 405.67 L118.17 405.67 L118.51 405.68 L118.85 405.68 L119.18 405.69 L119.52 405.69 L119.87 405.7 L120.21 405.71 L120.55 405.71 L120.9 405.72 L121.25 405.73 L121.59 405.73 L121.94 405.74 L122.3 405.75 L122.65 405.76 L123 405.77 L123.36 405.77 L123.72 405.78 L124.07 405.79 L124.43 405.8 L124.8 405.81 L125.16 405.82 L125.52 405.83 L125.89 405.84 L126.26 405.85 L126.62 405.86 L126.99 405.87 L127.37 405.88 L127.74 405.89 L128.11 405.9 L128.49 405.91 L128.86 405.92 L129.24 405.93 L129.61 405.94 L129.99 405.95 L130.37 405.97 L130.75 405.99 L131.14 406 L131.52 406.02 L131.91 406.04 L132.29 406.06 L132.68 406.08 L133.07 406.1 L133.47 406.12 L133.86 406.14 L134.26 406.16 L134.65 406.19 L135.05 406.21 L135.45 406.23 L135.86 406.26 L136.26 406.28 L136.66 406.3 L137.07 406.33 L137.48 406.35 L137.89 406.38 L138.3 406.4 L138.71 406.43 L139.13 406.45 L139.54 406.47 L139.96 406.5 L140.38 406.52 L140.8 406.54 L141.22 406.57 L141.64 406.59 L142.06 406.62 L142.49 406.64 L142.91 406.66 L143.34 406.69 L143.77 406.72 L144.2 406.74 L144.63 406.77 L145.06 406.79 L145.5 406.82 L145.93 406.85 L146.37 406.87 L146.81 406.9 L147.25 406.93 L147.69 406.95 L148.13 406.98 L148.57 407.01 L149.02 407.04 L149.47 407.07 L149.92 407.09 L150.08 404.5 L149.63 404.47 L149.19 404.44 L148.74 404.41 L148.29 404.38 L147.85 404.36 L147.41 404.33 L146.97 404.3 L146.53 404.27 L146.09 404.25 L145.66 404.22 L145.22 404.19 L144.79 404.16 L144.35 404.14 L143.92 404.11 L143.49 404.09 L143.07 404.06 L142.64 404.03 L142.21 404.01 L141.79 403.98 L141.37 403.96 L140.95 403.93 L140.53 403.91 L140.11 403.89 L139.69 403.86 L139.28 403.84 L138.87 403.81 L138.45 403.79 L138.04 403.77 L137.63 403.74 L137.23 403.72 L136.82 403.69 L136.41 403.67 L136.01 403.64 L135.61 403.62 L135.21 403.59 L134.81 403.57 L134.41 403.55 L134.01 403.52 L133.61 403.5 L133.22 403.48 L132.82 403.46 L132.43 403.44 L132.04 403.42 L131.64 403.4 L131.26 403.38 L130.87 403.36 L130.48 403.34 L130.09 403.33 L129.71 403.31 L129.33 403.3 L128.94 403.29 L128.57 403.28 L128.19 403.27 L127.81 403.26 L127.44 403.25 L127.07 403.24 L126.7 403.23 L126.33 403.22 L125.96 403.21 L125.59 403.2 L125.23 403.19 L124.86 403.18 L124.5 403.17 L124.14 403.16 L123.78 403.15 L123.42 403.14 L123.07 403.13 L122.71 403.12 L122.36 403.11 L122 403.1 L121.65 403.1 L121.3 403.09 L120.95 403.08 L120.61 403.07 L120.26 403.07 L119.92 403.06 L119.57 403.05 L119.23 403.05 L118.89 403.04 L118.55 403.03 L118.21 403.03 L117.88 403.02 L117.54 403.02 L117.21 403.01 L116.87 403.01 L116.54 403.01 L116.21 403 L115.89 403 L115.56 403 L115.23 403 L114.91 402.99 L114.59 402.99 L114.26 402.99 L113.94 402.99 L113.62 402.99 L113.3 402.99 L112.99 402.99 L112.67 402.99 L112.36 403 L112.04 403 L111.73 403.01 L111.42 403.01 L111.12 403.01 L110.81 403.02 L110.5 403.03 L110.2 403.03 L109.9 403.04 L109.59 403.05 L109.3 403.06 L109 403.07 L108.7 403.07 L108.41 403.08 L108.11 403.09 L107.82 403.1 L107.53 403.11 L107.24 403.12 L106.95 403.14 L106.67 403.15 L106.38 403.16 L106.1 403.17 L105.82 403.18 L105.53 403.19 L105.26 403.21 L104.98 403.22 L104.7 403.23 L104.43 403.24 L104.16 403.25 L103.88 403.27 L103.61 403.28 L103.35 403.29 L103.08 403.3 L102.81 403.32 L102.55 403.33 L102.29 403.34 L102.03 403.35 L101.77 403.36 L101.51 403.37 L101.25 403.38 L101 403.4 L100.74 403.41 L100.49 403.42 L100.24 403.43 L99.99 403.44 L99.74 403.45 L99.49 403.46 L99.24 403.47 L99 403.48 L98.76 403.5 L98.51 403.51 L98.27 403.52 L98.03 403.53 L97.79 403.54 L97.56 403.56 L97.32 403.57 L97.09 403.58 L96.85 403.59 L96.62 403.6 L96.39 403.62 L96.16 403.63 L95.94 403.64 L95.71 403.66 L95.49 403.67 L95.26 403.68 L95.04 403.69 L94.82 403.71 L94.6 403.72 L94.38 403.73 L94.17 403.75 L93.95 403.76 L93.74 403.78 L93.53 403.79 L93.32 403.8 L93.11 403.82 L92.9 403.83 L92.69 403.85 L92.49 403.86 L92.28 403.88 L92.08 403.89 L91.88 403.91 L91.68 403.92 L91.48 403.94 L91.29 403.95 L91.09 403.97 L90.9 403.98 L90.7 404 L90.51 404.01 L90.32 404.03 L90.13 404.05 L89.94 404.06 L89.76 404.08 L89.57 404.09 L89.39 404.11 L89.21 404.13 L89.03 404.14 L88.85 404.16 L88.67 404.18 L88.49 404.2 L88.32 404.21 L88.15 404.23 L87.97 404.25 L87.8 404.27 L87.63 404.28 L87.46 404.3 L87.3 404.32 L87.13 404.34 L86.97 404.36 L86.8 404.38 L86.64 404.39 L86.48 404.41 L86.32 404.43 L86.16 404.45 L86.01 404.47 L85.85 404.49 L85.7 404.51 L85.54 404.53 L85.39 404.56 L85.24 404.58 L85.09 404.6 L84.94 404.62 L84.8 404.64 L84.65 404.66 L84.51 404.69 L84.36 404.71 L84.22 404.73 L84.08 404.76 L83.94 404.78 L83.8 404.81 L83.67 404.83 L83.53 404.86 L83.4 404.88 L83.26 404.91 L83.13 404.94 L83 404.96 L82.87 404.99 L82.74 405.02 L82.61 405.05 L82.48 405.08 L82.36 405.11 L82.23 405.14 L82.1 405.17 L81.97 405.21 L81.84 405.24 L81.72 405.28 L81.59 405.32 L81.46 405.36 L81.34 405.41 L81.22 405.45 L81.1 405.49 L80.99 405.54 L80.87 405.59 L80.76 405.63 L80.65 405.68 L80.54 405.73 L80.44 405.77 L80.34 405.82 L80.24 405.87 L80.14 405.92 L80.04 405.96 L79.95 406.01 L79.85 406.06 L79.76 406.1 L79.68 406.15 L79.59 406.19 L79.51 406.23 L79.43 406.27 L79.35 406.31 L79.27 406.35 L79.19 406.39 L79.11 406.43 L79.04 406.47 L78.96 406.52 L78.88 406.56 L78.81 406.6 L78.73 406.64 L78.66 406.68 L78.58 406.73 L78.51 406.77 L78.44 406.81 L78.37 406.86 L78.3 406.9 L78.23 406.94 L78.16 406.99 L78.1 407.03 L78.03 407.08 L77.97 407.12 L77.91 407.17 L77.84 407.21 L77.78 407.26 L77.72 407.3 L77.66 407.35 L77.61 407.4 L77.55 407.45 L77.49 407.5 L77.44 407.55 L77.39 407.6 L77.33 407.65 L77.29 407.69 L77.24 407.74 L77.2 407.78Z"/>
<circle cx="78.18" cy="408.71" r="1.35" fill="#000"/>
<circle cx="150" cy="405.8" r="1.3" fill="#000"/>
<rect class="ax" x="74.65" y="323.8" width="187.45" height="115.75"/>
<path class="ax" d="M77.95 439.55v4.1M123.99 439.55v4.1M170.03 439.55v4.1M216.06 439.55v4.1M262.1 439.55v4.1M74.65 323.8h-4.1M74.65 346.95h-4.1M74.65 370.1h-4.1M74.65 393.25h-4.1M74.65 416.4h-4.1M74.65 439.55h-4.1"/>
<text class="t" text-anchor="middle" x="77.95" y="457.05">0</text>
<text class="t" text-anchor="middle" x="123.99" y="457.05">20,000</text>
<text class="t" text-anchor="middle" x="170.03" y="457.05">40,000</text>
<text class="t" text-anchor="middle" x="216.06" y="457.05">60,000</text>
<text class="t" text-anchor="middle" x="262.1" y="457.05">80,000</text>
<text class="t" text-anchor="end" x="65.95" y="328.5">1000</text>
<text class="t" text-anchor="end" x="65.95" y="351.65">500</text>
<text class="t" text-anchor="end" x="65.95" y="374.8">0</text>
<text class="t" text-anchor="end" x="65.95" y="397.95">−500</text>
<text class="t" text-anchor="end" x="65.95" y="421.1">−1000</text>
<text class="t" text-anchor="end" x="65.95" y="444.25">−1500</text>
<text class="t" text-anchor="middle" x="168.38" y="474.05">Time in s</text>
<text class="t" text-anchor="middle" transform="translate(18.15 381.68) rotate(-90)">Stress in MPa</text>
<text class="s" x="193.05" y="336.5">IP TMF HT2</text>
<text class="s" x="193.05" y="347.3">New sft</text>
</g>
<g>
<path class="ln" stroke="#ff0000" stroke-width="3.6" d="M340.73 354.36 L340.77 354.37 L340.82 354.38 L340.87 354.39 L340.92 354.4 L340.97 354.41 L341.03 354.43 L341.09 354.44 L341.15 354.45 L341.22 354.46 L341.28 354.48 L341.35 354.49 L341.43 354.5 L341.5 354.52 L341.58 354.53 L341.66 354.54 L341.74 354.56 L341.83 354.57 L341.92 354.59 L342.01 354.6 L342.1 354.62 L342.2 354.63 L342.29 354.65 L342.4 354.67 L342.5 354.68 L342.61 354.7 L342.71 354.72 L342.83 354.73 L342.94 354.75 L343.06 354.77 L343.18 354.79 L343.3 354.8 L343.42 354.82 L343.55 354.84 L343.68 354.86 L343.81 354.88 L343.95 354.9 L344.08 354.93 L344.23 354.95 L344.37 354.97 L344.51 354.99 L344.66 355.01 L344.81 355.04 L344.97 355.06 L345.12 355.08 L345.28 355.1 L345.44 355.13 L345.6 355.15 L345.77 355.17 L345.94 355.19 L346.11 355.22 L346.29 355.24 L346.46 355.26 L346.64 355.29 L346.82 355.31 L347.01 355.33 L347.19 355.35 L347.38 355.37 L347.58 355.4 L347.77 355.42 L347.97 355.44 L348.17 355.46 L348.37 355.49 L348.58 355.51 L348.79 355.53 L349 355.55 L349.21 355.58 L349.43 355.6 L349.64 355.62 L349.86 355.65 L350.09 355.67 L350.31 355.7 L350.54 355.72 L350.78 355.74 L351.01 355.77 L351.25 355.79 L351.49 355.81 L351.73 355.84 L351.97 355.86 L352.22 355.88 L352.47 355.9 L352.72 355.93 L352.98 355.95 L353.23 355.97 L353.49 355.99 L353.76 356.01 L354.02 356.03 L354.29 356.06 L354.56 356.08 L354.83 356.1 L355.11 356.11 L355.39 356.13 L355.67 356.15 L355.95 356.17 L356.24 356.19 L356.53 356.21 L356.82 356.22 L357.11 356.24 L357.41 356.25 L357.71 356.27 L358.01 356.29 L358.31 356.3 L358.62 356.32 L358.93 356.33 L359.24 356.35 L359.56 356.36 L359.88 356.38 L360.2 356.39 L360.52 356.41 L360.84 356.42 L361.17 356.43 L361.5 356.45 L361.84 356.46 L362.17 356.47 L362.51 356.49 L362.85 356.5 L363.19 356.51 L363.54 356.53 L363.89 356.54 L364.24 356.55 L364.6 356.56 L364.95 356.58 L365.31 356.59 L365.67 356.6 L366.04 356.61 L366.4 356.62 L366.77 356.63 L367.15 356.64 L367.52 356.66 L367.9 356.67 L368.28 356.68 L368.66 356.69 L369.05 356.7 L369.43 356.71 L369.83 356.72 L370.22 356.73 L370.61 356.74 L371.01 356.75 L371.41 356.76 L371.82 356.77 L372.22 356.78 L372.63 356.79 L373.04 356.79 L373.46 356.8 L373.87 356.81 L374.29 356.82 L374.71 356.83 L375.14 356.84 L375.57 356.85 L376 356.86 L376.43 356.86 L376.86 356.87 L377.3 356.88 L377.74 356.89 L378.18 356.9 L378.63 356.91 L379.08 356.91 L379.53 356.92 L379.98 356.93 L380.44 356.94 L380.89 356.95 L381.35 356.95 L381.82 356.96 L382.28 356.97 L382.75 356.98 L383.22 356.99 L383.7 357 L384.17 357 L384.65 357.01 L385.14 357.02 L385.62 357.03 L386.11 357.04 L386.6 357.04 L387.09 357.05 L387.58 357.06 L388.08 357.07 L388.58 357.08 L389.08 357.09 L389.59 357.09 L390.1 357.1 L390.61 357.11 L391.12 357.12 L391.64 357.13 L392.15 357.13 L392.68 357.14 L393.2 357.15 L393.72 357.16 L394.25 357.17 L394.78 357.17 L395.32 357.18 L395.86 357.19 L396.39 357.2 L396.94 357.21 L397.48 357.21 L398.03 357.22 L398.58 357.23 L399.13 357.24 L399.68 357.25 L400.24 357.25 L400.8 357.26 L401.36 357.27 L401.93 357.28 L402.5 357.29 L403.07 357.29 L403.64 357.3 L404.22 357.31 L404.79 357.32 L405.38 357.32 L405.96 357.33 L406.54 357.34 L407.13 357.35 L407.72 357.35 L408.32 357.36 L408.91 357.37 L409.51 357.38 L410.12 357.38 L410.72 357.39 L411.33 357.4 L411.94 357.41 L412.55 357.41"/>
<path class="ln" stroke="#ff0000" stroke-width="3.6" d="M340.73 403.57 L340.77 403.55 L340.82 403.53 L340.87 403.51 L340.92 403.49 L340.97 403.47 L341.03 403.45 L341.09 403.43 L341.15 403.41 L341.22 403.39 L341.28 403.37 L341.35 403.35 L341.43 403.33 L341.5 403.31 L341.58 403.29 L341.66 403.27 L341.74 403.25 L341.83 403.23 L341.92 403.21 L342.01 403.2 L342.1 403.18 L342.2 403.16 L342.29 403.14 L342.4 403.13 L342.5 403.11 L342.61 403.09 L342.71 403.08 L342.83 403.06 L342.94 403.05 L343.06 403.03 L343.18 403.02 L343.3 403 L343.42 402.99 L343.55 402.97 L343.68 402.96 L343.81 402.94 L343.95 402.93 L344.08 402.91 L344.23 402.9 L344.37 402.89 L344.51 402.87 L344.66 402.86 L344.81 402.85 L344.97 402.83 L345.12 402.82 L345.28 402.81 L345.44 402.8 L345.6 402.78 L345.77 402.77 L345.94 402.76 L346.11 402.75 L346.29 402.74 L346.46 402.73 L346.64 402.72 L346.82 402.71 L347.01 402.7 L347.19 402.69 L347.38 402.68 L347.58 402.67 L347.77 402.66 L347.97 402.65 L348.17 402.64 L348.37 402.63 L348.58 402.62 L348.79 402.61 L349 402.61 L349.21 402.6 L349.43 402.59 L349.64 402.58 L349.86 402.57 L350.09 402.56 L350.31 402.56 L350.54 402.55 L350.78 402.54 L351.01 402.53 L351.25 402.53 L351.49 402.52 L351.73 402.51 L351.97 402.5 L352.22 402.5 L352.47 402.49 L352.72 402.48 L352.98 402.48 L353.23 402.47 L353.49 402.46 L353.76 402.46 L354.02 402.45 L354.29 402.44 L354.56 402.44 L354.83 402.43 L355.11 402.42 L355.39 402.42 L355.67 402.41 L355.95 402.4 L356.24 402.4 L356.53 402.39 L356.82 402.38 L357.11 402.38 L357.41 402.37 L357.71 402.37 L358.01 402.36 L358.31 402.35 L358.62 402.35 L358.93 402.34 L359.24 402.34 L359.56 402.33 L359.88 402.33 L360.2 402.32 L360.52 402.32 L360.84 402.31 L361.17 402.31 L361.5 402.3 L361.84 402.3 L362.17 402.29 L362.51 402.29 L362.85 402.29 L363.19 402.28 L363.54 402.28 L363.89 402.27 L364.24 402.27 L364.6 402.27 L364.95 402.26 L365.31 402.26 L365.67 402.26 L366.04 402.25 L366.4 402.25 L366.77 402.24 L367.15 402.24 L367.52 402.24 L367.9 402.23 L368.28 402.23 L368.66 402.23 L369.05 402.22 L369.43 402.22 L369.83 402.21 L370.22 402.21 L370.61 402.21 L371.01 402.21 L371.41 402.2 L371.82 402.2 L372.22 402.2 L372.63 402.2 L373.04 402.19 L373.46 402.19 L373.87 402.19 L374.29 402.19 L374.71 402.19 L375.14 402.19 L375.57 402.19 L376 402.19 L376.43 402.19 L376.86 402.19 L377.3 402.19 L377.74 402.19 L378.18 402.19 L378.63 402.19 L379.08 402.19 L379.53 402.19 L379.98 402.19 L380.44 402.19 L380.89 402.19 L381.35 402.19 L381.82 402.19 L382.28 402.19 L382.75 402.19 L383.22 402.19 L383.7 402.19 L384.17 402.19 L384.65 402.19 L385.14 402.2 L385.62 402.2 L386.11 402.2 L386.6 402.2 L387.09 402.2 L387.58 402.2 L388.08 402.2 L388.58 402.21 L389.08 402.21 L389.59 402.21 L390.1 402.21 L390.61 402.21 L391.12 402.22 L391.64 402.22 L392.15 402.22 L392.68 402.22 L393.2 402.22 L393.72 402.23 L394.25 402.23 L394.78 402.23 L395.32 402.24 L395.86 402.24 L396.39 402.24 L396.94 402.24 L397.48 402.25 L398.03 402.25 L398.58 402.25 L399.13 402.26 L399.68 402.26 L400.24 402.27 L400.8 402.27 L401.36 402.27 L401.93 402.28 L402.5 402.28 L403.07 402.29 L403.64 402.29 L404.22 402.29 L404.79 402.3 L405.38 402.3 L405.96 402.31 L406.54 402.31 L407.13 402.32 L407.72 402.32 L408.32 402.33 L408.91 402.34 L409.51 402.34 L410.12 402.35 L410.72 402.35 L411.33 402.36 L411.94 402.36 L412.55 402.37"/>
<path fill="#000" stroke="#000" stroke-width="0.3" stroke-linejoin="round" d="M341.52 358.3 L341.45 358.32 L341.06 358.44 L340.9 358.59 L340.7 358.54 L340.66 358.44 L340.62 358.5 L340.84 358.55 L340.95 358.53 L340.75 358.55 L340.8 358.47 L341.12 358.57 L341.21 358.54 L341.23 358.63 L341.32 358.53 L341.37 358.6 L341.32 358.49 L341.31 358.58 L341.43 358.53 L341.53 358.53 L341.47 358.51 L341.51 358.63 L341.7 358.62 L341.56 358.57 L341.54 358.53 L341.9 358.63 L342.03 358.57 L342 358.58 L341.99 358.65 L342.1 358.63 L342.31 358.55 L342.24 358.68 L342.46 358.58 L342.61 358.69 L342.41 358.58 L342.51 358.59 L342.72 358.65 L342.8 358.56 L342.77 358.65 L342.74 358.68 L343.04 358.68 L343.09 358.62 L343.08 358.67 L343.38 358.74 L343.56 358.69 L343.48 358.59 L343.46 358.7 L343.65 358.68 L343.76 358.64 L343.85 358.61 L343.96 358.74 L344.01 358.74 L344.09 358.75 L344.17 358.74 L344.39 358.62 L344.63 358.75 L344.73 358.78 L344.77 358.72 L344.75 358.72 L344.86 358.68 L345.04 358.71 L345.17 358.71 L345.27 358.8 L345.4 358.73 L345.45 358.81 L345.53 358.8 L345.73 358.76 L345.89 358.77 L346.07 358.72 L346.27 358.84 L346.31 358.81 L346.37 358.83 L346.5 358.77 L346.64 358.76 L346.84 358.76 L346.98 358.84 L347.03 358.8 L347.21 358.8 L347.33 358.88 L347.49 358.79 L347.71 358.86 L347.75 358.9 L347.93 358.73 L348.11 358.9 L348.24 358.78 L348.51 358.83 L348.63 358.91 L348.75 358.83 L348.85 358.86 L348.94 358.84 L349.21 358.77 L349.38 358.76 L349.43 358.83 L349.59 358.89 L349.8 358.88 L349.87 358.82 L350 358.85 L350.22 358.96 L350.45 358.86 L350.6 358.8 L350.68 358.94 L350.91 358.92 L351.09 358.99 L351.16 358.84 L351.43 358.96 L351.75 358.99 L351.97 358.99 L352.05 358.98 L352.16 359.04 L352.45 358.89 L352.67 358.87 L352.79 358.86 L352.97 359 L353.18 358.97 L353.32 358.92 L353.41 358.94 L353.6 359.02 L353.92 359.01 L354.09 358.9 L354.21 358.94 L354.44 359.09 L354.69 359.07 L354.87 358.93 L355.01 359.03 L355.3 359.09 L355.58 359.06 L355.68 359.05 L355.84 358.98 L356.09 359.13 L356.39 358.97 L356.6 359.09 L356.7 359.07 L356.95 359.16 L357.2 359.13 L357.43 358.98 L357.66 359.1 L357.92 359.18 L358.13 359.09 L358.24 359.08 L358.47 359.03 L358.74 359.14 L358.98 359.02 L359.15 359.2 L359.34 359.13 L359.63 359.17 L359.88 359.21 L360.12 359.13 L360.34 359.27 L360.55 359.17 L360.89 359.19 L361.13 359.13 L361.39 359.24 L361.68 359.27 L361.84 359.28 L362.02 359.09 L362.31 359.23 L362.65 359.11 L362.92 359.13 L363.06 359.25 L363.26 359.27 L363.5 359.21 L363.73 359.14 L364.01 359.18 L364.31 359.28 L364.55 359.28 L364.77 359.35 L365.06 359.26 L365.39 359.42 L365.67 359.29 L365.95 359.43 L366.21 359.32 L366.46 359.3 L366.71 359.26 L367 359.34 L367.28 359.31 L367.53 359.35 L367.78 359.43 L368.1 359.43 L368.41 359.4 L368.65 359.42 L369 359.38 L369.28 359.43 L369.5 359.28 L369.8 359.39 L370.1 359.43 L370.4 359.29 L370.65 359.52 L370.92 359.46 L371.21 359.47 L371.45 359.38 L371.77 359.44 L372.13 359.42 L372.4 359.51 L372.71 359.58 L373 359.6 L373.24 359.57 L373.57 359.54 L373.93 359.65 L374.27 359.43 L374.56 359.67 L374.86 359.69 L375.24 359.65 L375.49 359.65 L375.81 359.64 L376.19 359.73 L376.51 359.62 L376.85 359.53 L377.13 359.73 L377.47 359.54 L377.8 359.75 L378.06 359.49 L378.37 359.65 L378.68 359.61 L379.05 359.67 L379.36 359.55 L379.6 359.71 L380.01 359.73 L380.42 359.81 L380.68 359.58 L380.97 359.83 L381.35 359.85 L381.72 359.64 L382.06 359.57 L382.44 359.87 L382.83 359.81 L383.12 359.88 L383.39 359.79 L383.77 359.74 L384.17 359.66 L384.5 359.81 L384.83 359.69 L385.21 359.84 L385.51 359.82 L385.85 359.84 L386.22 359.93 L386.57 359.9 L386.96 359.67 L387.28 360.01 L387.69 359.82 L388.1 360.01 L388.42 359.88 L388.79 360.01 L389.21 360.09 L389.59 359.91 L389.95 359.94 L390.34 359.86 L390.78 360.04 L391.13 359.76 L391.4 359.99 L391.77 359.91 L392.22 359.9 L392.59 359.81 L392.93 359.93 L393.32 360.13 L393.73 359.95 L394.08 359.89 L394.43 359.89 L394.92 360.06 L395.36 359.98 L395.7 359.88 L396.07 360.07 L396.44 360.09 L396.82 359.89 L397.2 359.89 L397.6 359.91 L398.03 359.92 L398.39 360.23 L398.77 360.08 L399.14 360.14 L399.53 360.15 L400.02 360.23 L400.46 360.19 L400.9 360.18 L401.34 360.38 L401.71 360.27 L402.1 360.3 L402.57 360.28 L403.01 360.08 L403.39 360.22 L403.82 360.38 L404.26 360.36 L404.68 360.07 L405.08 360.44 L405.5 360.34 L405.99 360.3 L406.41 360.27 L406.79 360.09 L407.27 360.36 L407.73 360.41 L408.08 360.18 L408.42 360.12 L408.86 360.56 L409.4 360.13 L409.82 360.26 L410.2 360.54 L410.75 360.59 L411.23 360.62 L411.65 360.36 L412.2 360.51 L412.74 360.41 L412.36 357.63 L412 357.72 L411.65 357.55 L411.19 357.81 L410.78 357.77 L410.44 357.73 L409.93 357.45 L409.48 357.31 L409.14 357.75 L408.7 357.31 L408.17 357.35 L407.65 357.58 L407.25 357.52 L406.87 357.25 L406.38 357.43 L405.94 357.46 L405.57 357.49 L405.14 357.59 L404.69 357.21 L404.27 357.5 L403.86 357.52 L403.45 357.36 L403 357.21 L402.6 357.41 L402.23 357.43 L401.8 357.39 L401.34 357.5 L400.96 357.3 L400.57 357.31 L400.19 357.35 L399.86 357.28 L399.45 357.26 L399.01 357.19 L398.57 357.33 L398.13 357.02 L397.76 357.01 L397.36 356.99 L396.94 356.99 L396.53 357.18 L396.1 357.16 L395.69 356.97 L395.24 357.06 L394.9 357.13 L394.62 356.97 L394.19 356.97 L393.76 357.02 L393.4 357.2 L393.02 356.99 L392.59 356.87 L392.2 356.96 L391.9 356.96 L391.5 357.04 L391.02 356.82 L390.62 357.09 L390.31 356.91 L389.96 356.99 L389.57 356.95 L389.21 357.12 L388.9 357.05 L388.53 356.91 L388.12 357.04 L387.8 356.85 L387.48 357.04 L387.08 356.69 L386.75 356.93 L386.38 356.95 L386.03 356.86 L385.66 356.84 L385.24 356.85 L384.92 356.7 L384.55 356.82 L384.17 356.66 L383.88 356.74 L383.56 356.8 L383.14 356.88 L382.74 356.81 L382.44 356.86 L382.14 356.56 L381.8 356.63 L381.48 356.83 L381.19 356.82 L380.8 356.56 L380.39 356.79 L380.14 356.71 L379.88 356.7 L379.46 356.52 L379.11 356.64 L378.83 356.58 L378.48 356.61 L378.14 356.46 L377.75 356.71 L377.44 356.5 L377.13 356.68 L376.78 356.48 L376.47 356.57 L376.16 356.68 L375.91 356.59 L375.6 356.59 L375.22 356.59 L374.99 356.63 L374.67 356.61 L374.34 356.37 L374.06 356.59 L373.81 356.48 L373.53 356.52 L373.16 356.54 L372.85 356.5 L372.56 356.43 L372.23 356.34 L372 356.37 L371.73 356.3 L371.38 356.39 L371.08 356.37 L370.76 356.43 L370.43 356.19 L370.15 356.34 L369.88 356.29 L369.61 356.18 L369.26 356.33 L368.97 356.27 L368.76 356.32 L368.43 356.29 L368.18 356.32 L367.94 356.32 L367.65 356.24 L367.34 356.2 L367.08 356.22 L366.82 356.14 L366.53 356.18 L366.24 356.2 L365.97 356.3 L365.71 356.16 L365.46 356.29 L365.26 356.14 L365.03 356.23 L364.72 356.15 L364.45 356.15 L364.23 356.05 L364 356.01 L363.71 356.07 L363.44 356.13 L363.14 356.11 L362.78 355.99 L362.55 355.96 L362.39 356.08 L362.18 355.94 L361.87 356.13 L361.54 356.12 L361.35 356.09 L361.13 355.97 L360.89 356.03 L360.74 356.02 L360.48 356.11 L360.24 355.97 L360.01 356.04 L359.79 356.01 L359.61 355.97 L359.34 356.04 L359.05 355.85 L358.84 355.97 L358.66 355.86 L358.44 355.91 L358.1 355.91 L357.87 356 L357.68 355.91 L357.48 355.8 L357.27 355.95 L357.09 355.97 L356.91 355.89 L356.58 355.9 L356.37 355.78 L356.24 355.94 L356.07 355.8 L355.82 355.86 L355.5 355.87 L355.37 355.89 L355.26 355.84 L354.99 355.73 L354.77 355.87 L354.62 355.89 L354.46 355.75 L354.18 355.7 L353.96 355.8 L353.89 355.83 L353.7 355.74 L353.41 355.71 L353.17 355.76 L353 355.79 L352.8 355.65 L352.56 355.66 L352.4 355.67 L352.33 355.82 L352.08 355.76 L351.8 355.78 L351.65 355.77 L351.62 355.74 L351.54 355.63 L351.26 355.77 L351.1 355.7 L350.98 355.73 L350.72 355.57 L350.53 355.63 L350.43 355.74 L350.32 355.63 L350.12 355.59 L349.87 355.65 L349.75 355.66 L349.59 355.59 L349.32 355.52 L349.18 355.53 L349.14 355.6 L348.91 355.61 L348.71 355.59 L348.52 355.67 L348.34 355.59 L348.31 355.54 L348.15 355.65 L348.03 355.48 L347.92 355.65 L347.68 355.61 L347.61 355.54 L347.48 355.63 L347.33 355.55 L347.24 355.56 L347.01 355.59 L346.88 355.5 L346.81 355.51 L346.68 355.52 L346.55 355.58 L346.36 355.55 L346.14 355.58 L346.08 355.46 L346.01 355.51 L345.93 355.5 L345.88 355.55 L345.71 355.55 L345.53 355.47 L345.42 355.53 L345.29 355.45 L345.19 355.44 L345.14 355.42 L345.02 355.46 L344.78 355.45 L344.6 355.51 L344.48 355.48 L344.5 355.35 L344.51 355.49 L344.39 355.49 L344.26 355.47 L344.11 355.47 L344.02 355.34 L343.91 355.37 L343.82 355.41 L343.82 355.44 L343.61 355.31 L343.34 355.42 L343.34 355.46 L343.46 355.41 L343.27 355.34 L343.14 355.4 L343.27 355.44 L343.07 355.38 L342.87 355.28 L342.8 355.37 L342.84 355.32 L342.79 355.32 L342.43 355.41 L342.42 355.3 L342.49 355.4 L342.28 355.27 L342.34 355.35 L342.31 355.38 L342.16 355.29 L341.99 355.28 L341.99 355.34 L342.22 355.31 L342.07 355.32 L341.8 355.33 L341.88 355.36 L341.79 355.24 L341.62 355.24 L341.6 355.24 L341.61 355.3 L341.5 355.21 L341.34 355.31 L341.29 355.23 L341.27 355.33 L341.2 355.25 L341.19 355.27 L341.42 355.23 L341.39 355.32 L341.09 355.23 L341.13 355.27 L341.26 355.26 L341.15 355.18 L341.03 355.26 L340.76 355.3 L340.53 355.18 L340.08 355.32 L339.94 355.41Z"/>
<circle cx="340.73" cy="356.86" r="1.65" fill="#000"/>
<circle cx="412.55" cy="359.02" r="1.4" fill="#000"/>
<path fill="#000" stroke="#000" stroke-width="0.3" stroke-linejoin="round" d="M341.71 409.65 L341.73 409.62 L341.75 409.6 L341.77 409.57 L341.8 409.55 L341.82 409.53 L341.84 409.51 L341.86 409.49 L341.89 409.47 L341.92 409.45 L341.95 409.42 L341.98 409.4 L342.01 409.37 L342.05 409.35 L342.09 409.32 L342.12 409.29 L342.16 409.26 L342.21 409.23 L342.25 409.21 L342.3 409.18 L342.34 409.15 L342.39 409.12 L342.44 409.09 L342.5 409.05 L342.55 409.02 L342.61 408.99 L342.66 408.96 L342.72 408.93 L342.79 408.89 L342.85 408.86 L342.92 408.82 L342.99 408.79 L343.06 408.75 L343.14 408.71 L343.21 408.67 L343.29 408.63 L343.37 408.59 L343.45 408.55 L343.53 408.51 L343.61 408.47 L343.69 408.43 L343.77 408.39 L343.85 408.35 L343.93 408.31 L344.02 408.27 L344.1 408.23 L344.19 408.19 L344.27 408.15 L344.36 408.12 L344.44 408.08 L344.53 408.05 L344.62 408.01 L344.7 407.98 L344.79 407.95 L344.88 407.91 L344.97 407.88 L345.06 407.86 L345.16 407.83 L345.25 407.8 L345.35 407.77 L345.45 407.75 L345.55 407.72 L345.66 407.7 L345.76 407.67 L345.88 407.65 L345.99 407.62 L346.11 407.6 L346.22 407.57 L346.34 407.55 L346.46 407.53 L346.58 407.5 L346.71 407.48 L346.83 407.46 L346.96 407.43 L347.09 407.41 L347.22 407.39 L347.35 407.37 L347.48 407.34 L347.62 407.32 L347.75 407.3 L347.89 407.28 L348.03 407.26 L348.17 407.24 L348.32 407.22 L348.46 407.2 L348.6 407.18 L348.75 407.16 L348.9 407.14 L349.05 407.12 L349.2 407.1 L349.35 407.08 L349.51 407.06 L349.67 407.04 L349.82 407.03 L349.98 407.01 L350.14 406.99 L350.3 406.97 L350.47 406.95 L350.63 406.94 L350.8 406.92 L350.97 406.9 L351.14 406.88 L351.31 406.87 L351.48 406.85 L351.66 406.83 L351.83 406.82 L352.01 406.8 L352.19 406.78 L352.37 406.77 L352.55 406.75 L352.73 406.73 L352.91 406.72 L353.1 406.7 L353.28 406.69 L353.47 406.67 L353.66 406.65 L353.85 406.64 L354.05 406.62 L354.24 406.61 L354.43 406.59 L354.63 406.58 L354.83 406.56 L355.03 406.55 L355.23 406.53 L355.43 406.52 L355.64 406.5 L355.84 406.49 L356.05 406.48 L356.26 406.46 L356.47 406.45 L356.68 406.43 L356.89 406.42 L357.1 406.41 L357.32 406.39 L357.53 406.38 L357.75 406.37 L357.97 406.35 L358.19 406.34 L358.42 406.33 L358.64 406.31 L358.86 406.3 L359.09 406.29 L359.32 406.27 L359.55 406.26 L359.78 406.25 L360.01 406.24 L360.25 406.22 L360.48 406.21 L360.72 406.2 L360.95 406.19 L361.19 406.18 L361.43 406.16 L361.68 406.15 L361.92 406.14 L362.17 406.13 L362.41 406.12 L362.66 406.11 L362.91 406.09 L363.16 406.08 L363.41 406.07 L363.67 406.06 L363.92 406.05 L364.18 406.04 L364.44 406.03 L364.7 406.01 L364.96 406 L365.22 405.99 L365.49 405.98 L365.75 405.97 L366.02 405.95 L366.29 405.94 L366.56 405.93 L366.83 405.91 L367.1 405.9 L367.37 405.89 L367.65 405.88 L367.92 405.86 L368.2 405.85 L368.48 405.84 L368.76 405.83 L369.04 405.82 L369.32 405.8 L369.6 405.79 L369.89 405.78 L370.18 405.77 L370.46 405.76 L370.75 405.75 L371.04 405.74 L371.33 405.73 L371.63 405.72 L371.92 405.71 L372.22 405.7 L372.51 405.7 L372.81 405.69 L373.11 405.68 L373.41 405.67 L373.71 405.67 L374.02 405.66 L374.32 405.66 L374.63 405.65 L374.94 405.65 L375.24 405.65 L375.55 405.64 L375.87 405.64 L376.18 405.64 L376.49 405.64 L376.81 405.64 L377.13 405.64 L377.45 405.64 L377.77 405.64 L378.09 405.65 L378.41 405.65 L378.74 405.65 L379.07 405.65 L379.4 405.66 L379.73 405.66 L380.06 405.66 L380.39 405.67 L380.72 405.67 L381.06 405.68 L381.4 405.68 L381.73 405.69 L382.07 405.69 L382.42 405.7 L382.76 405.71 L383.1 405.71 L383.45 405.72 L383.8 405.73 L384.14 405.73 L384.49 405.74 L384.85 405.75 L385.2 405.76 L385.55 405.77 L385.91 405.77 L386.27 405.78 L386.62 405.79 L386.98 405.8 L387.35 405.81 L387.71 405.82 L388.07 405.83 L388.44 405.84 L388.81 405.85 L389.17 405.86 L389.54 405.87 L389.92 405.88 L390.29 405.89 L390.66 405.9 L391.04 405.91 L391.41 405.92 L391.79 405.93 L392.16 405.94 L392.54 405.95 L392.92 405.97 L393.3 405.99 L393.69 406 L394.07 406.02 L394.46 406.04 L394.84 406.06 L395.23 406.08 L395.62 406.1 L396.02 406.12 L396.41 406.14 L396.81 406.16 L397.2 406.19 L397.6 406.21 L398 406.23 L398.41 406.26 L398.81 406.28 L399.21 406.3 L399.62 406.33 L400.03 406.35 L400.44 406.38 L400.85 406.4 L401.26 406.43 L401.68 406.45 L402.09 406.47 L402.51 406.5 L402.93 406.52 L403.35 406.54 L403.77 406.57 L404.19 406.59 L404.61 406.62 L405.04 406.64 L405.46 406.66 L405.89 406.69 L406.32 406.72 L406.75 406.74 L407.18 406.77 L407.61 406.79 L408.05 406.82 L408.48 406.85 L408.92 406.87 L409.36 406.9 L409.8 406.93 L410.24 406.95 L410.68 406.98 L411.12 407.01 L411.57 407.04 L412.02 407.07 L412.47 407.09 L412.63 404.5 L412.18 404.47 L411.74 404.44 L411.29 404.41 L410.84 404.38 L410.4 404.36 L409.96 404.33 L409.52 404.3 L409.08 404.27 L408.64 404.25 L408.21 404.22 L407.77 404.19 L407.34 404.16 L406.9 404.14 L406.47 404.11 L406.04 404.09 L405.62 404.06 L405.19 404.03 L404.76 404.01 L404.34 403.98 L403.92 403.96 L403.5 403.93 L403.08 403.91 L402.66 403.89 L402.24 403.86 L401.83 403.84 L401.42 403.81 L401 403.79 L400.59 403.77 L400.18 403.74 L399.78 403.72 L399.37 403.69 L398.96 403.67 L398.56 403.64 L398.16 403.62 L397.76 403.59 L397.36 403.57 L396.96 403.55 L396.56 403.52 L396.16 403.5 L395.77 403.48 L395.37 403.46 L394.98 403.44 L394.59 403.42 L394.19 403.4 L393.81 403.38 L393.42 403.36 L393.03 403.34 L392.64 403.33 L392.26 403.31 L391.88 403.3 L391.49 403.29 L391.12 403.28 L390.74 403.27 L390.36 403.26 L389.99 403.25 L389.62 403.24 L389.25 403.23 L388.88 403.22 L388.51 403.21 L388.14 403.2 L387.78 403.19 L387.41 403.18 L387.05 403.17 L386.69 403.16 L386.33 403.15 L385.97 403.14 L385.62 403.13 L385.26 403.12 L384.91 403.11 L384.55 403.1 L384.2 403.1 L383.85 403.09 L383.5 403.08 L383.16 403.07 L382.81 403.07 L382.47 403.06 L382.12 403.05 L381.78 403.05 L381.44 403.04 L381.1 403.03 L380.76 403.03 L380.43 403.02 L380.09 403.02 L379.76 403.01 L379.42 403.01 L379.09 403.01 L378.76 403 L378.44 403 L378.11 403 L377.78 403 L377.46 402.99 L377.14 402.99 L376.81 402.99 L376.49 402.99 L376.17 402.99 L375.85 402.99 L375.54 402.99 L375.22 402.99 L374.91 403 L374.59 403 L374.28 403.01 L373.97 403.01 L373.67 403.01 L373.36 403.02 L373.05 403.03 L372.75 403.03 L372.45 403.04 L372.14 403.05 L371.85 403.06 L371.55 403.07 L371.25 403.07 L370.96 403.08 L370.66 403.09 L370.37 403.1 L370.08 403.11 L369.79 403.12 L369.5 403.14 L369.22 403.15 L368.93 403.16 L368.65 403.17 L368.37 403.18 L368.08 403.19 L367.81 403.21 L367.53 403.22 L367.25 403.23 L366.98 403.24 L366.71 403.25 L366.43 403.27 L366.16 403.28 L365.9 403.29 L365.63 403.3 L365.36 403.32 L365.1 403.33 L364.84 403.34 L364.58 403.35 L364.32 403.36 L364.06 403.37 L363.8 403.38 L363.55 403.4 L363.29 403.41 L363.04 403.42 L362.79 403.43 L362.54 403.44 L362.29 403.45 L362.04 403.46 L361.79 403.47 L361.55 403.48 L361.31 403.5 L361.06 403.51 L360.82 403.52 L360.58 403.53 L360.34 403.54 L360.11 403.56 L359.87 403.57 L359.64 403.58 L359.4 403.59 L359.17 403.6 L358.94 403.62 L358.71 403.63 L358.49 403.64 L358.26 403.66 L358.04 403.67 L357.81 403.68 L357.59 403.69 L357.37 403.71 L357.15 403.72 L356.93 403.73 L356.72 403.75 L356.5 403.76 L356.29 403.78 L356.08 403.79 L355.87 403.8 L355.66 403.82 L355.45 403.83 L355.24 403.85 L355.04 403.86 L354.83 403.88 L354.63 403.89 L354.43 403.91 L354.23 403.92 L354.03 403.94 L353.84 403.95 L353.64 403.97 L353.45 403.98 L353.25 404 L353.06 404.01 L352.87 404.03 L352.68 404.05 L352.49 404.06 L352.31 404.08 L352.12 404.09 L351.94 404.11 L351.76 404.13 L351.58 404.14 L351.4 404.16 L351.22 404.18 L351.04 404.2 L350.87 404.21 L350.7 404.23 L350.52 404.25 L350.35 404.27 L350.18 404.28 L350.01 404.3 L349.85 404.32 L349.68 404.34 L349.52 404.36 L349.35 404.38 L349.19 404.39 L349.03 404.41 L348.87 404.43 L348.71 404.45 L348.56 404.47 L348.4 404.49 L348.25 404.51 L348.09 404.53 L347.94 404.56 L347.79 404.58 L347.64 404.6 L347.49 404.62 L347.35 404.64 L347.2 404.66 L347.06 404.69 L346.91 404.71 L346.77 404.73 L346.63 404.76 L346.49 404.78 L346.35 404.81 L346.22 404.83 L346.08 404.86 L345.95 404.88 L345.81 404.91 L345.68 404.94 L345.55 404.96 L345.42 404.99 L345.29 405.02 L345.16 405.05 L345.03 405.08 L344.91 405.11 L344.78 405.14 L344.65 405.17 L344.52 405.21 L344.39 405.24 L344.27 405.28 L344.14 405.32 L344.01 405.36 L343.89 405.41 L343.77 405.45 L343.65 405.49 L343.54 405.54 L343.42 405.59 L343.31 405.63 L343.2 405.68 L343.09 405.73 L342.99 405.77 L342.89 405.82 L342.79 405.87 L342.69 405.92 L342.59 405.96 L342.5 406.01 L342.4 406.06 L342.31 406.1 L342.23 406.15 L342.14 406.19 L342.06 406.23 L341.98 406.27 L341.9 406.31 L341.82 406.35 L341.74 406.39 L341.66 406.43 L341.59 406.47 L341.51 406.52 L341.43 406.56 L341.36 406.6 L341.28 406.64 L341.21 406.68 L341.13 406.73 L341.06 406.77 L340.99 406.81 L340.92 406.86 L340.85 406.9 L340.78 406.94 L340.71 406.99 L340.65 407.03 L340.58 407.08 L340.52 407.12 L340.46 407.17 L340.39 407.21 L340.33 407.26 L340.27 407.3 L340.21 407.35 L340.16 407.4 L340.1 407.45 L340.04 407.5 L339.99 407.55 L339.94 407.6 L339.88 407.65 L339.84 407.69 L339.79 407.74 L339.75 407.78Z"/>
<circle cx="340.73" cy="408.71" r="1.35" fill="#000"/>
<circle cx="412.55" cy="405.8" r="1.3" fill="#000"/>
<rect class="ax" x="337.2" y="323.8" width="187.45" height="115.75"/>
<path class="ax" d="M340.5 439.55v4.1M386.54 439.55v4.1M432.57 439.55v4.1M478.61 439.55v4.1M524.65 439.55v4.1M337.2 323.8h-4.1M337.2 346.95h-4.1M337.2 370.1h-4.1M337.2 393.25h-4.1M337.2 416.4h-4.1M337.2 439.55h-4.1"/>
<text class="t" text-anchor="middle" x="340.5" y="457.05">0</text>
<text class="t" text-anchor="middle" x="386.54" y="457.05">20,000</text>
<text class="t" text-anchor="middle" x="432.57" y="457.05">40,000</text>
<text class="t" text-anchor="middle" x="478.61" y="457.05">60,000</text>
<text class="t" text-anchor="middle" x="524.65" y="457.05">80,000</text>
<text class="t" text-anchor="end" x="328.5" y="328.5">1000</text>
<text class="t" text-anchor="end" x="328.5" y="351.65">500</text>
<text class="t" text-anchor="end" x="328.5" y="374.8">0</text>
<text class="t" text-anchor="end" x="328.5" y="397.95">−500</text>
<text class="t" text-anchor="end" x="328.5" y="421.1">−1000</text>
<text class="t" text-anchor="end" x="328.5" y="444.25">−1500</text>
<text class="t" text-anchor="middle" x="430.92" y="474.05">Time in s</text>
<text class="t" text-anchor="middle" transform="translate(280.7 381.68) rotate(-90)">Stress in MPa</text>
<text class="s" x="455.6" y="336.5">IP TMF HT2</text>
<text class="s" x="455.6" y="347.3">Standard sft</text>
</g>
<rect x="114.1" y="486" width="363.7" height="39.3" rx="2.4" ry="2.4" fill="#fff" stroke="#262626" stroke-width="1.1"/>
<path fill="#008000" stroke="#008000" stroke-width="0.9" stroke-linejoin="round" d="M130.7 493.4l2.3 2.3l-2.3 2.3l-2.3 -2.3z"/>
<text class="t" x="153" y="499.6">Model HT0</text>
<circle cx="130.7" cy="513.5" r="2.05" fill="#000000"/>
<text class="t" x="153" y="517.7">Test HT0</text>
<path fill="#0000ff" stroke="#0000ff" stroke-width="0.9" stroke-linejoin="round" d="M256.8 493.4l2.3 2.3l-2.3 2.3l-2.3 -2.3z"/>
<text class="t" x="279.1" y="499.6">Model HT1</text>
<path fill="#000000" d="M256.8 510.8l2.7 5.2h-5.4z"/>
<text class="t" x="279.1" y="517.7">Test HT1</text>
<path fill="#ff0000" stroke="#ff0000" stroke-width="0.9" stroke-linejoin="round" d="M382.9 493.4l2.3 2.3l-2.3 2.3l-2.3 -2.3z"/>
<text class="t" x="405.2" y="499.6">Model HT2</text>
<circle cx="382.9" cy="513.5" r="2.05" fill="#000000"/>
<text class="t" x="405.2" y="517.7">Test HT2</text>
</svg></body></html>
